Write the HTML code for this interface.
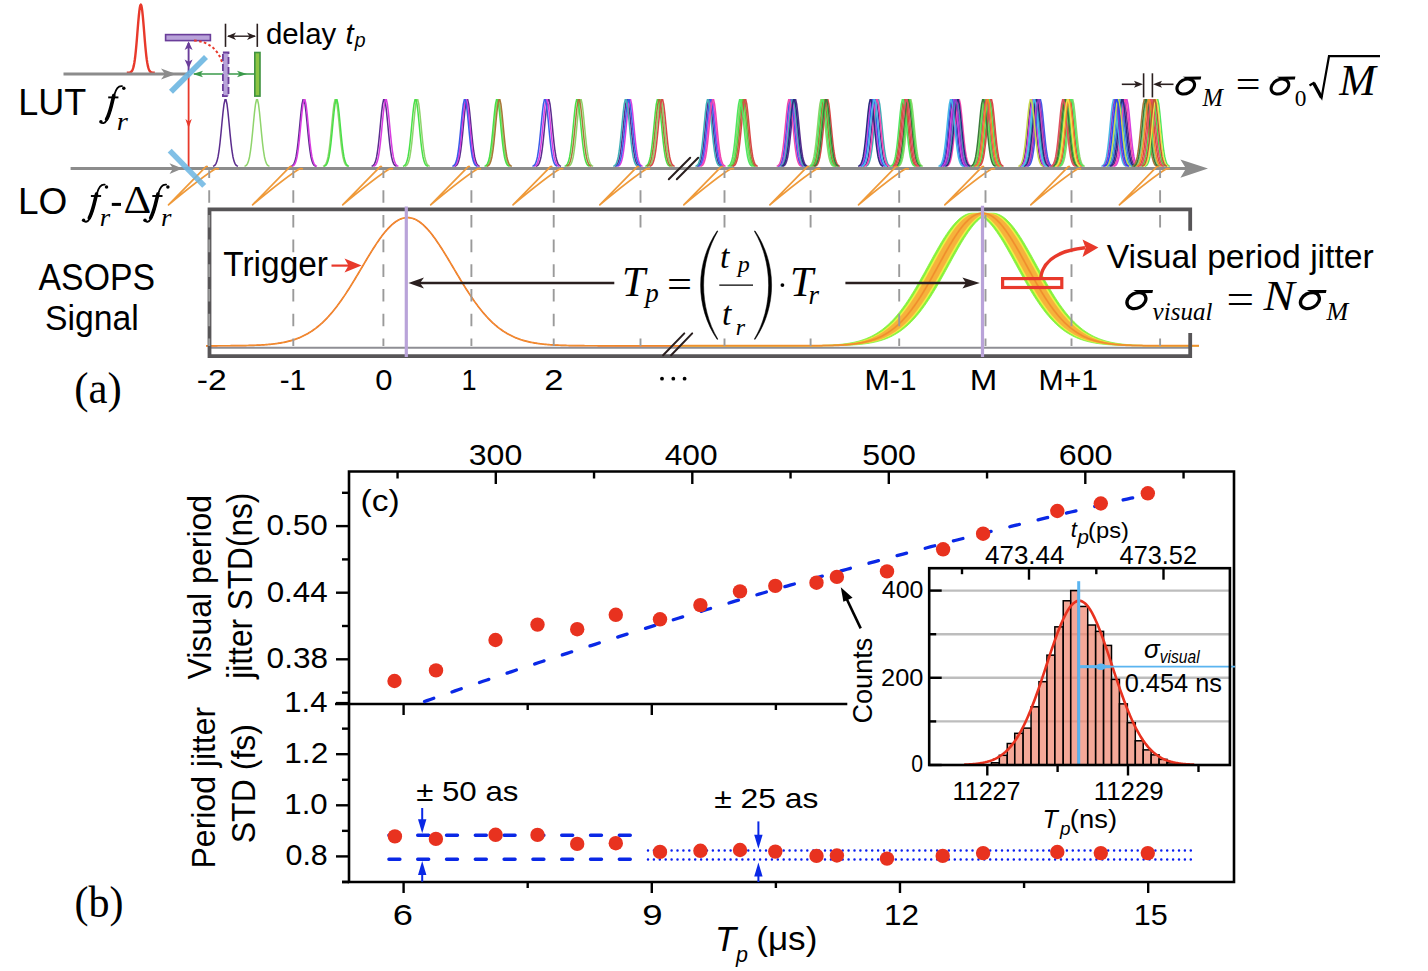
<!DOCTYPE html>
<html><head><meta charset="utf-8"><style>
html,body{margin:0;padding:0;background:#fff;width:1428px;height:971px;overflow:hidden;}
svg{display:block;}
</style></head><body>
<svg width="1428" height="971" viewBox="0 0 1428 971">
<rect width="1428" height="971" fill="#fff"/>
<path d="M126.8 72.79 127.3 72.78 127.8 72.77 128.3 72.75 128.8 72.71 129.3 72.64 129.8 72.54 130.3 72.37 130.8 72.11 131.3 71.72 131.8 71.15 132.3 70.33 132.8 69.19 133.3 67.65 133.8 65.61 134.3 63 134.8 59.74 135.3 55.79 135.8 51.16 136.3 45.88 136.8 40.09 137.3 33.94 137.8 27.68 138.3 21.61 138.8 16.04 139.3 11.29 139.8 7.66 140.3 5.38 140.8 4.6 141.3 5.38 141.8 7.66 142.3 11.29 142.8 16.04 143.3 21.61 143.8 27.68 144.3 33.94 144.8 40.09 145.3 45.88 145.8 51.16 146.3 55.79 146.8 59.74 147.3 63 147.8 65.61 148.3 67.65 148.8 69.19 149.3 70.33 149.8 71.15 150.3 71.72 150.8 72.11 151.3 72.37 151.8 72.54 152.3 72.64 152.8 72.71 153.3 72.75 153.8 72.77 154.3 72.78 154.8 72.79" fill="none" stroke="#e8392b" stroke-width="2.4" stroke-linejoin="round"/>
<line x1="63.5" y1="74" x2="189" y2="74" stroke="#8c8c8c" stroke-width="3"/>
<polygon points="176,74 161,68.6 165,74 161,79.4" fill="#8c8c8c"/>
<line x1="188.6" y1="74" x2="188.6" y2="168.5" stroke="#e8392b" stroke-width="1.8"/>
<polygon points="188.6,128 185.4,119 188.6,121.5 191.8,119" fill="#e8392b"/>
<line x1="188.6" y1="43" x2="188.6" y2="73" stroke="#6a3d9a" stroke-width="1.9"/>
<polygon points="188.6,41.3 184.6,50 188.6,47.8 192.6,50" fill="#6a3d9a"/>
<polygon points="188.6,68.2 184.6,59.5 188.6,61.7 192.6,59.5" fill="#6a3d9a"/>
<rect x="165.6" y="34.6" width="44.8" height="6" fill="#b8a2d9" stroke="#6a3d9a" stroke-width="1.6"/>
<path d="M194 40.5 Q216 42 222.5 63.5" fill="none" stroke="#e8392b" stroke-width="2" stroke-dasharray="2.6 2.4"/>
<line x1="171" y1="91.8" x2="206" y2="57" stroke="#6cb6e2" stroke-width="5.6" opacity="0.9"/>
<line x1="194" y1="74" x2="254.5" y2="74" stroke="#3a9a4a" stroke-width="1.5"/>
<polygon points="192.8,74 203,70.8 200.5,74 203,77.2" fill="#3a9a4a"/>
<polygon points="247,74 237,70.8 239.5,74 237,77.2" fill="#3a9a4a"/>
<rect x="222.9" y="52.5" width="5.6" height="43.6" fill="#b8a2d9" stroke="#6a3d9a" stroke-width="1.8" stroke-dasharray="7 3"/>
<rect x="254.8" y="52.5" width="5.2" height="43.6" fill="#8cc444" stroke="#3f9340" stroke-width="1.6"/>
<line x1="225.5" y1="23.7" x2="225.5" y2="46.9" stroke="#2a1f1f" stroke-width="1.6"/>
<line x1="257.3" y1="23.7" x2="257.3" y2="46.9" stroke="#2a1f1f" stroke-width="1.6"/>
<line x1="228" y1="36.2" x2="255" y2="36.2" stroke="#2a1f1f" stroke-width="1.4"/>
<polygon points="227,36.2 236,32.4 233.5,36.2 236,40" fill="#2a1f1f"/>
<polygon points="256,36.2 247,32.4 249.5,36.2 247,40" fill="#2a1f1f"/>
<text x="265.92" y="43.6" font-family="Liberation Sans" font-size="29.2" fill="#000" textLength="70.3" lengthAdjust="spacingAndGlyphs">delay</text>
<text x="345.59" y="43.6" font-family="Liberation Sans" font-size="29.2" font-style="italic" fill="#000">t</text>
<text x="354.79" y="47" font-family="Liberation Sans" font-size="19.5" font-style="italic" fill="#000">p</text>
<text x="18.22" y="115" font-family="Liberation Sans" font-size="37" fill="#000" textLength="68.08" lengthAdjust="spacingAndGlyphs">LUT</text>
<path d="M100.8 121.9 C102.2 123.9 104.6 123.6 106.4 120.8 C108.4 117.6 110 112 111.4 106.5 L114.4 94.5 C116.2 88 119.4 85.7 122 86.1" fill="none" stroke="#000" stroke-width="1.8" stroke-linecap="round"/>
<path d="M106.6 119.2 C108.6 115.8 109.8 111.5 111.2 106.2 L113.8 95.5" fill="none" stroke="#000" stroke-width="3.6" stroke-linecap="round"/>
<circle cx="100.9" cy="121.7" r="1.75"/>
<circle cx="123.8" cy="88.3" r="1.75"/>
<line x1="108.2" y1="97.4" x2="118.4" y2="97.4" stroke="#000" stroke-width="1.92"/>
<text x="116.76" y="129.6" font-family="Liberation Serif" font-size="25" font-style="italic" fill="#000" textLength="11.12" lengthAdjust="spacingAndGlyphs">r</text>
<text x="18.05" y="213.6" font-family="Liberation Sans" font-size="37" fill="#000">LO</text>
<path d="M83.5 220.5 C84.9 222.5 87.3 222.2 89.1 219.4 C91.1 216.2 92.7 210.6 94.1 205.1 L97.1 193.1 C98.9 186.6 102.1 184.3 104.7 184.7" fill="none" stroke="#000" stroke-width="1.8" stroke-linecap="round"/>
<path d="M89.3 217.8 C91.3 214.4 92.5 210.1 93.9 204.8 L96.5 194.1" fill="none" stroke="#000" stroke-width="3.6" stroke-linecap="round"/>
<circle cx="83.6" cy="220.3" r="1.75"/>
<circle cx="106.5" cy="186.9" r="1.75"/>
<line x1="90.9" y1="196" x2="101.1" y2="196" stroke="#000" stroke-width="1.92"/>
<text x="99.73" y="226.4" font-family="Liberation Serif" font-size="25" font-style="italic" fill="#000" textLength="10.45" lengthAdjust="spacingAndGlyphs">r</text>
<rect x="111.8" y="202.9" width="9.2" height="3" fill="#000"/>
<text x="123.47" y="212.8" font-family="Liberation Serif" font-size="41" fill="#000" textLength="27.77" lengthAdjust="spacingAndGlyphs">Δ</text>
<path d="M144.9 220.5 C146.3 222.5 148.7 222.2 150.5 219.4 C152.5 216.2 154.1 210.6 155.5 205.1 L158.5 193.1 C160.3 186.6 163.5 184.3 166.1 184.7" fill="none" stroke="#000" stroke-width="1.8" stroke-linecap="round"/>
<path d="M150.7 217.8 C152.7 214.4 153.9 210.1 155.3 204.8 L157.9 194.1" fill="none" stroke="#000" stroke-width="3.6" stroke-linecap="round"/>
<circle cx="145" cy="220.3" r="1.75"/>
<circle cx="167.9" cy="186.9" r="1.75"/>
<line x1="152.3" y1="196" x2="162.5" y2="196" stroke="#000" stroke-width="1.92"/>
<text x="161.13" y="226.4" font-family="Liberation Serif" font-size="25" font-style="italic" fill="#000" textLength="10.45" lengthAdjust="spacingAndGlyphs">r</text>
<line x1="70.6" y1="168.6" x2="1186" y2="168.6" stroke="#8c8c8c" stroke-width="3"/>
<polygon points="182.5,168.6 169.5,163.2 173,168.6 169.5,174" fill="#8c8c8c"/>
<polygon points="1208,168.6 1180.4,159.4 1186,168.6 1180.4,177.8" fill="#8c8c8c"/>
<path d="M213 166.3 214 165.91 215 165.12 216 163.64 217 161.08 218 156.99 219 150.99 220 142.95 221 133.17 222 122.5 223 112.32 224 104.25 225 99.78 226 99.78 227 104.25 228 112.32 229 122.5 230 133.17 231 142.95 232 150.99 233 156.99 234 161.08 235 163.64 236 165.12 237 165.91 238 166.3" fill="none" stroke="#5b2d8e" stroke-width="1.5"/>
<path d="M244.5 166.3 245.5 165.91 246.5 165.12 247.5 163.64 248.5 161.08 249.5 156.99 250.5 150.99 251.5 142.95 252.5 133.17 253.5 122.5 254.5 112.32 255.5 104.25 256.5 99.78 257.5 99.78 258.5 104.25 259.5 112.32 260.5 122.5 261.5 133.17 262.5 142.95 263.5 150.99 264.5 156.99 265.5 161.08 266.5 163.64 267.5 165.12 268.5 165.91 269.5 166.3" fill="none" stroke="#8fd46c" stroke-width="1.5"/>
<path d="M291 166.3 292 165.91 293 165.12 294 163.64 295 161.08 296 156.99 297 150.99 298 142.95 299 133.17 300 122.5 301 112.32 302 104.25 303 99.78 304 99.78 305 104.25 306 112.32 307 122.5 308 133.17 309 142.95 310 150.99 311 156.99 312 161.08 313 163.64 314 165.12 315 165.91 316 166.3" fill="none" stroke="#5b2d8e" stroke-width="1.5"/>
<path d="M292 166.3 293 165.91 294 165.12 295 163.64 296 161.08 297 156.99 298 150.99 299 142.95 300 133.17 301 122.5 302 112.32 303 104.25 304 99.78 305 99.78 306 104.25 307 112.32 308 122.5 309 133.17 310 142.95 311 150.99 312 156.99 313 161.08 314 163.64 315 165.12 316 165.91 317 166.3" fill="none" stroke="#d83ce0" stroke-width="1.5"/>
<path d="M323 166.3 324 165.91 325 165.12 326 163.64 327 161.08 328 156.99 329 150.99 330 142.95 331 133.17 332 122.5 333 112.32 334 104.25 335 99.78 336 99.78 337 104.25 338 112.32 339 122.5 340 133.17 341 142.95 342 150.99 343 156.99 344 161.08 345 163.64 346 165.12 347 165.91 348 166.3" fill="none" stroke="#8fd46c" stroke-width="1.5"/>
<path d="M324 166.3 325 165.91 326 165.12 327 163.64 328 161.08 329 156.99 330 150.99 331 142.95 332 133.17 333 122.5 334 112.32 335 104.25 336 99.78 337 99.78 338 104.25 339 112.32 340 122.5 341 133.17 342 142.95 343 150.99 344 156.99 345 161.08 346 163.64 347 165.12 348 165.91 349 166.3" fill="none" stroke="#48e048" stroke-width="1.5"/>
<path d="M371.6 166.3 372.6 165.91 373.6 165.12 374.6 163.64 375.6 161.08 376.6 156.99 377.6 150.99 378.6 142.95 379.6 133.17 380.6 122.5 381.6 112.32 382.6 104.25 383.6 99.78 384.6 99.78 385.6 104.25 386.6 112.32 387.6 122.5 388.6 133.17 389.6 142.95 390.6 150.99 391.6 156.99 392.6 161.08 393.6 163.64 394.6 165.12 395.6 165.91 396.6 166.3" fill="none" stroke="#5b2d8e" stroke-width="1.5"/>
<path d="M373.4 166.3 374.4 165.91 375.4 165.12 376.4 163.64 377.4 161.08 378.4 156.99 379.4 150.99 380.4 142.95 381.4 133.17 382.4 122.5 383.4 112.32 384.4 104.25 385.4 99.78 386.4 99.78 387.4 104.25 388.4 112.32 389.4 122.5 390.4 133.17 391.4 142.95 392.4 150.99 393.4 156.99 394.4 161.08 395.4 163.64 396.4 165.12 397.4 165.91 398.4 166.3" fill="none" stroke="#d83ce0" stroke-width="1.5"/>
<path d="M404.8 166.3 405.8 165.91 406.8 165.12 407.8 163.64 408.8 161.08 409.8 156.99 410.8 150.99 411.8 142.95 412.8 133.17 413.8 122.5 414.8 112.32 415.8 104.25 416.8 99.78 417.8 99.78 418.8 104.25 419.8 112.32 420.8 122.5 421.8 133.17 422.8 142.95 423.8 150.99 424.8 156.99 425.8 161.08 426.8 163.64 427.8 165.12 428.8 165.91 429.8 166.3" fill="none" stroke="#8fd46c" stroke-width="1.5"/>
<path d="M403 166.3 404 165.91 405 165.12 406 163.64 407 161.08 408 156.99 409 150.99 410 142.95 411 133.17 412 122.5 413 112.32 414 104.25 415 99.78 416 99.78 417 104.25 418 112.32 419 122.5 420 133.17 421 142.95 422 150.99 423 156.99 424 161.08 425 163.64 426 165.12 427 165.91 428 166.3" fill="none" stroke="#48e048" stroke-width="1.5"/>
<path d="M454.7 166.3 455.7 165.91 456.7 165.12 457.7 163.64 458.7 161.08 459.7 156.99 460.7 150.99 461.7 142.95 462.7 133.17 463.7 122.5 464.7 112.32 465.7 104.25 466.7 99.78 467.7 99.78 468.7 104.25 469.7 112.32 470.7 122.5 471.7 133.17 472.7 142.95 473.7 150.99 474.7 156.99 475.7 161.08 476.7 163.64 477.7 165.12 478.7 165.91 479.7 166.3" fill="none" stroke="#5b2d8e" stroke-width="1.5"/>
<path d="M453.5 166.3 454.5 165.91 455.5 165.12 456.5 163.64 457.5 161.08 458.5 156.99 459.5 150.99 460.5 142.95 461.5 133.17 462.5 122.5 463.5 112.32 464.5 104.25 465.5 99.78 466.5 99.78 467.5 104.25 468.5 112.32 469.5 122.5 470.5 133.17 471.5 142.95 472.5 150.99 473.5 156.99 474.5 161.08 475.5 163.64 476.5 165.12 477.5 165.91 478.5 166.3" fill="none" stroke="#d83ce0" stroke-width="1.5"/>
<path d="M452.3 166.3 453.3 165.91 454.3 165.12 455.3 163.64 456.3 161.08 457.3 156.99 458.3 150.99 459.3 142.95 460.3 133.17 461.3 122.5 462.3 112.32 463.3 104.25 464.3 99.78 465.3 99.78 466.3 104.25 467.3 112.32 468.3 122.5 469.3 133.17 470.3 142.95 471.3 150.99 472.3 156.99 473.3 161.08 474.3 163.64 475.3 165.12 476.3 165.91 477.3 166.3" fill="none" stroke="#3c5ce8" stroke-width="1.5"/>
<path d="M485.7 166.3 486.7 165.91 487.7 165.12 488.7 163.64 489.7 161.08 490.7 156.99 491.7 150.99 492.7 142.95 493.7 133.17 494.7 122.5 495.7 112.32 496.7 104.25 497.7 99.78 498.7 99.78 499.7 104.25 500.7 112.32 501.7 122.5 502.7 133.17 503.7 142.95 504.7 150.99 505.7 156.99 506.7 161.08 507.7 163.64 508.7 165.12 509.7 165.91 510.7 166.3" fill="none" stroke="#8fd46c" stroke-width="1.5"/>
<path d="M484.5 166.3 485.5 165.91 486.5 165.12 487.5 163.64 488.5 161.08 489.5 156.99 490.5 150.99 491.5 142.95 492.5 133.17 493.5 122.5 494.5 112.32 495.5 104.25 496.5 99.78 497.5 99.78 498.5 104.25 499.5 112.32 500.5 122.5 501.5 133.17 502.5 142.95 503.5 150.99 504.5 156.99 505.5 161.08 506.5 163.64 507.5 165.12 508.5 165.91 509.5 166.3" fill="none" stroke="#48e048" stroke-width="1.5"/>
<path d="M486.9 166.3 487.9 165.91 488.9 165.12 489.9 163.64 490.9 161.08 491.9 156.99 492.9 150.99 493.9 142.95 494.9 133.17 495.9 122.5 496.9 112.32 497.9 104.25 498.9 99.78 499.9 99.78 500.9 104.25 501.9 112.32 502.9 122.5 503.9 133.17 504.9 142.95 505.9 150.99 506.9 156.99 507.9 161.08 508.9 163.64 509.9 165.12 510.9 165.91 511.9 166.3" fill="none" stroke="#a87838" stroke-width="1.5"/>
<path d="M536 166.3 537 165.91 538 165.12 539 163.64 540 161.08 541 156.99 542 150.99 543 142.95 544 133.17 545 122.5 546 112.32 547 104.25 548 99.78 549 99.78 550 104.25 551 112.32 552 122.5 553 133.17 554 142.95 555 150.99 556 156.99 557 161.08 558 163.64 559 165.12 560 165.91 561 166.3" fill="none" stroke="#5b2d8e" stroke-width="1.5"/>
<path d="M534.2 166.3 535.2 165.91 536.2 165.12 537.2 163.64 538.2 161.08 539.2 156.99 540.2 150.99 541.2 142.95 542.2 133.17 543.2 122.5 544.2 112.32 545.2 104.25 546.2 99.78 547.2 99.78 548.2 104.25 549.2 112.32 550.2 122.5 551.2 133.17 552.2 142.95 553.2 150.99 554.2 156.99 555.2 161.08 556.2 163.64 557.2 165.12 558.2 165.91 559.2 166.3" fill="none" stroke="#d83ce0" stroke-width="1.5"/>
<path d="M532.4 166.3 533.4 165.91 534.4 165.12 535.4 163.64 536.4 161.08 537.4 156.99 538.4 150.99 539.4 142.95 540.4 133.17 541.4 122.5 542.4 112.32 543.4 104.25 544.4 99.78 545.4 99.78 546.4 104.25 547.4 112.32 548.4 122.5 549.4 133.17 550.4 142.95 551.4 150.99 552.4 156.99 553.4 161.08 554.4 163.64 555.4 165.12 556.4 165.91 557.4 166.3" fill="none" stroke="#3c5ce8" stroke-width="1.5"/>
<path d="M568.2 166.3 569.2 165.91 570.2 165.12 571.2 163.64 572.2 161.08 573.2 156.99 574.2 150.99 575.2 142.95 576.2 133.17 577.2 122.5 578.2 112.32 579.2 104.25 580.2 99.78 581.2 99.78 582.2 104.25 583.2 112.32 584.2 122.5 585.2 133.17 586.2 142.95 587.2 150.99 588.2 156.99 589.2 161.08 590.2 163.64 591.2 165.12 592.2 165.91 593.2 166.3" fill="none" stroke="#8fd46c" stroke-width="1.5"/>
<path d="M564.6 166.3 565.6 165.91 566.6 165.12 567.6 163.64 568.6 161.08 569.6 156.99 570.6 150.99 571.6 142.95 572.6 133.17 573.6 122.5 574.6 112.32 575.6 104.25 576.6 99.78 577.6 99.78 578.6 104.25 579.6 112.32 580.6 122.5 581.6 133.17 582.6 142.95 583.6 150.99 584.6 156.99 585.6 161.08 586.6 163.64 587.6 165.12 588.6 165.91 589.6 166.3" fill="none" stroke="#48e048" stroke-width="1.5"/>
<path d="M566.4 166.3 567.4 165.91 568.4 165.12 569.4 163.64 570.4 161.08 571.4 156.99 572.4 150.99 573.4 142.95 574.4 133.17 575.4 122.5 576.4 112.32 577.4 104.25 578.4 99.78 579.4 99.78 580.4 104.25 581.4 112.32 582.4 122.5 583.4 133.17 584.4 142.95 585.4 150.99 586.4 156.99 587.4 161.08 588.4 163.64 589.4 165.12 590.4 165.91 591.4 166.3" fill="none" stroke="#a87838" stroke-width="1.5"/>
<path d="M614.67 166.3 615.67 165.91 616.67 165.12 617.67 163.64 618.67 161.08 619.67 156.99 620.67 150.99 621.67 142.95 622.67 133.17 623.67 122.5 624.67 112.32 625.67 104.25 626.67 99.78 627.67 99.78 628.67 104.25 629.67 112.32 630.67 122.5 631.67 133.17 632.67 142.95 633.67 150.99 634.67 156.99 635.67 161.08 636.67 163.64 637.67 165.12 638.67 165.91 639.67 166.3" fill="none" stroke="#5b2d8e" stroke-width="1.5"/>
<path d="M617.6 166.3 618.6 165.91 619.6 165.12 620.6 163.64 621.6 161.08 622.6 156.99 623.6 150.99 624.6 142.95 625.6 133.17 626.6 122.5 627.6 112.32 628.6 104.25 629.6 99.78 630.6 99.78 631.6 104.25 632.6 112.32 633.6 122.5 634.6 133.17 635.6 142.95 636.6 150.99 637.6 156.99 638.6 161.08 639.6 163.64 640.6 165.12 641.6 165.91 642.6 166.3" fill="none" stroke="#d83ce0" stroke-width="1.5"/>
<path d="M616.13 166.3 617.13 165.91 618.13 165.12 619.13 163.64 620.13 161.08 621.13 156.99 622.13 150.99 623.13 142.95 624.13 133.17 625.13 122.5 626.13 112.32 627.13 104.25 628.13 99.78 629.13 99.78 630.13 104.25 631.13 112.32 632.13 122.5 633.13 133.17 634.13 142.95 635.13 150.99 636.13 156.99 637.13 161.08 638.13 163.64 639.13 165.12 640.13 165.91 641.13 166.3" fill="none" stroke="#3c5ce8" stroke-width="1.5"/>
<path d="M613.2 166.3 614.2 165.91 615.2 165.12 616.2 163.64 617.2 161.08 618.2 156.99 619.2 150.99 620.2 142.95 621.2 133.17 622.2 122.5 623.2 112.32 624.2 104.25 625.2 99.78 626.2 99.78 627.2 104.25 628.2 112.32 629.2 122.5 630.2 133.17 631.2 142.95 632.2 150.99 633.2 156.99 634.2 161.08 635.2 163.64 636.2 165.12 637.2 165.91 638.2 166.3" fill="none" stroke="#40b0b8" stroke-width="1.5"/>
<path d="M648.23 166.3 649.23 165.91 650.23 165.12 651.23 163.64 652.23 161.08 653.23 156.99 654.23 150.99 655.23 142.95 656.23 133.17 657.23 122.5 658.23 112.32 659.23 104.25 660.23 99.78 661.23 99.78 662.23 104.25 663.23 112.32 664.23 122.5 665.23 133.17 666.23 142.95 667.23 150.99 668.23 156.99 669.23 161.08 670.23 163.64 671.23 165.12 672.23 165.91 673.23 166.3" fill="none" stroke="#8fd46c" stroke-width="1.5"/>
<path d="M645.3 166.3 646.3 165.91 647.3 165.12 648.3 163.64 649.3 161.08 650.3 156.99 651.3 150.99 652.3 142.95 653.3 133.17 654.3 122.5 655.3 112.32 656.3 104.25 657.3 99.78 658.3 99.78 659.3 104.25 660.3 112.32 661.3 122.5 662.3 133.17 663.3 142.95 664.3 150.99 665.3 156.99 666.3 161.08 667.3 163.64 668.3 165.12 669.3 165.91 670.3 166.3" fill="none" stroke="#48e048" stroke-width="1.5"/>
<path d="M646.77 166.3 647.77 165.91 648.77 165.12 649.77 163.64 650.77 161.08 651.77 156.99 652.77 150.99 653.77 142.95 654.77 133.17 655.77 122.5 656.77 112.32 657.77 104.25 658.77 99.78 659.77 99.78 660.77 104.25 661.77 112.32 662.77 122.5 663.77 133.17 664.77 142.95 665.77 150.99 666.77 156.99 667.77 161.08 668.77 163.64 669.77 165.12 670.77 165.91 671.77 166.3" fill="none" stroke="#a87838" stroke-width="1.5"/>
<path d="M649.7 166.3 650.7 165.91 651.7 165.12 652.7 163.64 653.7 161.08 654.7 156.99 655.7 150.99 656.7 142.95 657.7 133.17 658.7 122.5 659.7 112.32 660.7 104.25 661.7 99.78 662.7 99.78 663.7 104.25 664.7 112.32 665.7 122.5 666.7 133.17 667.7 142.95 668.7 150.99 669.7 156.99 670.7 161.08 671.7 163.64 672.7 165.12 673.7 165.91 674.7 166.3" fill="none" stroke="#d84848" stroke-width="1.5"/>
<path d="M696.7 166.3 697.7 165.91 698.7 165.12 699.7 163.64 700.7 161.08 701.7 156.99 702.7 150.99 703.7 142.95 704.7 133.17 705.7 122.5 706.7 112.32 707.7 104.25 708.7 99.78 709.7 99.78 710.7 104.25 711.7 112.32 712.7 122.5 713.7 133.17 714.7 142.95 715.7 150.99 716.7 156.99 717.7 161.08 718.7 163.64 719.7 165.12 720.7 165.91 721.7 166.3" fill="none" stroke="#5b2d8e" stroke-width="1.5"/>
<path d="M699.3 166.3 700.3 165.91 701.3 165.12 702.3 163.64 703.3 161.08 704.3 156.99 705.3 150.99 706.3 142.95 707.3 133.17 708.3 122.5 709.3 112.32 710.3 104.25 711.3 99.78 712.3 99.78 713.3 104.25 714.3 112.32 715.3 122.5 716.3 133.17 717.3 142.95 718.3 150.99 719.3 156.99 720.3 161.08 721.3 163.64 722.3 165.12 723.3 165.91 724.3 166.3" fill="none" stroke="#d83ce0" stroke-width="1.5"/>
<path d="M698 166.3 699 165.91 700 165.12 701 163.64 702 161.08 703 156.99 704 150.99 705 142.95 706 133.17 707 122.5 708 112.32 709 104.25 710 99.78 711 99.78 712 104.25 713 112.32 714 122.5 715 133.17 716 142.95 717 150.99 718 156.99 719 161.08 720 163.64 721 165.12 722 165.91 723 166.3" fill="none" stroke="#3c5ce8" stroke-width="1.5"/>
<path d="M695.4 166.3 696.4 165.91 697.4 165.12 698.4 163.64 699.4 161.08 700.4 156.99 701.4 150.99 702.4 142.95 703.4 133.17 704.4 122.5 705.4 112.32 706.4 104.25 707.4 99.78 708.4 99.78 709.4 104.25 710.4 112.32 711.4 122.5 712.4 133.17 713.4 142.95 714.4 150.99 715.4 156.99 716.4 161.08 717.4 163.64 718.4 165.12 719.4 165.91 720.4 166.3" fill="none" stroke="#40b0b8" stroke-width="1.5"/>
<path d="M700.6 166.3 701.6 165.91 702.6 165.12 703.6 163.64 704.6 161.08 705.6 156.99 706.6 150.99 707.6 142.95 708.6 133.17 709.6 122.5 710.6 112.32 711.6 104.25 712.6 99.78 713.6 99.78 714.6 104.25 715.6 112.32 716.6 122.5 717.6 133.17 718.6 142.95 719.6 150.99 720.6 156.99 721.6 161.08 722.6 163.64 723.6 165.12 724.6 165.91 725.6 166.3" fill="none" stroke="#f048b0" stroke-width="1.5"/>
<path d="M728.9 166.3 729.9 165.91 730.9 165.12 731.9 163.64 732.9 161.08 733.9 156.99 734.9 150.99 735.9 142.95 736.9 133.17 737.9 122.5 738.9 112.32 739.9 104.25 740.9 99.78 741.9 99.78 742.9 104.25 743.9 112.32 744.9 122.5 745.9 133.17 746.9 142.95 747.9 150.99 748.9 156.99 749.9 161.08 750.9 163.64 751.9 165.12 752.9 165.91 753.9 166.3" fill="none" stroke="#8fd46c" stroke-width="1.5"/>
<path d="M730.2 166.3 731.2 165.91 732.2 165.12 733.2 163.64 734.2 161.08 735.2 156.99 736.2 150.99 737.2 142.95 738.2 133.17 739.2 122.5 740.2 112.32 741.2 104.25 742.2 99.78 743.2 99.78 744.2 104.25 745.2 112.32 746.2 122.5 747.2 133.17 748.2 142.95 749.2 150.99 750.2 156.99 751.2 161.08 752.2 163.64 753.2 165.12 754.2 165.91 755.2 166.3" fill="none" stroke="#48e048" stroke-width="1.5"/>
<path d="M731.5 166.3 732.5 165.91 733.5 165.12 734.5 163.64 735.5 161.08 736.5 156.99 737.5 150.99 738.5 142.95 739.5 133.17 740.5 122.5 741.5 112.32 742.5 104.25 743.5 99.78 744.5 99.78 745.5 104.25 746.5 112.32 747.5 122.5 748.5 133.17 749.5 142.95 750.5 150.99 751.5 156.99 752.5 161.08 753.5 163.64 754.5 165.12 755.5 165.91 756.5 166.3" fill="none" stroke="#a87838" stroke-width="1.5"/>
<path d="M732.8 166.3 733.8 165.91 734.8 165.12 735.8 163.64 736.8 161.08 737.8 156.99 738.8 150.99 739.8 142.95 740.8 133.17 741.8 122.5 742.8 112.32 743.8 104.25 744.8 99.78 745.8 99.78 746.8 104.25 747.8 112.32 748.8 122.5 749.8 133.17 750.8 142.95 751.8 150.99 752.8 156.99 753.8 161.08 754.8 163.64 755.8 165.12 756.8 165.91 757.8 166.3" fill="none" stroke="#d84848" stroke-width="1.5"/>
<path d="M727.6 166.3 728.6 165.91 729.6 165.12 730.6 163.64 731.6 161.08 732.6 156.99 733.6 150.99 734.6 142.95 735.6 133.17 736.6 122.5 737.6 112.32 738.6 104.25 739.6 99.78 740.6 99.78 741.6 104.25 742.6 112.32 743.6 122.5 744.6 133.17 745.6 142.95 746.6 150.99 747.6 156.99 748.6 161.08 749.6 163.64 750.6 165.12 751.6 165.91 752.6 166.3" fill="none" stroke="#50e860" stroke-width="1.5"/>
<path d="M782.7 166.3 783.7 165.91 784.7 165.12 785.7 163.64 786.7 161.08 787.7 156.99 788.7 150.99 789.7 142.95 790.7 133.17 791.7 122.5 792.7 112.32 793.7 104.25 794.7 99.78 795.7 99.78 796.7 104.25 797.7 112.32 798.7 122.5 799.7 133.17 800.7 142.95 801.7 150.99 802.7 156.99 803.7 161.08 804.7 163.64 805.7 165.12 806.7 165.91 807.7 166.3" fill="none" stroke="#5b2d8e" stroke-width="1.5"/>
<path d="M779.1 166.3 780.1 165.91 781.1 165.12 782.1 163.64 783.1 161.08 784.1 156.99 785.1 150.99 786.1 142.95 787.1 133.17 788.1 122.5 789.1 112.32 790.1 104.25 791.1 99.78 792.1 99.78 793.1 104.25 794.1 112.32 795.1 122.5 796.1 133.17 797.1 142.95 798.1 150.99 799.1 156.99 800.1 161.08 801.1 163.64 802.1 165.12 803.1 165.91 804.1 166.3" fill="none" stroke="#d83ce0" stroke-width="1.5"/>
<path d="M777.9 166.3 778.9 165.91 779.9 165.12 780.9 163.64 781.9 161.08 782.9 156.99 783.9 150.99 784.9 142.95 785.9 133.17 786.9 122.5 787.9 112.32 788.9 104.25 789.9 99.78 790.9 99.78 791.9 104.25 792.9 112.32 793.9 122.5 794.9 133.17 795.9 142.95 796.9 150.99 797.9 156.99 798.9 161.08 799.9 163.64 800.9 165.12 801.9 165.91 802.9 166.3" fill="none" stroke="#3c5ce8" stroke-width="1.5"/>
<path d="M780.3 166.3 781.3 165.91 782.3 165.12 783.3 163.64 784.3 161.08 785.3 156.99 786.3 150.99 787.3 142.95 788.3 133.17 789.3 122.5 790.3 112.32 791.3 104.25 792.3 99.78 793.3 99.78 794.3 104.25 795.3 112.32 796.3 122.5 797.3 133.17 798.3 142.95 799.3 150.99 800.3 156.99 801.3 161.08 802.3 163.64 803.3 165.12 804.3 165.91 805.3 166.3" fill="none" stroke="#40b0b8" stroke-width="1.5"/>
<path d="M776.7 166.3 777.7 165.91 778.7 165.12 779.7 163.64 780.7 161.08 781.7 156.99 782.7 150.99 783.7 142.95 784.7 133.17 785.7 122.5 786.7 112.32 787.7 104.25 788.7 99.78 789.7 99.78 790.7 104.25 791.7 112.32 792.7 122.5 793.7 133.17 794.7 142.95 795.7 150.99 796.7 156.99 797.7 161.08 798.7 163.64 799.7 165.12 800.7 165.91 801.7 166.3" fill="none" stroke="#f048b0" stroke-width="1.5"/>
<path d="M781.5 166.3 782.5 165.91 783.5 165.12 784.5 163.64 785.5 161.08 786.5 156.99 787.5 150.99 788.5 142.95 789.5 133.17 790.5 122.5 791.5 112.32 792.5 104.25 793.5 99.78 794.5 99.78 795.5 104.25 796.5 112.32 797.5 122.5 798.5 133.17 799.5 142.95 800.5 150.99 801.5 156.99 802.5 161.08 803.5 163.64 804.5 165.12 805.5 165.91 806.5 166.3" fill="none" stroke="#2a2a80" stroke-width="1.5"/>
<path d="M808.9 166.3 809.9 165.91 810.9 165.12 811.9 163.64 812.9 161.08 813.9 156.99 814.9 150.99 815.9 142.95 816.9 133.17 817.9 122.5 818.9 112.32 819.9 104.25 820.9 99.78 821.9 99.78 822.9 104.25 823.9 112.32 824.9 122.5 825.9 133.17 826.9 142.95 827.9 150.99 828.9 156.99 829.9 161.08 830.9 163.64 831.9 165.12 832.9 165.91 833.9 166.3" fill="none" stroke="#8fd46c" stroke-width="1.5"/>
<path d="M812.5 166.3 813.5 165.91 814.5 165.12 815.5 163.64 816.5 161.08 817.5 156.99 818.5 150.99 819.5 142.95 820.5 133.17 821.5 122.5 822.5 112.32 823.5 104.25 824.5 99.78 825.5 99.78 826.5 104.25 827.5 112.32 828.5 122.5 829.5 133.17 830.5 142.95 831.5 150.99 832.5 156.99 833.5 161.08 834.5 163.64 835.5 165.12 836.5 165.91 837.5 166.3" fill="none" stroke="#48e048" stroke-width="1.5"/>
<path d="M811.3 166.3 812.3 165.91 813.3 165.12 814.3 163.64 815.3 161.08 816.3 156.99 817.3 150.99 818.3 142.95 819.3 133.17 820.3 122.5 821.3 112.32 822.3 104.25 823.3 99.78 824.3 99.78 825.3 104.25 826.3 112.32 827.3 122.5 828.3 133.17 829.3 142.95 830.3 150.99 831.3 156.99 832.3 161.08 833.3 163.64 834.3 165.12 835.3 165.91 836.3 166.3" fill="none" stroke="#a87838" stroke-width="1.5"/>
<path d="M814.9 166.3 815.9 165.91 816.9 165.12 817.9 163.64 818.9 161.08 819.9 156.99 820.9 150.99 821.9 142.95 822.9 133.17 823.9 122.5 824.9 112.32 825.9 104.25 826.9 99.78 827.9 99.78 828.9 104.25 829.9 112.32 830.9 122.5 831.9 133.17 832.9 142.95 833.9 150.99 834.9 156.99 835.9 161.08 836.9 163.64 837.9 165.12 838.9 165.91 839.9 166.3" fill="none" stroke="#d84848" stroke-width="1.5"/>
<path d="M810.1 166.3 811.1 165.91 812.1 165.12 813.1 163.64 814.1 161.08 815.1 156.99 816.1 150.99 817.1 142.95 818.1 133.17 819.1 122.5 820.1 112.32 821.1 104.25 822.1 99.78 823.1 99.78 824.1 104.25 825.1 112.32 826.1 122.5 827.1 133.17 828.1 142.95 829.1 150.99 830.1 156.99 831.1 161.08 832.1 163.64 833.1 165.12 834.1 165.91 835.1 166.3" fill="none" stroke="#50e860" stroke-width="1.5"/>
<path d="M813.7 166.3 814.7 165.91 815.7 165.12 816.7 163.64 817.7 161.08 818.7 156.99 819.7 150.99 820.7 142.95 821.7 133.17 822.7 122.5 823.7 112.32 824.7 104.25 825.7 99.78 826.7 99.78 827.7 104.25 828.7 112.32 829.7 122.5 830.7 133.17 831.7 142.95 832.7 150.99 833.7 156.99 834.7 161.08 835.7 163.64 836.7 165.12 837.7 165.91 838.7 166.3" fill="none" stroke="#3a7a3a" stroke-width="1.5"/>
<path d="M863.17 166.3 864.17 165.91 865.17 165.12 866.17 163.64 867.17 161.08 868.17 156.99 869.17 150.99 870.17 142.95 871.17 133.17 872.17 122.5 873.17 112.32 874.17 104.25 875.17 99.78 876.17 99.78 877.17 104.25 878.17 112.32 879.17 122.5 880.17 133.17 881.17 142.95 882.17 150.99 883.17 156.99 884.17 161.08 885.17 163.64 886.17 165.12 887.17 165.91 888.17 166.3" fill="none" stroke="#5b2d8e" stroke-width="1.5"/>
<path d="M859.37 166.3 860.37 165.91 861.37 165.12 862.37 163.64 863.37 161.08 864.37 156.99 865.37 150.99 866.37 142.95 867.37 133.17 868.37 122.5 869.37 112.32 870.37 104.25 871.37 99.78 872.37 99.78 873.37 104.25 874.37 112.32 875.37 122.5 876.37 133.17 877.37 142.95 878.37 150.99 879.37 156.99 880.37 161.08 881.37 163.64 882.37 165.12 883.37 165.91 884.37 166.3" fill="none" stroke="#d83ce0" stroke-width="1.5"/>
<path d="M860.63 166.3 861.63 165.91 862.63 165.12 863.63 163.64 864.63 161.08 865.63 156.99 866.63 150.99 867.63 142.95 868.63 133.17 869.63 122.5 870.63 112.32 871.63 104.25 872.63 99.78 873.63 99.78 874.63 104.25 875.63 112.32 876.63 122.5 877.63 133.17 878.63 142.95 879.63 150.99 880.63 156.99 881.63 161.08 882.63 163.64 883.63 165.12 884.63 165.91 885.63 166.3" fill="none" stroke="#3c5ce8" stroke-width="1.5"/>
<path d="M865.7 166.3 866.7 165.91 867.7 165.12 868.7 163.64 869.7 161.08 870.7 156.99 871.7 150.99 872.7 142.95 873.7 133.17 874.7 122.5 875.7 112.32 876.7 104.25 877.7 99.78 878.7 99.78 879.7 104.25 880.7 112.32 881.7 122.5 882.7 133.17 883.7 142.95 884.7 150.99 885.7 156.99 886.7 161.08 887.7 163.64 888.7 165.12 889.7 165.91 890.7 166.3" fill="none" stroke="#40b0b8" stroke-width="1.5"/>
<path d="M864.43 166.3 865.43 165.91 866.43 165.12 867.43 163.64 868.43 161.08 869.43 156.99 870.43 150.99 871.43 142.95 872.43 133.17 873.43 122.5 874.43 112.32 875.43 104.25 876.43 99.78 877.43 99.78 878.43 104.25 879.43 112.32 880.43 122.5 881.43 133.17 882.43 142.95 883.43 150.99 884.43 156.99 885.43 161.08 886.43 163.64 887.43 165.12 888.43 165.91 889.43 166.3" fill="none" stroke="#f048b0" stroke-width="1.5"/>
<path d="M858.1 166.3 859.1 165.91 860.1 165.12 861.1 163.64 862.1 161.08 863.1 156.99 864.1 150.99 865.1 142.95 866.1 133.17 867.1 122.5 868.1 112.32 869.1 104.25 870.1 99.78 871.1 99.78 872.1 104.25 873.1 112.32 874.1 122.5 875.1 133.17 876.1 142.95 877.1 150.99 878.1 156.99 879.1 161.08 880.1 163.64 881.1 165.12 882.1 165.91 883.1 166.3" fill="none" stroke="#2a2a80" stroke-width="1.5"/>
<path d="M861.9 166.3 862.9 165.91 863.9 165.12 864.9 163.64 865.9 161.08 866.9 156.99 867.9 150.99 868.9 142.95 869.9 133.17 870.9 122.5 871.9 112.32 872.9 104.25 873.9 99.78 874.9 99.78 875.9 104.25 876.9 112.32 877.9 122.5 878.9 133.17 879.9 142.95 880.9 150.99 881.9 156.99 882.9 161.08 883.9 163.64 884.9 165.12 885.9 165.91 886.9 166.3" fill="none" stroke="#48b8e8" stroke-width="1.5"/>
<path d="M897.9 166.3 898.9 165.91 899.9 165.12 900.9 163.64 901.9 161.08 902.9 156.99 903.9 150.99 904.9 142.95 905.9 133.17 906.9 122.5 907.9 112.32 908.9 104.25 909.9 99.78 910.9 99.78 911.9 104.25 912.9 112.32 913.9 122.5 914.9 133.17 915.9 142.95 916.9 150.99 917.9 156.99 918.9 161.08 919.9 163.64 920.9 165.12 921.9 165.91 922.9 166.3" fill="none" stroke="#8fd46c" stroke-width="1.5"/>
<path d="M896.63 166.3 897.63 165.91 898.63 165.12 899.63 163.64 900.63 161.08 901.63 156.99 902.63 150.99 903.63 142.95 904.63 133.17 905.63 122.5 906.63 112.32 907.63 104.25 908.63 99.78 909.63 99.78 910.63 104.25 911.63 112.32 912.63 122.5 913.63 133.17 914.63 142.95 915.63 150.99 916.63 156.99 917.63 161.08 918.63 163.64 919.63 165.12 920.63 165.91 921.63 166.3" fill="none" stroke="#48e048" stroke-width="1.5"/>
<path d="M891.57 166.3 892.57 165.91 893.57 165.12 894.57 163.64 895.57 161.08 896.57 156.99 897.57 150.99 898.57 142.95 899.57 133.17 900.57 122.5 901.57 112.32 902.57 104.25 903.57 99.78 904.57 99.78 905.57 104.25 906.57 112.32 907.57 122.5 908.57 133.17 909.57 142.95 910.57 150.99 911.57 156.99 912.57 161.08 913.57 163.64 914.57 165.12 915.57 165.91 916.57 166.3" fill="none" stroke="#a87838" stroke-width="1.5"/>
<path d="M892.83 166.3 893.83 165.91 894.83 165.12 895.83 163.64 896.83 161.08 897.83 156.99 898.83 150.99 899.83 142.95 900.83 133.17 901.83 122.5 902.83 112.32 903.83 104.25 904.83 99.78 905.83 99.78 906.83 104.25 907.83 112.32 908.83 122.5 909.83 133.17 910.83 142.95 911.83 150.99 912.83 156.99 913.83 161.08 914.83 163.64 915.83 165.12 916.83 165.91 917.83 166.3" fill="none" stroke="#d84848" stroke-width="1.5"/>
<path d="M890.3 166.3 891.3 165.91 892.3 165.12 893.3 163.64 894.3 161.08 895.3 156.99 896.3 150.99 897.3 142.95 898.3 133.17 899.3 122.5 900.3 112.32 901.3 104.25 902.3 99.78 903.3 99.78 904.3 104.25 905.3 112.32 906.3 122.5 907.3 133.17 908.3 142.95 909.3 150.99 910.3 156.99 911.3 161.08 912.3 163.64 913.3 165.12 914.3 165.91 915.3 166.3" fill="none" stroke="#50e860" stroke-width="1.5"/>
<path d="M895.37 166.3 896.37 165.91 897.37 165.12 898.37 163.64 899.37 161.08 900.37 156.99 901.37 150.99 902.37 142.95 903.37 133.17 904.37 122.5 905.37 112.32 906.37 104.25 907.37 99.78 908.37 99.78 909.37 104.25 910.37 112.32 911.37 122.5 912.37 133.17 913.37 142.95 914.37 150.99 915.37 156.99 916.37 161.08 917.37 163.64 918.37 165.12 919.37 165.91 920.37 166.3" fill="none" stroke="#3a7a3a" stroke-width="1.5"/>
<path d="M894.1 166.3 895.1 165.91 896.1 165.12 897.1 163.64 898.1 161.08 899.1 156.99 900.1 150.99 901.1 142.95 902.1 133.17 903.1 122.5 904.1 112.32 905.1 104.25 906.1 99.78 907.1 99.78 908.1 104.25 909.1 112.32 910.1 122.5 911.1 133.17 912.1 142.95 913.1 150.99 914.1 156.99 915.1 161.08 916.1 163.64 917.1 165.12 918.1 165.91 919.1 166.3" fill="none" stroke="#e05060" stroke-width="1.5"/>
<path d="M940.69 166.3 941.69 165.91 942.69 165.12 943.69 163.64 944.69 161.08 945.69 156.99 946.69 150.99 947.69 142.95 948.69 133.17 949.69 122.5 950.69 112.32 951.69 104.25 952.69 99.78 953.69 99.78 954.69 104.25 955.69 112.32 956.69 122.5 957.69 133.17 958.69 142.95 959.69 150.99 960.69 156.99 961.69 161.08 962.69 163.64 963.69 165.12 964.69 165.91 965.69 166.3" fill="none" stroke="#5b2d8e" stroke-width="1.5"/>
<path d="M941.83 166.3 942.83 165.91 943.83 165.12 944.83 163.64 945.83 161.08 946.83 156.99 947.83 150.99 948.83 142.95 949.83 133.17 950.83 122.5 951.83 112.32 952.83 104.25 953.83 99.78 954.83 99.78 955.83 104.25 956.83 112.32 957.83 122.5 958.83 133.17 959.83 142.95 960.83 150.99 961.83 156.99 962.83 161.08 963.83 163.64 964.83 165.12 965.83 165.91 966.83 166.3" fill="none" stroke="#d83ce0" stroke-width="1.5"/>
<path d="M939.54 166.3 940.54 165.91 941.54 165.12 942.54 163.64 943.54 161.08 944.54 156.99 945.54 150.99 946.54 142.95 947.54 133.17 948.54 122.5 949.54 112.32 950.54 104.25 951.54 99.78 952.54 99.78 953.54 104.25 954.54 112.32 955.54 122.5 956.54 133.17 957.54 142.95 958.54 150.99 959.54 156.99 960.54 161.08 961.54 163.64 962.54 165.12 963.54 165.91 964.54 166.3" fill="none" stroke="#3c5ce8" stroke-width="1.5"/>
<path d="M944.11 166.3 945.11 165.91 946.11 165.12 947.11 163.64 948.11 161.08 949.11 156.99 950.11 150.99 951.11 142.95 952.11 133.17 953.11 122.5 954.11 112.32 955.11 104.25 956.11 99.78 957.11 99.78 958.11 104.25 959.11 112.32 960.11 122.5 961.11 133.17 962.11 142.95 963.11 150.99 964.11 156.99 965.11 161.08 966.11 163.64 967.11 165.12 968.11 165.91 969.11 166.3" fill="none" stroke="#40b0b8" stroke-width="1.5"/>
<path d="M946.4 166.3 947.4 165.91 948.4 165.12 949.4 163.64 950.4 161.08 951.4 156.99 952.4 150.99 953.4 142.95 954.4 133.17 955.4 122.5 956.4 112.32 957.4 104.25 958.4 99.78 959.4 99.78 960.4 104.25 961.4 112.32 962.4 122.5 963.4 133.17 964.4 142.95 965.4 150.99 966.4 156.99 967.4 161.08 968.4 163.64 969.4 165.12 970.4 165.91 971.4 166.3" fill="none" stroke="#f048b0" stroke-width="1.5"/>
<path d="M945.26 166.3 946.26 165.91 947.26 165.12 948.26 163.64 949.26 161.08 950.26 156.99 951.26 150.99 952.26 142.95 953.26 133.17 954.26 122.5 955.26 112.32 956.26 104.25 957.26 99.78 958.26 99.78 959.26 104.25 960.26 112.32 961.26 122.5 962.26 133.17 963.26 142.95 964.26 150.99 965.26 156.99 966.26 161.08 967.26 163.64 968.26 165.12 969.26 165.91 970.26 166.3" fill="none" stroke="#2a2a80" stroke-width="1.5"/>
<path d="M938.4 166.3 939.4 165.91 940.4 165.12 941.4 163.64 942.4 161.08 943.4 156.99 944.4 150.99 945.4 142.95 946.4 133.17 947.4 122.5 948.4 112.32 949.4 104.25 950.4 99.78 951.4 99.78 952.4 104.25 953.4 112.32 954.4 122.5 955.4 133.17 956.4 142.95 957.4 150.99 958.4 156.99 959.4 161.08 960.4 163.64 961.4 165.12 962.4 165.91 963.4 166.3" fill="none" stroke="#48b8e8" stroke-width="1.5"/>
<path d="M942.97 166.3 943.97 165.91 944.97 165.12 945.97 163.64 946.97 161.08 947.97 156.99 948.97 150.99 949.97 142.95 950.97 133.17 951.97 122.5 952.97 112.32 953.97 104.25 954.97 99.78 955.97 99.78 956.97 104.25 957.97 112.32 958.97 122.5 959.97 133.17 960.97 142.95 961.97 150.99 962.97 156.99 963.97 161.08 964.97 163.64 965.97 165.12 966.97 165.91 967.97 166.3" fill="none" stroke="#8a3cc8" stroke-width="1.5"/>
<path d="M971.74 166.3 972.74 165.91 973.74 165.12 974.74 163.64 975.74 161.08 976.74 156.99 977.74 150.99 978.74 142.95 979.74 133.17 980.74 122.5 981.74 112.32 982.74 104.25 983.74 99.78 984.74 99.78 985.74 104.25 986.74 112.32 987.74 122.5 988.74 133.17 989.74 142.95 990.74 150.99 991.74 156.99 992.74 161.08 993.74 163.64 994.74 165.12 995.74 165.91 996.74 166.3" fill="none" stroke="#8fd46c" stroke-width="1.5"/>
<path d="M972.89 166.3 973.89 165.91 974.89 165.12 975.89 163.64 976.89 161.08 977.89 156.99 978.89 150.99 979.89 142.95 980.89 133.17 981.89 122.5 982.89 112.32 983.89 104.25 984.89 99.78 985.89 99.78 986.89 104.25 987.89 112.32 988.89 122.5 989.89 133.17 990.89 142.95 991.89 150.99 992.89 156.99 993.89 161.08 994.89 163.64 995.89 165.12 996.89 165.91 997.89 166.3" fill="none" stroke="#48e048" stroke-width="1.5"/>
<path d="M977.46 166.3 978.46 165.91 979.46 165.12 980.46 163.64 981.46 161.08 982.46 156.99 983.46 150.99 984.46 142.95 985.46 133.17 986.46 122.5 987.46 112.32 988.46 104.25 989.46 99.78 990.46 99.78 991.46 104.25 992.46 112.32 993.46 122.5 994.46 133.17 995.46 142.95 996.46 150.99 997.46 156.99 998.46 161.08 999.46 163.64 1000.46 165.12 1001.46 165.91 1002.46 166.3" fill="none" stroke="#a87838" stroke-width="1.5"/>
<path d="M978.6 166.3 979.6 165.91 980.6 165.12 981.6 163.64 982.6 161.08 983.6 156.99 984.6 150.99 985.6 142.95 986.6 133.17 987.6 122.5 988.6 112.32 989.6 104.25 990.6 99.78 991.6 99.78 992.6 104.25 993.6 112.32 994.6 122.5 995.6 133.17 996.6 142.95 997.6 150.99 998.6 156.99 999.6 161.08 1000.6 163.64 1001.6 165.12 1002.6 165.91 1003.6 166.3" fill="none" stroke="#d84848" stroke-width="1.5"/>
<path d="M976.31 166.3 977.31 165.91 978.31 165.12 979.31 163.64 980.31 161.08 981.31 156.99 982.31 150.99 983.31 142.95 984.31 133.17 985.31 122.5 986.31 112.32 987.31 104.25 988.31 99.78 989.31 99.78 990.31 104.25 991.31 112.32 992.31 122.5 993.31 133.17 994.31 142.95 995.31 150.99 996.31 156.99 997.31 161.08 998.31 163.64 999.31 165.12 1000.31 165.91 1001.31 166.3" fill="none" stroke="#50e860" stroke-width="1.5"/>
<path d="M970.6 166.3 971.6 165.91 972.6 165.12 973.6 163.64 974.6 161.08 975.6 156.99 976.6 150.99 977.6 142.95 978.6 133.17 979.6 122.5 980.6 112.32 981.6 104.25 982.6 99.78 983.6 99.78 984.6 104.25 985.6 112.32 986.6 122.5 987.6 133.17 988.6 142.95 989.6 150.99 990.6 156.99 991.6 161.08 992.6 163.64 993.6 165.12 994.6 165.91 995.6 166.3" fill="none" stroke="#3a7a3a" stroke-width="1.5"/>
<path d="M974.03 166.3 975.03 165.91 976.03 165.12 977.03 163.64 978.03 161.08 979.03 156.99 980.03 150.99 981.03 142.95 982.03 133.17 983.03 122.5 984.03 112.32 985.03 104.25 986.03 99.78 987.03 99.78 988.03 104.25 989.03 112.32 990.03 122.5 991.03 133.17 992.03 142.95 993.03 150.99 994.03 156.99 995.03 161.08 996.03 163.64 997.03 165.12 998.03 165.91 999.03 166.3" fill="none" stroke="#e05060" stroke-width="1.5"/>
<path d="M975.17 166.3 976.17 165.91 977.17 165.12 978.17 163.64 979.17 161.08 980.17 156.99 981.17 150.99 982.17 142.95 983.17 133.17 984.17 122.5 985.17 112.32 986.17 104.25 987.17 99.78 988.17 99.78 989.17 104.25 990.17 112.32 991.17 122.5 992.17 133.17 993.17 142.95 994.17 150.99 995.17 156.99 996.17 161.08 997.17 163.64 998.17 165.12 999.17 165.91 1000.17 166.3" fill="none" stroke="#f08828" stroke-width="1.5"/>
<path d="M1019.45 166.3 1020.45 165.91 1021.45 165.12 1022.45 163.64 1023.45 161.08 1024.45 156.99 1025.45 150.99 1026.45 142.95 1027.45 133.17 1028.45 122.5 1029.45 112.32 1030.45 104.25 1031.45 99.78 1032.45 99.78 1033.45 104.25 1034.45 112.32 1035.45 122.5 1036.45 133.17 1037.45 142.95 1038.45 150.99 1039.45 156.99 1040.45 161.08 1041.45 163.64 1042.45 165.12 1043.45 165.91 1044.45 166.3" fill="none" stroke="#5b2d8e" stroke-width="1.5"/>
<path d="M1020.6 166.3 1021.6 165.91 1022.6 165.12 1023.6 163.64 1024.6 161.08 1025.6 156.99 1026.6 150.99 1027.6 142.95 1028.6 133.17 1029.6 122.5 1030.6 112.32 1031.6 104.25 1032.6 99.78 1033.6 99.78 1034.6 104.25 1035.6 112.32 1036.6 122.5 1037.6 133.17 1038.6 142.95 1039.6 150.99 1040.6 156.99 1041.6 161.08 1042.6 163.64 1043.6 165.12 1044.6 165.91 1045.6 166.3" fill="none" stroke="#d83ce0" stroke-width="1.5"/>
<path d="M1027.5 166.3 1028.5 165.91 1029.5 165.12 1030.5 163.64 1031.5 161.08 1032.5 156.99 1033.5 150.99 1034.5 142.95 1035.5 133.17 1036.5 122.5 1037.5 112.32 1038.5 104.25 1039.5 99.78 1040.5 99.78 1041.5 104.25 1042.5 112.32 1043.5 122.5 1044.5 133.17 1045.5 142.95 1046.5 150.99 1047.5 156.99 1048.5 161.08 1049.5 163.64 1050.5 165.12 1051.5 165.91 1052.5 166.3" fill="none" stroke="#3c5ce8" stroke-width="1.5"/>
<path d="M1022.9 166.3 1023.9 165.91 1024.9 165.12 1025.9 163.64 1026.9 161.08 1027.9 156.99 1028.9 150.99 1029.9 142.95 1030.9 133.17 1031.9 122.5 1032.9 112.32 1033.9 104.25 1034.9 99.78 1035.9 99.78 1036.9 104.25 1037.9 112.32 1038.9 122.5 1039.9 133.17 1040.9 142.95 1041.9 150.99 1042.9 156.99 1043.9 161.08 1044.9 163.64 1045.9 165.12 1046.9 165.91 1047.9 166.3" fill="none" stroke="#40b0b8" stroke-width="1.5"/>
<path d="M1025.2 166.3 1026.2 165.91 1027.2 165.12 1028.2 163.64 1029.2 161.08 1030.2 156.99 1031.2 150.99 1032.2 142.95 1033.2 133.17 1034.2 122.5 1035.2 112.32 1036.2 104.25 1037.2 99.78 1038.2 99.78 1039.2 104.25 1040.2 112.32 1041.2 122.5 1042.2 133.17 1043.2 142.95 1044.2 150.99 1045.2 156.99 1046.2 161.08 1047.2 163.64 1048.2 165.12 1049.2 165.91 1050.2 166.3" fill="none" stroke="#f048b0" stroke-width="1.5"/>
<path d="M1024.05 166.3 1025.05 165.91 1026.05 165.12 1027.05 163.64 1028.05 161.08 1029.05 156.99 1030.05 150.99 1031.05 142.95 1032.05 133.17 1033.05 122.5 1034.05 112.32 1035.05 104.25 1036.05 99.78 1037.05 99.78 1038.05 104.25 1039.05 112.32 1040.05 122.5 1041.05 133.17 1042.05 142.95 1043.05 150.99 1044.05 156.99 1045.05 161.08 1046.05 163.64 1047.05 165.12 1048.05 165.91 1049.05 166.3" fill="none" stroke="#2a2a80" stroke-width="1.5"/>
<path d="M1021.75 166.3 1022.75 165.91 1023.75 165.12 1024.75 163.64 1025.75 161.08 1026.75 156.99 1027.75 150.99 1028.75 142.95 1029.75 133.17 1030.75 122.5 1031.75 112.32 1032.75 104.25 1033.75 99.78 1034.75 99.78 1035.75 104.25 1036.75 112.32 1037.75 122.5 1038.75 133.17 1039.75 142.95 1040.75 150.99 1041.75 156.99 1042.75 161.08 1043.75 163.64 1044.75 165.12 1045.75 165.91 1046.75 166.3" fill="none" stroke="#48b8e8" stroke-width="1.5"/>
<path d="M1026.35 166.3 1027.35 165.91 1028.35 165.12 1029.35 163.64 1030.35 161.08 1031.35 156.99 1032.35 150.99 1033.35 142.95 1034.35 133.17 1035.35 122.5 1036.35 112.32 1037.35 104.25 1038.35 99.78 1039.35 99.78 1040.35 104.25 1041.35 112.32 1042.35 122.5 1043.35 133.17 1044.35 142.95 1045.35 150.99 1046.35 156.99 1047.35 161.08 1048.35 163.64 1049.35 165.12 1050.35 165.91 1051.35 166.3" fill="none" stroke="#8a3cc8" stroke-width="1.5"/>
<path d="M1018.3 166.3 1019.3 165.91 1020.3 165.12 1021.3 163.64 1022.3 161.08 1023.3 156.99 1024.3 150.99 1025.3 142.95 1026.3 133.17 1027.3 122.5 1028.3 112.32 1029.3 104.25 1030.3 99.78 1031.3 99.78 1032.3 104.25 1033.3 112.32 1034.3 122.5 1035.3 133.17 1036.3 142.95 1037.3 150.99 1038.3 156.99 1039.3 161.08 1040.3 163.64 1041.3 165.12 1042.3 165.91 1043.3 166.3" fill="none" stroke="#c8d84c" stroke-width="1.5"/>
<path d="M1059.8 166.3 1060.8 165.91 1061.8 165.12 1062.8 163.64 1063.8 161.08 1064.8 156.99 1065.8 150.99 1066.8 142.95 1067.8 133.17 1068.8 122.5 1069.8 112.32 1070.8 104.25 1071.8 99.78 1072.8 99.78 1073.8 104.25 1074.8 112.32 1075.8 122.5 1076.8 133.17 1077.8 142.95 1078.8 150.99 1079.8 156.99 1080.8 161.08 1081.8 163.64 1082.8 165.12 1083.8 165.91 1084.8 166.3" fill="none" stroke="#8fd46c" stroke-width="1.5"/>
<path d="M1054.05 166.3 1055.05 165.91 1056.05 165.12 1057.05 163.64 1058.05 161.08 1059.05 156.99 1060.05 150.99 1061.05 142.95 1062.05 133.17 1063.05 122.5 1064.05 112.32 1065.05 104.25 1066.05 99.78 1067.05 99.78 1068.05 104.25 1069.05 112.32 1070.05 122.5 1071.05 133.17 1072.05 142.95 1073.05 150.99 1074.05 156.99 1075.05 161.08 1076.05 163.64 1077.05 165.12 1078.05 165.91 1079.05 166.3" fill="none" stroke="#48e048" stroke-width="1.5"/>
<path d="M1051.75 166.3 1052.75 165.91 1053.75 165.12 1054.75 163.64 1055.75 161.08 1056.75 156.99 1057.75 150.99 1058.75 142.95 1059.75 133.17 1060.75 122.5 1061.75 112.32 1062.75 104.25 1063.75 99.78 1064.75 99.78 1065.75 104.25 1066.75 112.32 1067.75 122.5 1068.75 133.17 1069.75 142.95 1070.75 150.99 1071.75 156.99 1072.75 161.08 1073.75 163.64 1074.75 165.12 1075.75 165.91 1076.75 166.3" fill="none" stroke="#a87838" stroke-width="1.5"/>
<path d="M1057.5 166.3 1058.5 165.91 1059.5 165.12 1060.5 163.64 1061.5 161.08 1062.5 156.99 1063.5 150.99 1064.5 142.95 1065.5 133.17 1066.5 122.5 1067.5 112.32 1068.5 104.25 1069.5 99.78 1070.5 99.78 1071.5 104.25 1072.5 112.32 1073.5 122.5 1074.5 133.17 1075.5 142.95 1076.5 150.99 1077.5 156.99 1078.5 161.08 1079.5 163.64 1080.5 165.12 1081.5 165.91 1082.5 166.3" fill="none" stroke="#d84848" stroke-width="1.5"/>
<path d="M1058.65 166.3 1059.65 165.91 1060.65 165.12 1061.65 163.64 1062.65 161.08 1063.65 156.99 1064.65 150.99 1065.65 142.95 1066.65 133.17 1067.65 122.5 1068.65 112.32 1069.65 104.25 1070.65 99.78 1071.65 99.78 1072.65 104.25 1073.65 112.32 1074.65 122.5 1075.65 133.17 1076.65 142.95 1077.65 150.99 1078.65 156.99 1079.65 161.08 1080.65 163.64 1081.65 165.12 1082.65 165.91 1083.65 166.3" fill="none" stroke="#50e860" stroke-width="1.5"/>
<path d="M1052.9 166.3 1053.9 165.91 1054.9 165.12 1055.9 163.64 1056.9 161.08 1057.9 156.99 1058.9 150.99 1059.9 142.95 1060.9 133.17 1061.9 122.5 1062.9 112.32 1063.9 104.25 1064.9 99.78 1065.9 99.78 1066.9 104.25 1067.9 112.32 1068.9 122.5 1069.9 133.17 1070.9 142.95 1071.9 150.99 1072.9 156.99 1073.9 161.08 1074.9 163.64 1075.9 165.12 1076.9 165.91 1077.9 166.3" fill="none" stroke="#3a7a3a" stroke-width="1.5"/>
<path d="M1050.6 166.3 1051.6 165.91 1052.6 165.12 1053.6 163.64 1054.6 161.08 1055.6 156.99 1056.6 150.99 1057.6 142.95 1058.6 133.17 1059.6 122.5 1060.6 112.32 1061.6 104.25 1062.6 99.78 1063.6 99.78 1064.6 104.25 1065.6 112.32 1066.6 122.5 1067.6 133.17 1068.6 142.95 1069.6 150.99 1070.6 156.99 1071.6 161.08 1072.6 163.64 1073.6 165.12 1074.6 165.91 1075.6 166.3" fill="none" stroke="#e05060" stroke-width="1.5"/>
<path d="M1056.35 166.3 1057.35 165.91 1058.35 165.12 1059.35 163.64 1060.35 161.08 1061.35 156.99 1062.35 150.99 1063.35 142.95 1064.35 133.17 1065.35 122.5 1066.35 112.32 1067.35 104.25 1068.35 99.78 1069.35 99.78 1070.35 104.25 1071.35 112.32 1072.35 122.5 1073.35 133.17 1074.35 142.95 1075.35 150.99 1076.35 156.99 1077.35 161.08 1078.35 163.64 1079.35 165.12 1080.35 165.91 1081.35 166.3" fill="none" stroke="#f08828" stroke-width="1.5"/>
<path d="M1055.2 166.3 1056.2 165.91 1057.2 165.12 1058.2 163.64 1059.2 161.08 1060.2 156.99 1061.2 150.99 1062.2 142.95 1063.2 133.17 1064.2 122.5 1065.2 112.32 1066.2 104.25 1067.2 99.78 1068.2 99.78 1069.2 104.25 1070.2 112.32 1071.2 122.5 1072.2 133.17 1073.2 142.95 1074.2 150.99 1075.2 156.99 1076.2 161.08 1077.2 163.64 1078.2 165.12 1079.2 165.91 1080.2 166.3" fill="none" stroke="#f0e048" stroke-width="1.5"/>
<path d="M1111.2 166.3 1112.2 165.91 1113.2 165.12 1114.2 163.64 1115.2 161.08 1116.2 156.99 1117.2 150.99 1118.2 142.95 1119.2 133.17 1120.2 122.5 1121.2 112.32 1122.2 104.25 1123.2 99.78 1124.2 99.78 1125.2 104.25 1126.2 112.32 1127.2 122.5 1128.2 133.17 1129.2 142.95 1130.2 150.99 1131.2 156.99 1132.2 161.08 1133.2 163.64 1134.2 165.12 1135.2 165.91 1136.2 166.3" fill="none" stroke="#5b2d8e" stroke-width="1.5"/>
<path d="M1114 166.3 1115 165.91 1116 165.12 1117 163.64 1118 161.08 1119 156.99 1120 150.99 1121 142.95 1122 133.17 1123 122.5 1124 112.32 1125 104.25 1126 99.78 1127 99.78 1128 104.25 1129 112.32 1130 122.5 1131 133.17 1132 142.95 1133 150.99 1134 156.99 1135 161.08 1136 163.64 1137 165.12 1138 165.91 1139 166.3" fill="none" stroke="#d83ce0" stroke-width="1.5"/>
<path d="M1108.4 166.3 1109.4 165.91 1110.4 165.12 1111.4 163.64 1112.4 161.08 1113.4 156.99 1114.4 150.99 1115.4 142.95 1116.4 133.17 1117.4 122.5 1118.4 112.32 1119.4 104.25 1120.4 99.78 1121.4 99.78 1122.4 104.25 1123.4 112.32 1124.4 122.5 1125.4 133.17 1126.4 142.95 1127.4 150.99 1128.4 156.99 1129.4 161.08 1130.4 163.64 1131.4 165.12 1132.4 165.91 1133.4 166.3" fill="none" stroke="#3c5ce8" stroke-width="1.5"/>
<path d="M1107 166.3 1108 165.91 1109 165.12 1110 163.64 1111 161.08 1112 156.99 1113 150.99 1114 142.95 1115 133.17 1116 122.5 1117 112.32 1118 104.25 1119 99.78 1120 99.78 1121 104.25 1122 112.32 1123 122.5 1124 133.17 1125 142.95 1126 150.99 1127 156.99 1128 161.08 1129 163.64 1130 165.12 1131 165.91 1132 166.3" fill="none" stroke="#40b0b8" stroke-width="1.5"/>
<path d="M1112.6 166.3 1113.6 165.91 1114.6 165.12 1115.6 163.64 1116.6 161.08 1117.6 156.99 1118.6 150.99 1119.6 142.95 1120.6 133.17 1121.6 122.5 1122.6 112.32 1123.6 104.25 1124.6 99.78 1125.6 99.78 1126.6 104.25 1127.6 112.32 1128.6 122.5 1129.6 133.17 1130.6 142.95 1131.6 150.99 1132.6 156.99 1133.6 161.08 1134.6 163.64 1135.6 165.12 1136.6 165.91 1137.6 166.3" fill="none" stroke="#f048b0" stroke-width="1.5"/>
<path d="M1109.8 166.3 1110.8 165.91 1111.8 165.12 1112.8 163.64 1113.8 161.08 1114.8 156.99 1115.8 150.99 1116.8 142.95 1117.8 133.17 1118.8 122.5 1119.8 112.32 1120.8 104.25 1121.8 99.78 1122.8 99.78 1123.8 104.25 1124.8 112.32 1125.8 122.5 1126.8 133.17 1127.8 142.95 1128.8 150.99 1129.8 156.99 1130.8 161.08 1131.8 163.64 1132.8 165.12 1133.8 165.91 1134.8 166.3" fill="none" stroke="#2a2a80" stroke-width="1.5"/>
<path d="M1101.4 166.3 1102.4 165.91 1103.4 165.12 1104.4 163.64 1105.4 161.08 1106.4 156.99 1107.4 150.99 1108.4 142.95 1109.4 133.17 1110.4 122.5 1111.4 112.32 1112.4 104.25 1113.4 99.78 1114.4 99.78 1115.4 104.25 1116.4 112.32 1117.4 122.5 1118.4 133.17 1119.4 142.95 1120.4 150.99 1121.4 156.99 1122.4 161.08 1123.4 163.64 1124.4 165.12 1125.4 165.91 1126.4 166.3" fill="none" stroke="#48b8e8" stroke-width="1.5"/>
<path d="M1102.8 166.3 1103.8 165.91 1104.8 165.12 1105.8 163.64 1106.8 161.08 1107.8 156.99 1108.8 150.99 1109.8 142.95 1110.8 133.17 1111.8 122.5 1112.8 112.32 1113.8 104.25 1114.8 99.78 1115.8 99.78 1116.8 104.25 1117.8 112.32 1118.8 122.5 1119.8 133.17 1120.8 142.95 1121.8 150.99 1122.8 156.99 1123.8 161.08 1124.8 163.64 1125.8 165.12 1126.8 165.91 1127.8 166.3" fill="none" stroke="#8a3cc8" stroke-width="1.5"/>
<path d="M1105.6 166.3 1106.6 165.91 1107.6 165.12 1108.6 163.64 1109.6 161.08 1110.6 156.99 1111.6 150.99 1112.6 142.95 1113.6 133.17 1114.6 122.5 1115.6 112.32 1116.6 104.25 1117.6 99.78 1118.6 99.78 1119.6 104.25 1120.6 112.32 1121.6 122.5 1122.6 133.17 1123.6 142.95 1124.6 150.99 1125.6 156.99 1126.6 161.08 1127.6 163.64 1128.6 165.12 1129.6 165.91 1130.6 166.3" fill="none" stroke="#c8d84c" stroke-width="1.5"/>
<path d="M1104.2 166.3 1105.2 165.91 1106.2 165.12 1107.2 163.64 1108.2 161.08 1109.2 156.99 1110.2 150.99 1111.2 142.95 1112.2 133.17 1113.2 122.5 1114.2 112.32 1115.2 104.25 1116.2 99.78 1117.2 99.78 1118.2 104.25 1119.2 112.32 1120.2 122.5 1121.2 133.17 1122.2 142.95 1123.2 150.99 1124.2 156.99 1125.2 161.08 1126.2 163.64 1127.2 165.12 1128.2 165.91 1129.2 166.3" fill="none" stroke="#2848f0" stroke-width="1.5"/>
<path d="M1135 166.3 1136 165.91 1137 165.12 1138 163.64 1139 161.08 1140 156.99 1141 150.99 1142 142.95 1143 133.17 1144 122.5 1145 112.32 1146 104.25 1147 99.78 1148 99.78 1149 104.25 1150 112.32 1151 122.5 1152 133.17 1153 142.95 1154 150.99 1155 156.99 1156 161.08 1157 163.64 1158 165.12 1159 165.91 1160 166.3" fill="none" stroke="#8fd46c" stroke-width="1.5"/>
<path d="M1140.6 166.3 1141.6 165.91 1142.6 165.12 1143.6 163.64 1144.6 161.08 1145.6 156.99 1146.6 150.99 1147.6 142.95 1148.6 133.17 1149.6 122.5 1150.6 112.32 1151.6 104.25 1152.6 99.78 1153.6 99.78 1154.6 104.25 1155.6 112.32 1156.6 122.5 1157.6 133.17 1158.6 142.95 1159.6 150.99 1160.6 156.99 1161.6 161.08 1162.6 163.64 1163.6 165.12 1164.6 165.91 1165.6 166.3" fill="none" stroke="#48e048" stroke-width="1.5"/>
<path d="M1132.2 166.3 1133.2 165.91 1134.2 165.12 1135.2 163.64 1136.2 161.08 1137.2 156.99 1138.2 150.99 1139.2 142.95 1140.2 133.17 1141.2 122.5 1142.2 112.32 1143.2 104.25 1144.2 99.78 1145.2 99.78 1146.2 104.25 1147.2 112.32 1148.2 122.5 1149.2 133.17 1150.2 142.95 1151.2 150.99 1152.2 156.99 1153.2 161.08 1154.2 163.64 1155.2 165.12 1156.2 165.91 1157.2 166.3" fill="none" stroke="#a87838" stroke-width="1.5"/>
<path d="M1137.8 166.3 1138.8 165.91 1139.8 165.12 1140.8 163.64 1141.8 161.08 1142.8 156.99 1143.8 150.99 1144.8 142.95 1145.8 133.17 1146.8 122.5 1147.8 112.32 1148.8 104.25 1149.8 99.78 1150.8 99.78 1151.8 104.25 1152.8 112.32 1153.8 122.5 1154.8 133.17 1155.8 142.95 1156.8 150.99 1157.8 156.99 1158.8 161.08 1159.8 163.64 1160.8 165.12 1161.8 165.91 1162.8 166.3" fill="none" stroke="#d84848" stroke-width="1.5"/>
<path d="M1144.8 166.3 1145.8 165.91 1146.8 165.12 1147.8 163.64 1148.8 161.08 1149.8 156.99 1150.8 150.99 1151.8 142.95 1152.8 133.17 1153.8 122.5 1154.8 112.32 1155.8 104.25 1156.8 99.78 1157.8 99.78 1158.8 104.25 1159.8 112.32 1160.8 122.5 1161.8 133.17 1162.8 142.95 1163.8 150.99 1164.8 156.99 1165.8 161.08 1166.8 163.64 1167.8 165.12 1168.8 165.91 1169.8 166.3" fill="none" stroke="#50e860" stroke-width="1.5"/>
<path d="M1133.6 166.3 1134.6 165.91 1135.6 165.12 1136.6 163.64 1137.6 161.08 1138.6 156.99 1139.6 150.99 1140.6 142.95 1141.6 133.17 1142.6 122.5 1143.6 112.32 1144.6 104.25 1145.6 99.78 1146.6 99.78 1147.6 104.25 1148.6 112.32 1149.6 122.5 1150.6 133.17 1151.6 142.95 1152.6 150.99 1153.6 156.99 1154.6 161.08 1155.6 163.64 1156.6 165.12 1157.6 165.91 1158.6 166.3" fill="none" stroke="#3a7a3a" stroke-width="1.5"/>
<path d="M1139.2 166.3 1140.2 165.91 1141.2 165.12 1142.2 163.64 1143.2 161.08 1144.2 156.99 1145.2 150.99 1146.2 142.95 1147.2 133.17 1148.2 122.5 1149.2 112.32 1150.2 104.25 1151.2 99.78 1152.2 99.78 1153.2 104.25 1154.2 112.32 1155.2 122.5 1156.2 133.17 1157.2 142.95 1158.2 150.99 1159.2 156.99 1160.2 161.08 1161.2 163.64 1162.2 165.12 1163.2 165.91 1164.2 166.3" fill="none" stroke="#e05060" stroke-width="1.5"/>
<path d="M1136.4 166.3 1137.4 165.91 1138.4 165.12 1139.4 163.64 1140.4 161.08 1141.4 156.99 1142.4 150.99 1143.4 142.95 1144.4 133.17 1145.4 122.5 1146.4 112.32 1147.4 104.25 1148.4 99.78 1149.4 99.78 1150.4 104.25 1151.4 112.32 1152.4 122.5 1153.4 133.17 1154.4 142.95 1155.4 150.99 1156.4 156.99 1157.4 161.08 1158.4 163.64 1159.4 165.12 1160.4 165.91 1161.4 166.3" fill="none" stroke="#f08828" stroke-width="1.5"/>
<path d="M1143.4 166.3 1144.4 165.91 1145.4 165.12 1146.4 163.64 1147.4 161.08 1148.4 156.99 1149.4 150.99 1150.4 142.95 1151.4 133.17 1152.4 122.5 1153.4 112.32 1154.4 104.25 1155.4 99.78 1156.4 99.78 1157.4 104.25 1158.4 112.32 1159.4 122.5 1160.4 133.17 1161.4 142.95 1162.4 150.99 1163.4 156.99 1164.4 161.08 1165.4 163.64 1166.4 165.12 1167.4 165.91 1168.4 166.3" fill="none" stroke="#f0e048" stroke-width="1.5"/>
<path d="M1142 166.3 1143 165.91 1144 165.12 1145 163.64 1146 161.08 1147 156.99 1148 150.99 1149 142.95 1150 133.17 1151 122.5 1152 112.32 1153 104.25 1154 99.78 1155 99.78 1156 104.25 1157 112.32 1158 122.5 1159 133.17 1160 142.95 1161 150.99 1162 156.99 1163 161.08 1164 163.64 1165 165.12 1166 165.91 1167 166.3" fill="none" stroke="#c05830" stroke-width="1.5"/>
<path d="M168.5 204.8 L205 167.6 Q206 166.2 207.2 166.5 M168.5 204.8 Q203.2 176 215.2 169 Q216.7 168.4 218.2 168.8" fill="none" stroke="#ef9a3a" stroke-width="1.7" stroke-linecap="round" stroke-linejoin="round"/>
<path d="M252.6 204.8 L289.1 167.6 Q290.1 166.2 291.3 166.5 M252.6 204.8 Q287.3 176 299.3 169 Q300.8 168.4 302.3 168.8" fill="none" stroke="#ef9a3a" stroke-width="1.7" stroke-linecap="round" stroke-linejoin="round"/>
<path d="M342.7 204.8 L379.2 167.6 Q380.2 166.2 381.4 166.5 M342.7 204.8 Q377.4 176 389.4 169 Q390.9 168.4 392.4 168.8" fill="none" stroke="#ef9a3a" stroke-width="1.7" stroke-linecap="round" stroke-linejoin="round"/>
<path d="M430.7 204.8 L467.2 167.6 Q468.2 166.2 469.4 166.5 M430.7 204.8 Q465.4 176 477.4 169 Q478.9 168.4 480.4 168.8" fill="none" stroke="#ef9a3a" stroke-width="1.7" stroke-linecap="round" stroke-linejoin="round"/>
<path d="M513 204.8 L549.5 167.6 Q550.5 166.2 551.7 166.5 M513 204.8 Q547.7 176 559.7 169 Q561.2 168.4 562.7 168.8" fill="none" stroke="#ef9a3a" stroke-width="1.7" stroke-linecap="round" stroke-linejoin="round"/>
<path d="M599.8 204.8 L636.3 167.6 Q637.3 166.2 638.5 166.5 M599.8 204.8 Q634.5 176 646.5 169 Q648 168.4 649.5 168.8" fill="none" stroke="#ef9a3a" stroke-width="1.7" stroke-linecap="round" stroke-linejoin="round"/>
<path d="M683.8 204.8 L720.3 167.6 Q721.3 166.2 722.5 166.5 M683.8 204.8 Q718.5 176 730.5 169 Q732 168.4 733.5 168.8" fill="none" stroke="#ef9a3a" stroke-width="1.7" stroke-linecap="round" stroke-linejoin="round"/>
<path d="M769.9 204.8 L806.4 167.6 Q807.4 166.2 808.6 166.5 M769.9 204.8 Q804.6 176 816.6 169 Q818.1 168.4 819.6 168.8" fill="none" stroke="#ef9a3a" stroke-width="1.7" stroke-linecap="round" stroke-linejoin="round"/>
<path d="M858.5 204.8 L895 167.6 Q896 166.2 897.2 166.5 M858.5 204.8 Q893.2 176 905.2 169 Q906.7 168.4 908.2 168.8" fill="none" stroke="#ef9a3a" stroke-width="1.7" stroke-linecap="round" stroke-linejoin="round"/>
<path d="M944.8 204.8 L981.3 167.6 Q982.3 166.2 983.5 166.5 M944.8 204.8 Q979.5 176 991.5 169 Q993 168.4 994.5 168.8" fill="none" stroke="#ef9a3a" stroke-width="1.7" stroke-linecap="round" stroke-linejoin="round"/>
<path d="M1030.8 204.8 L1067.3 167.6 Q1068.3 166.2 1069.5 166.5 M1030.8 204.8 Q1065.5 176 1077.5 169 Q1079 168.4 1080.5 168.8" fill="none" stroke="#ef9a3a" stroke-width="1.7" stroke-linecap="round" stroke-linejoin="round"/>
<path d="M1119.4 204.8 L1155.9 167.6 Q1156.9 166.2 1158.1 166.5 M1119.4 204.8 Q1154.1 176 1166.1 169 Q1167.6 168.4 1169.1 168.8" fill="none" stroke="#ef9a3a" stroke-width="1.7" stroke-linecap="round" stroke-linejoin="round"/>
<line x1="169.7" y1="150.6" x2="204.2" y2="185.9" stroke="#6cb6e2" stroke-width="5.6" opacity="0.85"/>
<line x1="209.5" y1="347.7" x2="1190" y2="347.7" stroke="#8e8e94" stroke-width="2"/>
<path d="M681 345.8 682 345.8 683 345.8 684 345.8 685 345.8 686 345.8 687 345.8 688 345.8 689 345.8 690 345.8 691 345.8 692 345.8 693 345.8 694 345.8 695 345.8 696 345.8 697 345.8 698 345.8 699 345.8 700 345.8 701 345.8 702 345.8 703 345.8 704 345.8 705 345.8 706 345.8 707 345.8 708 345.8 709 345.8 710 345.8 711 345.8 712 345.8 713 345.8 714 345.8 715 345.8 716 345.8 717 345.8 718 345.8 719 345.8 720 345.8 721 345.8 722 345.8 723 345.8 724 345.8 725 345.8 726 345.8 727 345.8 728 345.8 729 345.8 730 345.8 731 345.8 732 345.8 733 345.8 734 345.8 735 345.8 736 345.8 737 345.8 738 345.8 739 345.8 740 345.8 741 345.8 742 345.8 743 345.8 744 345.8 745 345.8 746 345.8 747 345.8 748 345.8 749 345.8 750 345.8 751 345.8 752 345.8 753 345.8 754 345.8 755 345.8 756 345.8 757 345.8 758 345.8 759 345.8 760 345.8 761 345.8 762 345.8 763 345.8 764 345.8 765 345.8 766 345.8 767 345.8 768 345.8 769 345.8 770 345.8 771 345.8 772 345.8 773 345.8 774 345.79 775 345.79 776 345.79 777 345.79 778 345.79 779 345.79 780 345.79 781 345.79 782 345.79 783 345.79 784 345.79 785 345.78 786 345.78 787 345.78 788 345.78 789 345.78 790 345.78 791 345.77 792 345.77 793 345.77 794 345.76 795 345.76 796 345.76 797 345.75 798 345.75 799 345.74 800 345.74 801 345.73 802 345.73 803 345.72 804 345.71 805 345.7 806 345.7 807 345.69 808 345.68 809 345.66 810 345.65 811 345.64 812 345.63 813 345.61 814 345.59 815 345.58 816 345.56 817 345.54 818 345.52 819 345.49 820 345.47 821 345.44 822 345.41 823 345.38 824 345.35 825 345.31 826 345.27 827 345.23 828 345.19 829 345.14 830 345.09 831 345.04 832 344.98 833 344.92 834 344.85 835 344.78 836 344.71 837 344.63 838 344.54 839 344.45 840 344.36 841 344.26 842 344.15 843 344.03 844 343.91 845 343.78 846 343.65 847 343.5 848 343.35 849 343.19 850 343.01 851 342.83 852 342.64 853 342.44 854 342.23 855 342 856 341.77 857 341.52 858 341.26 859 340.98 860 340.69 861 340.39 862 340.07 863 339.74 864 339.39 865 339.02 866 338.64 867 338.23 868 337.81 869 337.37 870 336.91 871 336.43 872 335.93 873 335.41 874 334.87 875 334.3 876 333.71 877 333.1 878 332.46 879 331.8 880 331.11 881 330.4 882 329.66 883 328.89 884 328.1 885 327.28 886 326.43 887 325.55 888 324.64 889 323.71 890 322.74 891 321.75 892 320.72 893 319.67 894 318.58 895 317.46 896 316.32 897 315.14 898 313.93 899 312.69 900 311.43 901 310.13 902 308.8 903 307.44 904 306.05 905 304.64 906 303.19 907 301.72 908 300.22 909 298.69 910 297.14 911 295.56 912 293.95 913 292.33 914 290.68 915 289.01 916 287.32 917 285.61 918 283.88 919 282.13 920 280.37 921 278.6 922 276.81 923 275.02 924 273.21 925 271.39 926 269.57 927 267.75 928 265.92 929 264.09 930 262.27 931 260.45 932 258.63 933 256.82 934 255.02 935 253.23 936 251.45 937 249.69 938 247.94 939 246.22 940 244.52 941 242.84 942 241.19 943 239.57 944 237.98 945 236.42 946 234.89 947 233.4 948 231.96 949 230.55 950 229.18 951 227.86 952 226.59 953 225.36 954 224.19 955 223.06 956 221.99 957 220.98 958 220.02 959 219.12 960 218.28 961 217.5 962 216.78 963 216.13 964 215.54 965 215.01 966 214.55 967 214.16 968 213.83 969 213.57 970 213.38 971 213.26 972 213.2 973 213.2 974 213.2 975 213.2 976 213.2 977 213.2 978 213.2 979 213.2 980 213.2 981 213.2 982 213.2 983 213.2 984 213.2 985 213.2 986 213.2 987 213.2 988 213.2 989 213.2 990 213.2 991 213.2 992 213.2 993 213.2 994 213.26 995 213.38 996 213.57 997 213.83 998 214.16 999 214.55 1000 215.01 1001 215.54 1002 216.13 1003 216.78 1004 217.5 1005 218.28 1006 219.12 1007 220.02 1008 220.98 1009 221.99 1010 223.06 1011 224.19 1012 225.36 1013 226.59 1014 227.86 1015 229.18 1016 230.55 1017 231.96 1018 233.4 1019 234.89 1020 236.42 1021 237.98 1022 239.57 1023 241.19 1024 242.84 1025 244.52 1026 246.22 1027 247.94 1028 249.69 1029 251.45 1030 253.23 1031 255.02 1032 256.82 1033 258.63 1034 260.45 1035 262.27 1036 264.09 1037 265.92 1038 267.75 1039 269.57 1040 271.39 1041 273.21 1042 275.02 1043 276.81 1044 278.6 1045 280.37 1046 282.13 1047 283.88 1048 285.61 1049 287.32 1050 289.01 1051 290.68 1052 292.33 1053 293.95 1054 295.56 1055 297.14 1056 298.69 1057 300.22 1058 301.72 1059 303.19 1060 304.64 1061 306.05 1062 307.44 1063 308.8 1064 310.13 1065 311.43 1066 312.69 1067 313.93 1068 315.14 1069 316.32 1070 317.46 1071 318.58 1072 319.67 1073 320.72 1074 321.75 1075 322.74 1076 323.71 1077 324.64 1078 325.55 1079 326.43 1080 327.28 1081 328.1 1082 328.89 1083 329.66 1084 330.4 1085 331.11 1086 331.8 1087 332.46 1088 333.1 1089 333.71 1090 334.3 1091 334.87 1092 335.41 1093 335.93 1094 336.43 1095 336.91 1096 337.37 1097 337.81 1098 338.23 1099 338.64 1100 339.02 1101 339.39 1102 339.74 1103 340.07 1104 340.39 1105 340.69 1106 340.98 1107 341.26 1108 341.52 1109 341.77 1110 342 1111 342.23 1112 342.44 1113 342.64 1114 342.83 1115 343.01 1116 343.19 1117 343.35 1118 343.5 1119 343.65 1120 343.78 1121 343.91 1122 344.03 1123 344.15 1124 344.26 1125 344.36 1126 344.45 1127 344.54 1128 344.63 1129 344.71 1130 344.78 1131 344.85 1132 344.92 1133 344.98 1134 345.04 1135 345.09 1136 345.14 1137 345.19 1138 345.23 1139 345.27 1140 345.31 1141 345.35 1142 345.38 1143 345.41 1144 345.44 1145 345.47 1146 345.49 1147 345.52 1148 345.54 1149 345.56 1150 345.58 1151 345.59 1152 345.61 1153 345.63 1154 345.64 1155 345.65 1156 345.66 1157 345.68 1158 345.69 1159 345.7 1160 345.7 1161 345.71 1162 345.72 1163 345.73 1164 345.73 1165 345.74 1166 345.74 1167 345.75 1168 345.75 1169 345.76 1170 345.76 1171 345.76 1172 345.77 1173 345.77 1174 345.77 1175 345.78 1176 345.78 1177 345.78 1178 345.78 1179 345.78 1180 345.78 1181 345.79 1182 345.79 1183 345.79 1184 345.79 1185 345.79 1186 345.79 1187 345.79 1188 345.79 1189 345.79 1190 345.79 1191 345.79 1192 345.8 1193 345.8 1194 345.8 1195 345.8 1196 345.8 1197 345.8 1198 345.8 1199 345.8 1199 345.8 1198 345.8 1197 345.8 1196 345.8 1195 345.8 1194 345.8 1193 345.8 1192 345.8 1191 345.8 1190 345.8 1189 345.8 1188 345.8 1187 345.8 1186 345.8 1185 345.8 1184 345.8 1183 345.8 1182 345.8 1181 345.8 1180 345.8 1179 345.8 1178 345.8 1177 345.8 1176 345.8 1175 345.8 1174 345.8 1173 345.8 1172 345.8 1171 345.8 1170 345.79 1169 345.79 1168 345.79 1167 345.79 1166 345.79 1165 345.79 1164 345.79 1163 345.79 1162 345.79 1161 345.79 1160 345.79 1159 345.78 1158 345.78 1157 345.78 1156 345.78 1155 345.78 1154 345.77 1153 345.77 1152 345.77 1151 345.77 1150 345.76 1149 345.76 1148 345.75 1147 345.75 1146 345.75 1145 345.74 1144 345.73 1143 345.73 1142 345.72 1141 345.71 1140 345.71 1139 345.7 1138 345.69 1137 345.68 1136 345.67 1135 345.66 1134 345.65 1133 345.63 1132 345.62 1131 345.6 1130 345.58 1129 345.57 1128 345.55 1127 345.53 1126 345.5 1125 345.48 1124 345.45 1123 345.42 1122 345.39 1121 345.36 1120 345.33 1119 345.29 1118 345.25 1117 345.21 1116 345.16 1115 345.11 1114 345.06 1113 345 1112 344.94 1111 344.88 1110 344.81 1109 344.74 1108 344.66 1107 344.58 1106 344.49 1105 344.4 1104 344.3 1103 344.19 1102 344.08 1101 343.96 1100 343.83 1099 343.7 1098 343.56 1097 343.41 1096 343.25 1095 343.08 1094 342.91 1093 342.72 1092 342.52 1091 342.31 1090 342.1 1089 341.86 1088 341.62 1087 341.36 1086 341.1 1085 340.81 1084 340.51 1083 340.2 1082 339.87 1081 339.53 1080 339.17 1079 338.79 1078 338.4 1077 337.98 1076 337.55 1075 337.1 1074 336.63 1073 336.14 1072 335.62 1071 335.09 1070 334.53 1069 333.95 1068 333.35 1067 332.72 1066 332.07 1065 331.39 1064 330.69 1063 329.96 1062 329.2 1061 328.42 1060 327.61 1059 326.77 1058 325.9 1057 325.01 1056 324.08 1055 323.13 1054 322.15 1053 321.13 1052 320.09 1051 319.02 1050 317.91 1049 316.78 1048 315.61 1047 314.42 1046 313.19 1045 311.94 1044 310.65 1043 309.33 1042 307.99 1041 306.61 1040 305.21 1039 303.77 1038 302.31 1037 300.82 1036 299.3 1035 297.76 1034 296.19 1033 294.6 1032 292.98 1031 291.34 1030 289.68 1029 288 1028 286.29 1027 284.57 1026 282.83 1025 281.08 1024 279.31 1023 277.53 1022 275.74 1021 273.93 1020 272.12 1019 270.3 1018 268.48 1017 266.65 1016 264.83 1015 263 1014 261.17 1013 259.35 1012 257.54 1011 255.73 1010 253.94 1009 252.16 1008 250.39 1007 248.64 1006 246.91 1005 245.2 1004 243.51 1003 241.85 1002 240.21 1001 238.61 1000 237.04 999 235.5 998 234 997 232.53 996 231.11 995 229.72 994 228.38 993 227.09 992 225.85 991 224.65 990 223.51 989 222.41 988 221.38 987 220.4 986 219.47 985 218.61 984 217.81 983 217.06 982 217.06 981 217.81 980 218.61 979 219.47 978 220.4 977 221.38 976 222.41 975 223.51 974 224.65 973 225.85 972 227.09 971 228.38 970 229.72 969 231.11 968 232.53 967 234 966 235.5 965 237.04 964 238.61 963 240.21 962 241.85 961 243.51 960 245.2 959 246.91 958 248.64 957 250.39 956 252.16 955 253.94 954 255.73 953 257.54 952 259.35 951 261.17 950 263 949 264.83 948 266.65 947 268.48 946 270.3 945 272.12 944 273.93 943 275.74 942 277.53 941 279.31 940 281.08 939 282.83 938 284.57 937 286.29 936 288 935 289.68 934 291.34 933 292.98 932 294.6 931 296.19 930 297.76 929 299.3 928 300.82 927 302.31 926 303.77 925 305.21 924 306.61 923 307.99 922 309.33 921 310.65 920 311.94 919 313.19 918 314.42 917 315.61 916 316.78 915 317.91 914 319.02 913 320.09 912 321.13 911 322.15 910 323.13 909 324.08 908 325.01 907 325.9 906 326.77 905 327.61 904 328.42 903 329.2 902 329.96 901 330.69 900 331.39 899 332.07 898 332.72 897 333.35 896 333.95 895 334.53 894 335.09 893 335.62 892 336.14 891 336.63 890 337.1 889 337.55 888 337.98 887 338.4 886 338.79 885 339.17 884 339.53 883 339.87 882 340.2 881 340.51 880 340.81 879 341.1 878 341.36 877 341.62 876 341.86 875 342.1 874 342.31 873 342.52 872 342.72 871 342.91 870 343.08 869 343.25 868 343.41 867 343.56 866 343.7 865 343.83 864 343.96 863 344.08 862 344.19 861 344.3 860 344.4 859 344.49 858 344.58 857 344.66 856 344.74 855 344.81 854 344.88 853 344.94 852 345 851 345.06 850 345.11 849 345.16 848 345.21 847 345.25 846 345.29 845 345.33 844 345.36 843 345.39 842 345.42 841 345.45 840 345.48 839 345.5 838 345.53 837 345.55 836 345.57 835 345.58 834 345.6 833 345.62 832 345.63 831 345.65 830 345.66 829 345.67 828 345.68 827 345.69 826 345.7 825 345.71 824 345.71 823 345.72 822 345.73 821 345.73 820 345.74 819 345.75 818 345.75 817 345.75 816 345.76 815 345.76 814 345.77 813 345.77 812 345.77 811 345.77 810 345.78 809 345.78 808 345.78 807 345.78 806 345.78 805 345.79 804 345.79 803 345.79 802 345.79 801 345.79 800 345.79 799 345.79 798 345.79 797 345.79 796 345.79 795 345.79 794 345.8 793 345.8 792 345.8 791 345.8 790 345.8 789 345.8 788 345.8 787 345.8 786 345.8 785 345.8 784 345.8 783 345.8 782 345.8 781 345.8 780 345.8 779 345.8 778 345.8 777 345.8 776 345.8 775 345.8 774 345.8 773 345.8 772 345.8 771 345.8 770 345.8 769 345.8 768 345.8 767 345.8 766 345.8 765 345.8 764 345.8 763 345.8 762 345.8 761 345.8 760 345.8 759 345.8 758 345.8 757 345.8 756 345.8 755 345.8 754 345.8 753 345.8 752 345.8 751 345.8 750 345.8 749 345.8 748 345.8 747 345.8 746 345.8 745 345.8 744 345.8 743 345.8 742 345.8 741 345.8 740 345.8 739 345.8 738 345.8 737 345.8 736 345.8 735 345.8 734 345.8 733 345.8 732 345.8 731 345.8 730 345.8 729 345.8 728 345.8 727 345.8 726 345.8 725 345.8 724 345.8 723 345.8 722 345.8 721 345.8 720 345.8 719 345.8 718 345.8 717 345.8 716 345.8 715 345.8 714 345.8 713 345.8 712 345.8 711 345.8 710 345.8 709 345.8 708 345.8 707 345.8 706 345.8 705 345.8 704 345.8 703 345.8 702 345.8 701 345.8 700 345.8 699 345.8 698 345.8 697 345.8 696 345.8 695 345.8 694 345.8 693 345.8 692 345.8 691 345.8 690 345.8 689 345.8 688 345.8 687 345.8 686 345.8 685 345.8 684 345.8 683 345.8 682 345.8 681 345.8Z" fill="#86f23e" stroke="#86f23e" stroke-width="0.8"/>
<path d="M681 345.8 682 345.8 683 345.8 684 345.8 685 345.8 686 345.8 687 345.8 688 345.8 689 345.8 690 345.8 691 345.8 692 345.8 693 345.8 694 345.8 695 345.8 696 345.8 697 345.8 698 345.8 699 345.8 700 345.8 701 345.8 702 345.8 703 345.8 704 345.8 705 345.8 706 345.8 707 345.8 708 345.8 709 345.8 710 345.8 711 345.8 712 345.8 713 345.8 714 345.8 715 345.8 716 345.8 717 345.8 718 345.8 719 345.8 720 345.8 721 345.8 722 345.8 723 345.8 724 345.8 725 345.8 726 345.8 727 345.8 728 345.8 729 345.8 730 345.8 731 345.8 732 345.8 733 345.8 734 345.8 735 345.8 736 345.8 737 345.8 738 345.8 739 345.8 740 345.8 741 345.8 742 345.8 743 345.8 744 345.8 745 345.8 746 345.8 747 345.8 748 345.8 749 345.8 750 345.8 751 345.8 752 345.8 753 345.8 754 345.8 755 345.8 756 345.8 757 345.8 758 345.8 759 345.8 760 345.8 761 345.8 762 345.8 763 345.8 764 345.8 765 345.8 766 345.8 767 345.8 768 345.8 769 345.8 770 345.8 771 345.8 772 345.8 773 345.8 774 345.8 775 345.8 776 345.8 777 345.79 778 345.79 779 345.79 780 345.79 781 345.79 782 345.79 783 345.79 784 345.79 785 345.79 786 345.79 787 345.79 788 345.78 789 345.78 790 345.78 791 345.78 792 345.78 793 345.77 794 345.77 795 345.77 796 345.77 797 345.76 798 345.76 799 345.75 800 345.75 801 345.75 802 345.74 803 345.73 804 345.73 805 345.72 806 345.71 807 345.71 808 345.7 809 345.69 810 345.68 811 345.67 812 345.66 813 345.65 814 345.63 815 345.62 816 345.6 817 345.58 818 345.57 819 345.55 820 345.53 821 345.5 822 345.48 823 345.45 824 345.42 825 345.39 826 345.36 827 345.33 828 345.29 829 345.25 830 345.21 831 345.16 832 345.11 833 345.06 834 345 835 344.94 836 344.88 837 344.81 838 344.74 839 344.66 840 344.58 841 344.49 842 344.4 843 344.3 844 344.19 845 344.08 846 343.96 847 343.83 848 343.7 849 343.56 850 343.41 851 343.25 852 343.08 853 342.91 854 342.72 855 342.52 856 342.31 857 342.1 858 341.86 859 341.62 860 341.36 861 341.1 862 340.81 863 340.51 864 340.2 865 339.87 866 339.53 867 339.17 868 338.79 869 338.4 870 337.98 871 337.55 872 337.1 873 336.63 874 336.14 875 335.62 876 335.09 877 334.53 878 333.95 879 333.35 880 332.72 881 332.07 882 331.39 883 330.69 884 329.96 885 329.2 886 328.42 887 327.61 888 326.77 889 325.9 890 325.01 891 324.08 892 323.13 893 322.15 894 321.13 895 320.09 896 319.02 897 317.91 898 316.78 899 315.61 900 314.42 901 313.19 902 311.94 903 310.65 904 309.33 905 307.99 906 306.61 907 305.21 908 303.77 909 302.31 910 300.82 911 299.3 912 297.76 913 296.19 914 294.6 915 292.98 916 291.34 917 289.68 918 288 919 286.29 920 284.57 921 282.83 922 281.08 923 279.31 924 277.53 925 275.74 926 273.93 927 272.12 928 270.3 929 268.48 930 266.65 931 264.83 932 263 933 261.17 934 259.35 935 257.54 936 255.73 937 253.94 938 252.16 939 250.39 940 248.64 941 246.91 942 245.2 943 243.51 944 241.85 945 240.21 946 238.61 947 237.04 948 235.5 949 234 950 232.53 951 231.11 952 229.72 953 228.38 954 227.09 955 225.85 956 224.65 957 223.51 958 222.41 959 221.38 960 220.4 961 219.47 962 218.61 963 217.81 964 217.06 965 216.38 966 215.77 967 215.21 968 214.73 969 214.31 970 213.95 971 213.67 972 213.45 973 213.3 974 213.22 975 213.2 976 213.2 977 213.2 978 213.2 979 213.2 980 213.2 981 213.2 982 213.2 983 213.2 984 213.2 985 213.2 986 213.2 987 213.2 988 213.2 989 213.2 990 213.2 991 213.22 992 213.3 993 213.45 994 213.67 995 213.95 996 214.31 997 214.73 998 215.21 999 215.77 1000 216.38 1001 217.06 1002 217.81 1003 218.61 1004 219.47 1005 220.4 1006 221.38 1007 222.41 1008 223.51 1009 224.65 1010 225.85 1011 227.09 1012 228.38 1013 229.72 1014 231.11 1015 232.53 1016 234 1017 235.5 1018 237.04 1019 238.61 1020 240.21 1021 241.85 1022 243.51 1023 245.2 1024 246.91 1025 248.64 1026 250.39 1027 252.16 1028 253.94 1029 255.73 1030 257.54 1031 259.35 1032 261.17 1033 263 1034 264.83 1035 266.65 1036 268.48 1037 270.3 1038 272.12 1039 273.93 1040 275.74 1041 277.53 1042 279.31 1043 281.08 1044 282.83 1045 284.57 1046 286.29 1047 288 1048 289.68 1049 291.34 1050 292.98 1051 294.6 1052 296.19 1053 297.76 1054 299.3 1055 300.82 1056 302.31 1057 303.77 1058 305.21 1059 306.61 1060 307.99 1061 309.33 1062 310.65 1063 311.94 1064 313.19 1065 314.42 1066 315.61 1067 316.78 1068 317.91 1069 319.02 1070 320.09 1071 321.13 1072 322.15 1073 323.13 1074 324.08 1075 325.01 1076 325.9 1077 326.77 1078 327.61 1079 328.42 1080 329.2 1081 329.96 1082 330.69 1083 331.39 1084 332.07 1085 332.72 1086 333.35 1087 333.95 1088 334.53 1089 335.09 1090 335.62 1091 336.14 1092 336.63 1093 337.1 1094 337.55 1095 337.98 1096 338.4 1097 338.79 1098 339.17 1099 339.53 1100 339.87 1101 340.2 1102 340.51 1103 340.81 1104 341.1 1105 341.36 1106 341.62 1107 341.86 1108 342.1 1109 342.31 1110 342.52 1111 342.72 1112 342.91 1113 343.08 1114 343.25 1115 343.41 1116 343.56 1117 343.7 1118 343.83 1119 343.96 1120 344.08 1121 344.19 1122 344.3 1123 344.4 1124 344.49 1125 344.58 1126 344.66 1127 344.74 1128 344.81 1129 344.88 1130 344.94 1131 345 1132 345.06 1133 345.11 1134 345.16 1135 345.21 1136 345.25 1137 345.29 1138 345.33 1139 345.36 1140 345.39 1141 345.42 1142 345.45 1143 345.48 1144 345.5 1145 345.53 1146 345.55 1147 345.57 1148 345.58 1149 345.6 1150 345.62 1151 345.63 1152 345.65 1153 345.66 1154 345.67 1155 345.68 1156 345.69 1157 345.7 1158 345.71 1159 345.71 1160 345.72 1161 345.73 1162 345.73 1163 345.74 1164 345.75 1165 345.75 1166 345.75 1167 345.76 1168 345.76 1169 345.77 1170 345.77 1171 345.77 1172 345.77 1173 345.78 1174 345.78 1175 345.78 1176 345.78 1177 345.78 1178 345.79 1179 345.79 1180 345.79 1181 345.79 1182 345.79 1183 345.79 1184 345.79 1185 345.79 1186 345.79 1187 345.79 1188 345.79 1189 345.8 1190 345.8 1191 345.8 1192 345.8 1193 345.8 1194 345.8 1195 345.8 1196 345.8 1197 345.8 1198 345.8 1199 345.8 1199 345.8 1198 345.8 1197 345.8 1196 345.8 1195 345.8 1194 345.8 1193 345.8 1192 345.8 1191 345.8 1190 345.8 1189 345.8 1188 345.8 1187 345.8 1186 345.8 1185 345.8 1184 345.8 1183 345.8 1182 345.8 1181 345.8 1180 345.8 1179 345.8 1178 345.8 1177 345.8 1176 345.8 1175 345.8 1174 345.8 1173 345.79 1172 345.79 1171 345.79 1170 345.79 1169 345.79 1168 345.79 1167 345.79 1166 345.79 1165 345.79 1164 345.79 1163 345.79 1162 345.78 1161 345.78 1160 345.78 1159 345.78 1158 345.78 1157 345.78 1156 345.77 1155 345.77 1154 345.77 1153 345.76 1152 345.76 1151 345.76 1150 345.75 1149 345.75 1148 345.74 1147 345.74 1146 345.73 1145 345.73 1144 345.72 1143 345.71 1142 345.7 1141 345.7 1140 345.69 1139 345.68 1138 345.66 1137 345.65 1136 345.64 1135 345.63 1134 345.61 1133 345.59 1132 345.58 1131 345.56 1130 345.54 1129 345.52 1128 345.49 1127 345.47 1126 345.44 1125 345.41 1124 345.38 1123 345.35 1122 345.31 1121 345.27 1120 345.23 1119 345.19 1118 345.14 1117 345.09 1116 345.04 1115 344.98 1114 344.92 1113 344.85 1112 344.78 1111 344.71 1110 344.63 1109 344.54 1108 344.45 1107 344.36 1106 344.26 1105 344.15 1104 344.03 1103 343.91 1102 343.78 1101 343.65 1100 343.5 1099 343.35 1098 343.19 1097 343.01 1096 342.83 1095 342.64 1094 342.44 1093 342.23 1092 342 1091 341.77 1090 341.52 1089 341.26 1088 340.98 1087 340.69 1086 340.39 1085 340.07 1084 339.74 1083 339.39 1082 339.02 1081 338.64 1080 338.23 1079 337.81 1078 337.37 1077 336.91 1076 336.43 1075 335.93 1074 335.41 1073 334.87 1072 334.3 1071 333.71 1070 333.1 1069 332.46 1068 331.8 1067 331.11 1066 330.4 1065 329.66 1064 328.89 1063 328.1 1062 327.28 1061 326.43 1060 325.55 1059 324.64 1058 323.71 1057 322.74 1056 321.75 1055 320.72 1054 319.67 1053 318.58 1052 317.46 1051 316.32 1050 315.14 1049 313.93 1048 312.69 1047 311.43 1046 310.13 1045 308.8 1044 307.44 1043 306.05 1042 304.64 1041 303.19 1040 301.72 1039 300.22 1038 298.69 1037 297.14 1036 295.56 1035 293.95 1034 292.33 1033 290.68 1032 289.01 1031 287.32 1030 285.61 1029 283.88 1028 282.13 1027 280.37 1026 278.6 1025 276.81 1024 275.02 1023 273.21 1022 271.39 1021 269.57 1020 267.75 1019 265.92 1018 264.09 1017 262.27 1016 260.45 1015 258.63 1014 256.82 1013 255.02 1012 253.23 1011 251.45 1010 249.69 1009 247.94 1008 246.22 1007 244.52 1006 242.84 1005 241.19 1004 239.57 1003 237.98 1002 236.42 1001 234.89 1000 233.4 999 231.96 998 230.55 997 229.18 996 227.86 995 226.59 994 225.36 993 224.19 992 223.06 991 221.99 990 220.98 989 220.02 988 219.12 987 218.28 986 217.5 985 216.78 984 216.13 983 215.54 982 215.54 981 216.13 980 216.78 979 217.5 978 218.28 977 219.12 976 220.02 975 220.98 974 221.99 973 223.06 972 224.19 971 225.36 970 226.59 969 227.86 968 229.18 967 230.55 966 231.96 965 233.4 964 234.89 963 236.42 962 237.98 961 239.57 960 241.19 959 242.84 958 244.52 957 246.22 956 247.94 955 249.69 954 251.45 953 253.23 952 255.02 951 256.82 950 258.63 949 260.45 948 262.27 947 264.09 946 265.92 945 267.75 944 269.57 943 271.39 942 273.21 941 275.02 940 276.81 939 278.6 938 280.37 937 282.13 936 283.88 935 285.61 934 287.32 933 289.01 932 290.68 931 292.33 930 293.95 929 295.56 928 297.14 927 298.69 926 300.22 925 301.72 924 303.19 923 304.64 922 306.05 921 307.44 920 308.8 919 310.13 918 311.43 917 312.69 916 313.93 915 315.14 914 316.32 913 317.46 912 318.58 911 319.67 910 320.72 909 321.75 908 322.74 907 323.71 906 324.64 905 325.55 904 326.43 903 327.28 902 328.1 901 328.89 900 329.66 899 330.4 898 331.11 897 331.8 896 332.46 895 333.1 894 333.71 893 334.3 892 334.87 891 335.41 890 335.93 889 336.43 888 336.91 887 337.37 886 337.81 885 338.23 884 338.64 883 339.02 882 339.39 881 339.74 880 340.07 879 340.39 878 340.69 877 340.98 876 341.26 875 341.52 874 341.77 873 342 872 342.23 871 342.44 870 342.64 869 342.83 868 343.01 867 343.19 866 343.35 865 343.5 864 343.65 863 343.78 862 343.91 861 344.03 860 344.15 859 344.26 858 344.36 857 344.45 856 344.54 855 344.63 854 344.71 853 344.78 852 344.85 851 344.92 850 344.98 849 345.04 848 345.09 847 345.14 846 345.19 845 345.23 844 345.27 843 345.31 842 345.35 841 345.38 840 345.41 839 345.44 838 345.47 837 345.49 836 345.52 835 345.54 834 345.56 833 345.58 832 345.59 831 345.61 830 345.63 829 345.64 828 345.65 827 345.66 826 345.68 825 345.69 824 345.7 823 345.7 822 345.71 821 345.72 820 345.73 819 345.73 818 345.74 817 345.74 816 345.75 815 345.75 814 345.76 813 345.76 812 345.76 811 345.77 810 345.77 809 345.77 808 345.78 807 345.78 806 345.78 805 345.78 804 345.78 803 345.78 802 345.79 801 345.79 800 345.79 799 345.79 798 345.79 797 345.79 796 345.79 795 345.79 794 345.79 793 345.79 792 345.79 791 345.8 790 345.8 789 345.8 788 345.8 787 345.8 786 345.8 785 345.8 784 345.8 783 345.8 782 345.8 781 345.8 780 345.8 779 345.8 778 345.8 777 345.8 776 345.8 775 345.8 774 345.8 773 345.8 772 345.8 771 345.8 770 345.8 769 345.8 768 345.8 767 345.8 766 345.8 765 345.8 764 345.8 763 345.8 762 345.8 761 345.8 760 345.8 759 345.8 758 345.8 757 345.8 756 345.8 755 345.8 754 345.8 753 345.8 752 345.8 751 345.8 750 345.8 749 345.8 748 345.8 747 345.8 746 345.8 745 345.8 744 345.8 743 345.8 742 345.8 741 345.8 740 345.8 739 345.8 738 345.8 737 345.8 736 345.8 735 345.8 734 345.8 733 345.8 732 345.8 731 345.8 730 345.8 729 345.8 728 345.8 727 345.8 726 345.8 725 345.8 724 345.8 723 345.8 722 345.8 721 345.8 720 345.8 719 345.8 718 345.8 717 345.8 716 345.8 715 345.8 714 345.8 713 345.8 712 345.8 711 345.8 710 345.8 709 345.8 708 345.8 707 345.8 706 345.8 705 345.8 704 345.8 703 345.8 702 345.8 701 345.8 700 345.8 699 345.8 698 345.8 697 345.8 696 345.8 695 345.8 694 345.8 693 345.8 692 345.8 691 345.8 690 345.8 689 345.8 688 345.8 687 345.8 686 345.8 685 345.8 684 345.8 683 345.8 682 345.8 681 345.8Z" fill="#eef046"/>
<path d="M681 345.8 682 345.8 683 345.8 684 345.8 685 345.8 686 345.8 687 345.8 688 345.8 689 345.8 690 345.8 691 345.8 692 345.8 693 345.8 694 345.8 695 345.8 696 345.8 697 345.8 698 345.8 699 345.8 700 345.8 701 345.8 702 345.8 703 345.8 704 345.8 705 345.8 706 345.8 707 345.8 708 345.8 709 345.8 710 345.8 711 345.8 712 345.8 713 345.8 714 345.8 715 345.8 716 345.8 717 345.8 718 345.8 719 345.8 720 345.8 721 345.8 722 345.8 723 345.8 724 345.8 725 345.8 726 345.8 727 345.8 728 345.8 729 345.8 730 345.8 731 345.8 732 345.8 733 345.8 734 345.8 735 345.8 736 345.8 737 345.8 738 345.8 739 345.8 740 345.8 741 345.8 742 345.8 743 345.8 744 345.8 745 345.8 746 345.8 747 345.8 748 345.8 749 345.8 750 345.8 751 345.8 752 345.8 753 345.8 754 345.8 755 345.8 756 345.8 757 345.8 758 345.8 759 345.8 760 345.8 761 345.8 762 345.8 763 345.8 764 345.8 765 345.8 766 345.8 767 345.8 768 345.8 769 345.8 770 345.8 771 345.8 772 345.8 773 345.8 774 345.8 775 345.8 776 345.8 777 345.8 778 345.79 779 345.79 780 345.79 781 345.79 782 345.79 783 345.79 784 345.79 785 345.79 786 345.79 787 345.79 788 345.79 789 345.78 790 345.78 791 345.78 792 345.78 793 345.78 794 345.78 795 345.77 796 345.77 797 345.77 798 345.76 799 345.76 800 345.76 801 345.75 802 345.75 803 345.74 804 345.74 805 345.73 806 345.73 807 345.72 808 345.71 809 345.71 810 345.7 811 345.69 812 345.68 813 345.67 814 345.66 815 345.64 816 345.63 817 345.61 818 345.6 819 345.58 820 345.56 821 345.54 822 345.52 823 345.5 824 345.47 825 345.45 826 345.42 827 345.39 828 345.35 829 345.32 830 345.28 831 345.24 832 345.2 833 345.15 834 345.1 835 345.05 836 344.99 837 344.93 838 344.86 839 344.8 840 344.72 841 344.64 842 344.56 843 344.47 844 344.38 845 344.28 846 344.17 847 344.06 848 343.94 849 343.81 850 343.67 851 343.53 852 343.38 853 343.22 854 343.05 855 342.87 856 342.68 857 342.48 858 342.27 859 342.05 860 341.82 861 341.57 862 341.31 863 341.04 864 340.75 865 340.45 866 340.14 867 339.81 868 339.46 869 339.1 870 338.71 871 338.32 872 337.9 873 337.46 874 337.01 875 336.53 876 336.04 877 335.52 878 334.98 879 334.42 880 333.83 881 333.22 882 332.59 883 331.93 884 331.25 885 330.54 886 329.81 887 329.05 888 328.26 889 327.44 890 326.6 891 325.73 892 324.83 893 323.9 894 322.94 895 321.95 896 320.93 897 319.88 898 318.8 899 317.69 900 316.55 901 315.38 902 314.18 903 312.94 904 311.68 905 310.39 906 309.07 907 307.71 908 306.33 909 304.92 910 303.48 911 302.01 912 300.52 913 299 914 297.45 915 295.88 916 294.28 917 292.66 918 291.01 919 289.34 920 287.66 921 285.95 922 284.23 923 282.49 924 280.73 925 278.96 926 277.17 927 275.38 928 273.57 929 271.76 930 269.94 931 268.11 932 266.29 933 264.46 934 262.63 935 260.81 936 258.99 937 257.18 938 255.37 939 253.58 940 251.8 941 250.04 942 248.29 943 246.56 944 244.86 945 243.18 946 241.52 947 239.89 948 238.29 949 236.73 950 235.19 951 233.7 952 232.24 953 230.83 954 229.45 955 228.12 956 226.84 957 225.6 958 224.42 959 223.28 960 222.2 961 221.18 962 220.21 963 219.3 964 218.44 965 217.65 966 216.92 967 216.25 968 215.65 969 215.11 970 214.64 971 214.23 972 213.89 973 213.62 974 213.41 975 213.28 976 213.21 977 213.2 978 213.2 979 213.2 980 213.2 981 213.2 982 213.2 983 213.2 984 213.2 985 213.2 986 213.2 987 213.2 988 213.2 989 213.21 990 213.28 991 213.41 992 213.62 993 213.89 994 214.23 995 214.64 996 215.11 997 215.65 998 216.25 999 216.92 1000 217.65 1001 218.44 1002 219.3 1003 220.21 1004 221.18 1005 222.2 1006 223.28 1007 224.42 1008 225.6 1009 226.84 1010 228.12 1011 229.45 1012 230.83 1013 232.24 1014 233.7 1015 235.19 1016 236.73 1017 238.29 1018 239.89 1019 241.52 1020 243.18 1021 244.86 1022 246.56 1023 248.29 1024 250.04 1025 251.8 1026 253.58 1027 255.37 1028 257.18 1029 258.99 1030 260.81 1031 262.63 1032 264.46 1033 266.29 1034 268.11 1035 269.94 1036 271.76 1037 273.57 1038 275.38 1039 277.17 1040 278.96 1041 280.73 1042 282.49 1043 284.23 1044 285.95 1045 287.66 1046 289.34 1047 291.01 1048 292.66 1049 294.28 1050 295.88 1051 297.45 1052 299 1053 300.52 1054 302.01 1055 303.48 1056 304.92 1057 306.33 1058 307.71 1059 309.07 1060 310.39 1061 311.68 1062 312.94 1063 314.18 1064 315.38 1065 316.55 1066 317.69 1067 318.8 1068 319.88 1069 320.93 1070 321.95 1071 322.94 1072 323.9 1073 324.83 1074 325.73 1075 326.6 1076 327.44 1077 328.26 1078 329.05 1079 329.81 1080 330.54 1081 331.25 1082 331.93 1083 332.59 1084 333.22 1085 333.83 1086 334.42 1087 334.98 1088 335.52 1089 336.04 1090 336.53 1091 337.01 1092 337.46 1093 337.9 1094 338.32 1095 338.71 1096 339.1 1097 339.46 1098 339.81 1099 340.14 1100 340.45 1101 340.75 1102 341.04 1103 341.31 1104 341.57 1105 341.82 1106 342.05 1107 342.27 1108 342.48 1109 342.68 1110 342.87 1111 343.05 1112 343.22 1113 343.38 1114 343.53 1115 343.67 1116 343.81 1117 343.94 1118 344.06 1119 344.17 1120 344.28 1121 344.38 1122 344.47 1123 344.56 1124 344.64 1125 344.72 1126 344.8 1127 344.86 1128 344.93 1129 344.99 1130 345.05 1131 345.1 1132 345.15 1133 345.2 1134 345.24 1135 345.28 1136 345.32 1137 345.35 1138 345.39 1139 345.42 1140 345.45 1141 345.47 1142 345.5 1143 345.52 1144 345.54 1145 345.56 1146 345.58 1147 345.6 1148 345.61 1149 345.63 1150 345.64 1151 345.66 1152 345.67 1153 345.68 1154 345.69 1155 345.7 1156 345.71 1157 345.71 1158 345.72 1159 345.73 1160 345.73 1161 345.74 1162 345.74 1163 345.75 1164 345.75 1165 345.76 1166 345.76 1167 345.76 1168 345.77 1169 345.77 1170 345.77 1171 345.78 1172 345.78 1173 345.78 1174 345.78 1175 345.78 1176 345.78 1177 345.79 1178 345.79 1179 345.79 1180 345.79 1181 345.79 1182 345.79 1183 345.79 1184 345.79 1185 345.79 1186 345.79 1187 345.79 1188 345.8 1189 345.8 1190 345.8 1191 345.8 1192 345.8 1193 345.8 1194 345.8 1195 345.8 1196 345.8 1197 345.8 1198 345.8 1199 345.8 1199 345.8 1198 345.8 1197 345.8 1196 345.8 1195 345.8 1194 345.8 1193 345.8 1192 345.8 1191 345.8 1190 345.8 1189 345.8 1188 345.8 1187 345.8 1186 345.8 1185 345.8 1184 345.8 1183 345.8 1182 345.8 1181 345.8 1180 345.8 1179 345.8 1178 345.8 1177 345.8 1176 345.8 1175 345.79 1174 345.79 1173 345.79 1172 345.79 1171 345.79 1170 345.79 1169 345.79 1168 345.79 1167 345.79 1166 345.79 1165 345.79 1164 345.78 1163 345.78 1162 345.78 1161 345.78 1160 345.78 1159 345.78 1158 345.77 1157 345.77 1156 345.77 1155 345.76 1154 345.76 1153 345.76 1152 345.75 1151 345.75 1150 345.74 1149 345.74 1148 345.73 1147 345.73 1146 345.72 1145 345.71 1144 345.71 1143 345.7 1142 345.69 1141 345.68 1140 345.67 1139 345.66 1138 345.64 1137 345.63 1136 345.61 1135 345.6 1134 345.58 1133 345.56 1132 345.54 1131 345.52 1130 345.5 1129 345.47 1128 345.45 1127 345.42 1126 345.39 1125 345.35 1124 345.32 1123 345.28 1122 345.24 1121 345.2 1120 345.15 1119 345.1 1118 345.05 1117 344.99 1116 344.93 1115 344.86 1114 344.8 1113 344.72 1112 344.64 1111 344.56 1110 344.47 1109 344.38 1108 344.28 1107 344.17 1106 344.06 1105 343.94 1104 343.81 1103 343.67 1102 343.53 1101 343.38 1100 343.22 1099 343.05 1098 342.87 1097 342.68 1096 342.48 1095 342.27 1094 342.05 1093 341.82 1092 341.57 1091 341.31 1090 341.04 1089 340.75 1088 340.45 1087 340.14 1086 339.81 1085 339.46 1084 339.1 1083 338.71 1082 338.32 1081 337.9 1080 337.46 1079 337.01 1078 336.53 1077 336.04 1076 335.52 1075 334.98 1074 334.42 1073 333.83 1072 333.22 1071 332.59 1070 331.93 1069 331.25 1068 330.54 1067 329.81 1066 329.05 1065 328.26 1064 327.44 1063 326.6 1062 325.73 1061 324.83 1060 323.9 1059 322.94 1058 321.95 1057 320.93 1056 319.88 1055 318.8 1054 317.69 1053 316.55 1052 315.38 1051 314.18 1050 312.94 1049 311.68 1048 310.39 1047 309.07 1046 307.71 1045 306.33 1044 304.92 1043 303.48 1042 302.01 1041 300.52 1040 299 1039 297.45 1038 295.88 1037 294.28 1036 292.66 1035 291.01 1034 289.34 1033 287.66 1032 285.95 1031 284.23 1030 282.49 1029 280.73 1028 278.96 1027 277.17 1026 275.38 1025 273.57 1024 271.76 1023 269.94 1022 268.11 1021 266.29 1020 264.46 1019 262.63 1018 260.81 1017 258.99 1016 257.18 1015 255.37 1014 253.58 1013 251.8 1012 250.04 1011 248.29 1010 246.56 1009 244.86 1008 243.18 1007 241.52 1006 239.89 1005 238.29 1004 236.73 1003 235.19 1002 233.7 1001 232.24 1000 230.83 999 229.45 998 228.12 997 226.84 996 225.6 995 224.42 994 223.28 993 222.2 992 221.18 991 220.21 990 219.3 989 218.44 988 217.65 987 216.92 986 216.25 985 215.65 984 215.11 983 214.64 982 214.64 981 215.11 980 215.65 979 216.25 978 216.92 977 217.65 976 218.44 975 219.3 974 220.21 973 221.18 972 222.2 971 223.28 970 224.42 969 225.6 968 226.84 967 228.12 966 229.45 965 230.83 964 232.24 963 233.7 962 235.19 961 236.73 960 238.29 959 239.89 958 241.52 957 243.18 956 244.86 955 246.56 954 248.29 953 250.04 952 251.8 951 253.58 950 255.37 949 257.18 948 258.99 947 260.81 946 262.63 945 264.46 944 266.29 943 268.11 942 269.94 941 271.76 940 273.57 939 275.38 938 277.17 937 278.96 936 280.73 935 282.49 934 284.23 933 285.95 932 287.66 931 289.34 930 291.01 929 292.66 928 294.28 927 295.88 926 297.45 925 299 924 300.52 923 302.01 922 303.48 921 304.92 920 306.33 919 307.71 918 309.07 917 310.39 916 311.68 915 312.94 914 314.18 913 315.38 912 316.55 911 317.69 910 318.8 909 319.88 908 320.93 907 321.95 906 322.94 905 323.9 904 324.83 903 325.73 902 326.6 901 327.44 900 328.26 899 329.05 898 329.81 897 330.54 896 331.25 895 331.93 894 332.59 893 333.22 892 333.83 891 334.42 890 334.98 889 335.52 888 336.04 887 336.53 886 337.01 885 337.46 884 337.9 883 338.32 882 338.71 881 339.1 880 339.46 879 339.81 878 340.14 877 340.45 876 340.75 875 341.04 874 341.31 873 341.57 872 341.82 871 342.05 870 342.27 869 342.48 868 342.68 867 342.87 866 343.05 865 343.22 864 343.38 863 343.53 862 343.67 861 343.81 860 343.94 859 344.06 858 344.17 857 344.28 856 344.38 855 344.47 854 344.56 853 344.64 852 344.72 851 344.8 850 344.86 849 344.93 848 344.99 847 345.05 846 345.1 845 345.15 844 345.2 843 345.24 842 345.28 841 345.32 840 345.35 839 345.39 838 345.42 837 345.45 836 345.47 835 345.5 834 345.52 833 345.54 832 345.56 831 345.58 830 345.6 829 345.61 828 345.63 827 345.64 826 345.66 825 345.67 824 345.68 823 345.69 822 345.7 821 345.71 820 345.71 819 345.72 818 345.73 817 345.73 816 345.74 815 345.74 814 345.75 813 345.75 812 345.76 811 345.76 810 345.76 809 345.77 808 345.77 807 345.77 806 345.78 805 345.78 804 345.78 803 345.78 802 345.78 801 345.78 800 345.79 799 345.79 798 345.79 797 345.79 796 345.79 795 345.79 794 345.79 793 345.79 792 345.79 791 345.79 790 345.79 789 345.8 788 345.8 787 345.8 786 345.8 785 345.8 784 345.8 783 345.8 782 345.8 781 345.8 780 345.8 779 345.8 778 345.8 777 345.8 776 345.8 775 345.8 774 345.8 773 345.8 772 345.8 771 345.8 770 345.8 769 345.8 768 345.8 767 345.8 766 345.8 765 345.8 764 345.8 763 345.8 762 345.8 761 345.8 760 345.8 759 345.8 758 345.8 757 345.8 756 345.8 755 345.8 754 345.8 753 345.8 752 345.8 751 345.8 750 345.8 749 345.8 748 345.8 747 345.8 746 345.8 745 345.8 744 345.8 743 345.8 742 345.8 741 345.8 740 345.8 739 345.8 738 345.8 737 345.8 736 345.8 735 345.8 734 345.8 733 345.8 732 345.8 731 345.8 730 345.8 729 345.8 728 345.8 727 345.8 726 345.8 725 345.8 724 345.8 723 345.8 722 345.8 721 345.8 720 345.8 719 345.8 718 345.8 717 345.8 716 345.8 715 345.8 714 345.8 713 345.8 712 345.8 711 345.8 710 345.8 709 345.8 708 345.8 707 345.8 706 345.8 705 345.8 704 345.8 703 345.8 702 345.8 701 345.8 700 345.8 699 345.8 698 345.8 697 345.8 696 345.8 695 345.8 694 345.8 693 345.8 692 345.8 691 345.8 690 345.8 689 345.8 688 345.8 687 345.8 686 345.8 685 345.8 684 345.8 683 345.8 682 345.8 681 345.8Z" fill="#f6b23c"/>
<path d="M681 345.8 682 345.8 683 345.8 684 345.8 685 345.8 686 345.8 687 345.8 688 345.8 689 345.8 690 345.8 691 345.8 692 345.8 693 345.8 694 345.8 695 345.8 696 345.8 697 345.8 698 345.8 699 345.8 700 345.8 701 345.8 702 345.8 703 345.8 704 345.8 705 345.8 706 345.8 707 345.8 708 345.8 709 345.8 710 345.8 711 345.8 712 345.8 713 345.8 714 345.8 715 345.8 716 345.8 717 345.8 718 345.8 719 345.8 720 345.8 721 345.8 722 345.8 723 345.8 724 345.8 725 345.8 726 345.8 727 345.8 728 345.8 729 345.8 730 345.8 731 345.8 732 345.8 733 345.8 734 345.8 735 345.8 736 345.8 737 345.8 738 345.8 739 345.8 740 345.8 741 345.8 742 345.8 743 345.8 744 345.8 745 345.8 746 345.8 747 345.8 748 345.8 749 345.8 750 345.8 751 345.8 752 345.8 753 345.8 754 345.8 755 345.8 756 345.8 757 345.8 758 345.8 759 345.8 760 345.8 761 345.8 762 345.8 763 345.8 764 345.8 765 345.8 766 345.8 767 345.8 768 345.8 769 345.8 770 345.8 771 345.8 772 345.8 773 345.8 774 345.8 775 345.8 776 345.8 777 345.8 778 345.8 779 345.8 780 345.8 781 345.8 782 345.8 783 345.8 784 345.79 785 345.79 786 345.79 787 345.79 788 345.79 789 345.79 790 345.79 791 345.79 792 345.79 793 345.79 794 345.79 795 345.78 796 345.78 797 345.78 798 345.78 799 345.78 800 345.78 801 345.77 802 345.77 803 345.77 804 345.76 805 345.76 806 345.76 807 345.75 808 345.75 809 345.74 810 345.74 811 345.73 812 345.73 813 345.72 814 345.71 815 345.71 816 345.7 817 345.69 818 345.68 819 345.67 820 345.66 821 345.64 822 345.63 823 345.61 824 345.6 825 345.58 826 345.56 827 345.54 828 345.52 829 345.5 830 345.47 831 345.45 832 345.42 833 345.39 834 345.35 835 345.32 836 345.28 837 345.24 838 345.2 839 345.15 840 345.1 841 345.05 842 344.99 843 344.93 844 344.86 845 344.8 846 344.72 847 344.64 848 344.56 849 344.47 850 344.38 851 344.28 852 344.17 853 344.06 854 343.94 855 343.81 856 343.67 857 343.53 858 343.38 859 343.22 860 343.05 861 342.87 862 342.68 863 342.48 864 342.27 865 342.05 866 341.82 867 341.57 868 341.31 869 341.04 870 340.75 871 340.45 872 340.14 873 339.81 874 339.46 875 339.1 876 338.71 877 338.32 878 337.9 879 337.46 880 337.01 881 336.53 882 336.04 883 335.52 884 334.98 885 334.42 886 333.83 887 333.22 888 332.59 889 331.93 890 331.25 891 330.54 892 329.81 893 329.05 894 328.26 895 327.44 896 326.6 897 325.73 898 324.83 899 323.9 900 322.94 901 321.95 902 320.93 903 319.88 904 318.8 905 317.69 906 316.55 907 315.38 908 314.18 909 312.94 910 311.68 911 310.39 912 309.07 913 307.71 914 306.33 915 304.92 916 303.48 917 302.01 918 300.52 919 299 920 297.45 921 295.88 922 294.28 923 292.66 924 291.01 925 289.34 926 287.66 927 285.95 928 284.23 929 282.49 930 280.73 931 278.96 932 277.17 933 275.38 934 273.57 935 271.76 936 269.94 937 268.11 938 266.29 939 264.46 940 262.63 941 260.81 942 258.99 943 257.18 944 255.37 945 253.58 946 251.8 947 250.04 948 248.29 949 246.56 950 244.86 951 243.18 952 241.52 953 239.89 954 238.29 955 236.73 956 235.19 957 233.7 958 232.24 959 230.83 960 229.45 961 228.12 962 226.84 963 225.6 964 224.42 965 223.28 966 222.2 967 221.18 968 220.21 969 219.3 970 218.44 971 217.65 972 216.92 973 216.25 974 215.65 975 215.11 976 214.64 977 214.23 978 213.89 979 213.62 980 213.41 981 213.28 982 213.21 983 213.21 984 213.28 985 213.41 986 213.62 987 213.89 988 214.23 989 214.64 990 215.11 991 215.65 992 216.25 993 216.92 994 217.65 995 218.44 996 219.3 997 220.21 998 221.18 999 222.2 1000 223.28 1001 224.42 1002 225.6 1003 226.84 1004 228.12 1005 229.45 1006 230.83 1007 232.24 1008 233.7 1009 235.19 1010 236.73 1011 238.29 1012 239.89 1013 241.52 1014 243.18 1015 244.86 1016 246.56 1017 248.29 1018 250.04 1019 251.8 1020 253.58 1021 255.37 1022 257.18 1023 258.99 1024 260.81 1025 262.63 1026 264.46 1027 266.29 1028 268.11 1029 269.94 1030 271.76 1031 273.57 1032 275.38 1033 277.17 1034 278.96 1035 280.73 1036 282.49 1037 284.23 1038 285.95 1039 287.66 1040 289.34 1041 291.01 1042 292.66 1043 294.28 1044 295.88 1045 297.45 1046 299 1047 300.52 1048 302.01 1049 303.48 1050 304.92 1051 306.33 1052 307.71 1053 309.07 1054 310.39 1055 311.68 1056 312.94 1057 314.18 1058 315.38 1059 316.55 1060 317.69 1061 318.8 1062 319.88 1063 320.93 1064 321.95 1065 322.94 1066 323.9 1067 324.83 1068 325.73 1069 326.6 1070 327.44 1071 328.26 1072 329.05 1073 329.81 1074 330.54 1075 331.25 1076 331.93 1077 332.59 1078 333.22 1079 333.83 1080 334.42 1081 334.98 1082 335.52 1083 336.04 1084 336.53 1085 337.01 1086 337.46 1087 337.9 1088 338.32 1089 338.71 1090 339.1 1091 339.46 1092 339.81 1093 340.14 1094 340.45 1095 340.75 1096 341.04 1097 341.31 1098 341.57 1099 341.82 1100 342.05 1101 342.27 1102 342.48 1103 342.68 1104 342.87 1105 343.05 1106 343.22 1107 343.38 1108 343.53 1109 343.67 1110 343.81 1111 343.94 1112 344.06 1113 344.17 1114 344.28 1115 344.38 1116 344.47 1117 344.56 1118 344.64 1119 344.72 1120 344.8 1121 344.86 1122 344.93 1123 344.99 1124 345.05 1125 345.1 1126 345.15 1127 345.2 1128 345.24 1129 345.28 1130 345.32 1131 345.35 1132 345.39 1133 345.42 1134 345.45 1135 345.47 1136 345.5 1137 345.52 1138 345.54 1139 345.56 1140 345.58 1141 345.6 1142 345.61 1143 345.63 1144 345.64 1145 345.66 1146 345.67 1147 345.68 1148 345.69 1149 345.7 1150 345.71 1151 345.71 1152 345.72 1153 345.73 1154 345.73 1155 345.74 1156 345.74 1157 345.75 1158 345.75 1159 345.76 1160 345.76 1161 345.76 1162 345.77 1163 345.77 1164 345.77 1165 345.78 1166 345.78 1167 345.78 1168 345.78 1169 345.78 1170 345.78 1171 345.79 1172 345.79 1173 345.79 1174 345.79 1175 345.79 1176 345.79 1177 345.79 1178 345.79 1179 345.79 1180 345.79 1181 345.79 1182 345.8 1183 345.8 1184 345.8 1185 345.8 1186 345.8 1187 345.8 1188 345.8 1189 345.8 1190 345.8 1191 345.8 1192 345.8 1193 345.8 1194 345.8 1195 345.8 1196 345.8 1197 345.8 1198 345.8 1199 345.8" fill="none" stroke="#f29a30" stroke-width="2.0"/>
<path d="M681 345.8 682 345.8 683 345.8 684 345.8 685 345.8 686 345.8 687 345.8 688 345.8 689 345.8 690 345.8 691 345.8 692 345.8 693 345.8 694 345.8 695 345.8 696 345.8 697 345.8 698 345.8 699 345.8 700 345.8 701 345.8 702 345.8 703 345.8 704 345.8 705 345.8 706 345.8 707 345.8 708 345.8 709 345.8 710 345.8 711 345.8 712 345.8 713 345.8 714 345.8 715 345.8 716 345.8 717 345.8 718 345.8 719 345.8 720 345.8 721 345.8 722 345.8 723 345.8 724 345.8 725 345.8 726 345.8 727 345.8 728 345.8 729 345.8 730 345.8 731 345.8 732 345.8 733 345.8 734 345.8 735 345.8 736 345.8 737 345.8 738 345.8 739 345.8 740 345.8 741 345.8 742 345.8 743 345.8 744 345.8 745 345.8 746 345.8 747 345.8 748 345.8 749 345.8 750 345.8 751 345.8 752 345.8 753 345.8 754 345.8 755 345.8 756 345.8 757 345.8 758 345.8 759 345.8 760 345.8 761 345.8 762 345.8 763 345.8 764 345.8 765 345.8 766 345.8 767 345.8 768 345.8 769 345.8 770 345.8 771 345.8 772 345.8 773 345.8 774 345.8 775 345.8 776 345.8 777 345.8 778 345.8 779 345.8 780 345.8 781 345.8 782 345.8 783 345.8 784 345.79 785 345.79 786 345.79 787 345.79 788 345.79 789 345.79 790 345.79 791 345.79 792 345.79 793 345.79 794 345.79 795 345.78 796 345.78 797 345.78 798 345.78 799 345.78 800 345.78 801 345.77 802 345.77 803 345.77 804 345.76 805 345.76 806 345.76 807 345.75 808 345.75 809 345.74 810 345.74 811 345.73 812 345.73 813 345.72 814 345.71 815 345.71 816 345.7 817 345.69 818 345.68 819 345.67 820 345.66 821 345.64 822 345.63 823 345.61 824 345.6 825 345.58 826 345.56 827 345.54 828 345.52 829 345.5 830 345.47 831 345.45 832 345.42 833 345.39 834 345.35 835 345.32 836 345.28 837 345.24 838 345.2 839 345.15 840 345.1 841 345.05 842 344.99 843 344.93 844 344.86 845 344.8 846 344.72 847 344.64 848 344.56 849 344.47 850 344.38 851 344.28 852 344.17 853 344.06 854 343.94 855 343.81 856 343.67 857 343.53 858 343.38 859 343.22 860 343.05 861 342.87 862 342.68 863 342.48 864 342.27 865 342.05 866 341.82 867 341.57 868 341.31 869 341.04 870 340.75 871 340.45 872 340.14 873 339.81 874 339.46 875 339.1 876 338.71 877 338.32 878 337.9 879 337.46 880 337.01 881 336.53 882 336.04 883 335.52 884 334.98 885 334.42 886 333.83 887 333.22 888 332.59 889 331.93 890 331.25 891 330.54 892 329.81 893 329.05 894 328.26 895 327.44 896 326.6 897 325.73 898 324.83 899 323.9 900 322.94 901 321.95 902 320.93 903 319.88 904 318.8 905 317.69 906 316.55 907 315.38 908 314.18 909 312.94 910 311.68 911 310.39 912 309.07 913 307.71 914 306.33 915 304.92 916 303.48 917 302.01 918 300.52 919 299 920 297.45 921 295.88 922 294.28 923 292.66 924 291.01 925 289.34 926 287.66 927 285.95 928 284.23 929 282.49 930 280.73 931 278.96 932 277.17 933 275.38 934 273.57 935 271.76 936 269.94 937 268.11 938 266.29 939 264.46 940 262.63 941 260.81 942 258.99 943 257.18 944 255.37 945 253.58 946 251.8 947 250.04 948 248.29 949 246.56 950 244.86 951 243.18 952 241.52 953 239.89 954 238.29 955 236.73 956 235.19 957 233.7 958 232.24 959 230.83 960 229.45 961 228.12 962 226.84 963 225.6 964 224.42 965 223.28 966 222.2 967 221.18 968 220.21 969 219.3 970 218.44 971 217.65 972 216.92 973 216.25 974 215.65 975 215.11 976 214.64 977 214.23 978 213.89 979 213.62 980 213.41 981 213.28 982 213.21 983 213.21 984 213.28 985 213.41 986 213.62 987 213.89 988 214.23 989 214.64 990 215.11 991 215.65 992 216.25 993 216.92 994 217.65 995 218.44 996 219.3 997 220.21 998 221.18 999 222.2 1000 223.28 1001 224.42 1002 225.6 1003 226.84 1004 228.12 1005 229.45 1006 230.83 1007 232.24 1008 233.7 1009 235.19 1010 236.73 1011 238.29 1012 239.89 1013 241.52 1014 243.18 1015 244.86 1016 246.56 1017 248.29 1018 250.04 1019 251.8 1020 253.58 1021 255.37 1022 257.18 1023 258.99 1024 260.81 1025 262.63 1026 264.46 1027 266.29 1028 268.11 1029 269.94 1030 271.76 1031 273.57 1032 275.38 1033 277.17 1034 278.96 1035 280.73 1036 282.49 1037 284.23 1038 285.95 1039 287.66 1040 289.34 1041 291.01 1042 292.66 1043 294.28 1044 295.88 1045 297.45 1046 299 1047 300.52 1048 302.01 1049 303.48 1050 304.92 1051 306.33 1052 307.71 1053 309.07 1054 310.39 1055 311.68 1056 312.94 1057 314.18 1058 315.38 1059 316.55 1060 317.69 1061 318.8 1062 319.88 1063 320.93 1064 321.95 1065 322.94 1066 323.9 1067 324.83 1068 325.73 1069 326.6 1070 327.44 1071 328.26 1072 329.05 1073 329.81 1074 330.54 1075 331.25 1076 331.93 1077 332.59 1078 333.22 1079 333.83 1080 334.42 1081 334.98 1082 335.52 1083 336.04 1084 336.53 1085 337.01 1086 337.46 1087 337.9 1088 338.32 1089 338.71 1090 339.1 1091 339.46 1092 339.81 1093 340.14 1094 340.45 1095 340.75 1096 341.04 1097 341.31 1098 341.57 1099 341.82 1100 342.05 1101 342.27 1102 342.48 1103 342.68 1104 342.87 1105 343.05 1106 343.22 1107 343.38 1108 343.53 1109 343.67 1110 343.81 1111 343.94 1112 344.06 1113 344.17 1114 344.28 1115 344.38 1116 344.47 1117 344.56 1118 344.64 1119 344.72 1120 344.8 1121 344.86 1122 344.93 1123 344.99 1124 345.05 1125 345.1 1126 345.15 1127 345.2 1128 345.24 1129 345.28 1130 345.32 1131 345.35 1132 345.39 1133 345.42 1134 345.45 1135 345.47 1136 345.5 1137 345.52 1138 345.54 1139 345.56 1140 345.58 1141 345.6 1142 345.61 1143 345.63 1144 345.64 1145 345.66 1146 345.67 1147 345.68 1148 345.69 1149 345.7 1150 345.71 1151 345.71 1152 345.72 1153 345.73 1154 345.73 1155 345.74 1156 345.74 1157 345.75 1158 345.75 1159 345.76 1160 345.76 1161 345.76 1162 345.77 1163 345.77 1164 345.77 1165 345.78 1166 345.78 1167 345.78 1168 345.78 1169 345.78 1170 345.78 1171 345.79 1172 345.79 1173 345.79 1174 345.79 1175 345.79 1176 345.79 1177 345.79 1178 345.79 1179 345.79 1180 345.79 1181 345.79 1182 345.8 1183 345.8 1184 345.8 1185 345.8 1186 345.8 1187 345.8 1188 345.8 1189 345.8 1190 345.8 1191 345.8 1192 345.8 1193 345.8 1194 345.8 1195 345.8 1196 345.8 1197 345.8 1198 345.8 1199 345.8" fill="none" stroke="#ee8a2e" stroke-width="0.9"/>
<path d="M206 345.79 207 345.79 208 345.79 209 345.79 210 345.79 211 345.79 212 345.78 213 345.78 214 345.78 215 345.78 216 345.78 217 345.78 218 345.77 219 345.77 220 345.77 221 345.77 222 345.76 223 345.76 224 345.76 225 345.75 226 345.75 227 345.74 228 345.74 229 345.73 230 345.73 231 345.72 232 345.71 233 345.7 234 345.7 235 345.69 236 345.68 237 345.67 238 345.66 239 345.64 240 345.63 241 345.62 242 345.6 243 345.59 244 345.57 245 345.55 246 345.53 247 345.51 248 345.49 249 345.46 250 345.44 251 345.41 252 345.38 253 345.34 254 345.31 255 345.27 256 345.23 257 345.19 258 345.15 259 345.1 260 345.05 261 345 262 344.94 263 344.88 264 344.81 265 344.74 266 344.67 267 344.59 268 344.51 269 344.42 270 344.33 271 344.23 272 344.13 273 344.02 274 343.9 275 343.78 276 343.65 277 343.51 278 343.36 279 343.21 280 343.05 281 342.88 282 342.7 283 342.51 284 342.31 285 342.1 286 341.88 287 341.65 288 341.41 289 341.16 290 340.89 291 340.61 292 340.32 293 340.01 294 339.69 295 339.36 296 339.01 297 338.64 298 338.26 299 337.86 300 337.44 301 337.01 302 336.56 303 336.09 304 335.6 305 335.09 306 334.56 307 334.01 308 333.44 309 332.85 310 332.24 311 331.6 312 330.94 313 330.26 314 329.55 315 328.82 316 328.07 317 327.29 318 326.49 319 325.66 320 324.8 321 323.92 322 323.01 323 322.08 324 321.12 325 320.13 326 319.12 327 318.07 328 317.01 329 315.91 330 314.79 331 313.64 332 312.46 333 311.26 334 310.03 335 308.78 336 307.49 337 306.19 338 304.86 339 303.5 340 302.12 341 300.71 342 299.28 343 297.83 344 296.36 345 294.86 346 293.35 347 291.82 348 290.26 349 288.69 350 287.11 351 285.5 352 283.89 353 282.26 354 280.61 355 278.96 356 277.3 357 275.63 358 273.95 359 272.26 360 270.58 361 268.89 362 267.2 363 265.51 364 263.82 365 262.14 366 260.46 367 258.79 368 257.13 369 255.48 370 253.84 371 252.22 372 250.62 373 249.03 374 247.46 375 245.92 376 244.39 377 242.9 378 241.43 379 239.99 380 238.58 381 237.2 382 235.86 383 234.55 384 233.28 385 232.05 386 230.87 387 229.72 388 228.62 389 227.56 390 226.55 391 225.59 392 224.68 393 223.81 394 223 395 222.25 396 221.54 397 220.9 398 220.3 399 219.77 400 219.29 401 218.87 402 218.51 403 218.21 404 217.97 405 217.79 406 217.67 407 217.61 408 217.61 409 217.67 410 217.79 411 217.97 412 218.21 413 218.51 414 218.87 415 219.29 416 219.77 417 220.3 418 220.9 419 221.54 420 222.25 421 223 422 223.81 423 224.68 424 225.59 425 226.55 426 227.56 427 228.62 428 229.72 429 230.87 430 232.05 431 233.28 432 234.55 433 235.86 434 237.2 435 238.58 436 239.99 437 241.43 438 242.9 439 244.39 440 245.92 441 247.46 442 249.03 443 250.62 444 252.22 445 253.84 446 255.48 447 257.13 448 258.79 449 260.46 450 262.14 451 263.82 452 265.51 453 267.2 454 268.89 455 270.58 456 272.26 457 273.95 458 275.63 459 277.3 460 278.96 461 280.61 462 282.26 463 283.89 464 285.5 465 287.11 466 288.69 467 290.26 468 291.82 469 293.35 470 294.86 471 296.36 472 297.83 473 299.28 474 300.71 475 302.12 476 303.5 477 304.86 478 306.19 479 307.49 480 308.78 481 310.03 482 311.26 483 312.46 484 313.64 485 314.79 486 315.91 487 317.01 488 318.07 489 319.12 490 320.13 491 321.12 492 322.08 493 323.01 494 323.92 495 324.8 496 325.66 497 326.49 498 327.29 499 328.07 500 328.82 501 329.55 502 330.26 503 330.94 504 331.6 505 332.24 506 332.85 507 333.44 508 334.01 509 334.56 510 335.09 511 335.6 512 336.09 513 336.56 514 337.01 515 337.44 516 337.86 517 338.26 518 338.64 519 339.01 520 339.36 521 339.69 522 340.01 523 340.32 524 340.61 525 340.89 526 341.16 527 341.41 528 341.65 529 341.88 530 342.1 531 342.31 532 342.51 533 342.7 534 342.88 535 343.05 536 343.21 537 343.36 538 343.51 539 343.65 540 343.78 541 343.9 542 344.02 543 344.13 544 344.23 545 344.33 546 344.42 547 344.51 548 344.59 549 344.67 550 344.74 551 344.81 552 344.88 553 344.94 554 345 555 345.05 556 345.1 557 345.15 558 345.19 559 345.23 560 345.27 561 345.31 562 345.34 563 345.38 564 345.41 565 345.44 566 345.46 567 345.49 568 345.51 569 345.53 570 345.55 571 345.57 572 345.59 573 345.6 574 345.62 575 345.63 576 345.64 577 345.66 578 345.67 579 345.68 580 345.69 581 345.7 582 345.7 583 345.71 584 345.72 585 345.73 586 345.73 587 345.74 588 345.74 589 345.75 590 345.75 591 345.76 592 345.76 593 345.76 594 345.77 595 345.77 596 345.77 597 345.77 598 345.78 599 345.78 600 345.78 601 345.78 602 345.78 603 345.78 604 345.79 605 345.79 606 345.79 607 345.79 608 345.79 609 345.79 610 345.79 611 345.79 612 345.79 613 345.79 614 345.79 615 345.8 616 345.8 617 345.8 618 345.8 619 345.8 620 345.8 621 345.8 622 345.8 623 345.8 624 345.8 625 345.8 626 345.8 627 345.8 628 345.8 629 345.8 630 345.8 631 345.8 632 345.8 633 345.8 634 345.8 635 345.8 636 345.8 637 345.8 638 345.8 639 345.8 640 345.8 641 345.8 642 345.8 643 345.8 644 345.8 645 345.8 646 345.8 647 345.8 648 345.8 649 345.8 650 345.8 651 345.8 652 345.8 653 345.8 654 345.8 655 345.8 656 345.8 657 345.8 658 345.8 659 345.8 660 345.8 661 345.8 662 345.8 663 345.8 664 345.8 665 345.8 666 345.8 667 345.8 668 345.8 669 345.8 670 345.8 671 345.8 672 345.8 673 345.8 674 345.8 675 345.8 676 345.8 677 345.8 678 345.8 679 345.8 680 345.8 681 345.8" fill="none" stroke="#ec6a20" stroke-width="1.7"/>
<path d="M206 345.79 207 345.79 208 345.79 209 345.79 210 345.79 211 345.79 212 345.78 213 345.78 214 345.78 215 345.78 216 345.78 217 345.78 218 345.77 219 345.77 220 345.77 221 345.77 222 345.76 223 345.76 224 345.76 225 345.75 226 345.75 227 345.74 228 345.74 229 345.73 230 345.73 231 345.72 232 345.71 233 345.7 234 345.7 235 345.69 236 345.68 237 345.67 238 345.66 239 345.64 240 345.63 241 345.62 242 345.6 243 345.59 244 345.57 245 345.55 246 345.53 247 345.51 248 345.49 249 345.46 250 345.44 251 345.41 252 345.38 253 345.34 254 345.31 255 345.27 256 345.23 257 345.19 258 345.15 259 345.1 260 345.05 261 345 262 344.94 263 344.88 264 344.81 265 344.74 266 344.67 267 344.59 268 344.51 269 344.42 270 344.33 271 344.23 272 344.13 273 344.02 274 343.9 275 343.78 276 343.65 277 343.51 278 343.36 279 343.21 280 343.05 281 342.88 282 342.7 283 342.51 284 342.31 285 342.1 286 341.88 287 341.65 288 341.41 289 341.16 290 340.89 291 340.61 292 340.32 293 340.01 294 339.69 295 339.36 296 339.01 297 338.64 298 338.26 299 337.86 300 337.44 301 337.01 302 336.56 303 336.09 304 335.6 305 335.09 306 334.56 307 334.01 308 333.44 309 332.85 310 332.24 311 331.6 312 330.94 313 330.26 314 329.55 315 328.82 316 328.07 317 327.29 318 326.49 319 325.66 320 324.8 321 323.92 322 323.01 323 322.08 324 321.12 325 320.13 326 319.12 327 318.07 328 317.01 329 315.91 330 314.79 331 313.64 332 312.46 333 311.26 334 310.03 335 308.78 336 307.49 337 306.19 338 304.86 339 303.5 340 302.12 341 300.71 342 299.28 343 297.83 344 296.36 345 294.86 346 293.35 347 291.82 348 290.26 349 288.69 350 287.11 351 285.5 352 283.89 353 282.26 354 280.61 355 278.96 356 277.3 357 275.63 358 273.95 359 272.26 360 270.58 361 268.89 362 267.2 363 265.51 364 263.82 365 262.14 366 260.46 367 258.79 368 257.13 369 255.48 370 253.84 371 252.22 372 250.62 373 249.03 374 247.46 375 245.92 376 244.39 377 242.9 378 241.43 379 239.99 380 238.58 381 237.2 382 235.86 383 234.55 384 233.28 385 232.05 386 230.87 387 229.72 388 228.62 389 227.56 390 226.55 391 225.59 392 224.68 393 223.81 394 223 395 222.25 396 221.54 397 220.9 398 220.3 399 219.77 400 219.29 401 218.87 402 218.51 403 218.21 404 217.97 405 217.79 406 217.67 407 217.61 408 217.61 409 217.67 410 217.79 411 217.97 412 218.21 413 218.51 414 218.87 415 219.29 416 219.77 417 220.3 418 220.9 419 221.54 420 222.25 421 223 422 223.81 423 224.68 424 225.59 425 226.55 426 227.56 427 228.62 428 229.72 429 230.87 430 232.05 431 233.28 432 234.55 433 235.86 434 237.2 435 238.58 436 239.99 437 241.43 438 242.9 439 244.39 440 245.92 441 247.46 442 249.03 443 250.62 444 252.22 445 253.84 446 255.48 447 257.13 448 258.79 449 260.46 450 262.14 451 263.82 452 265.51 453 267.2 454 268.89 455 270.58 456 272.26 457 273.95 458 275.63 459 277.3 460 278.96 461 280.61 462 282.26 463 283.89 464 285.5 465 287.11 466 288.69 467 290.26 468 291.82 469 293.35 470 294.86 471 296.36 472 297.83 473 299.28 474 300.71 475 302.12 476 303.5 477 304.86 478 306.19 479 307.49 480 308.78 481 310.03 482 311.26 483 312.46 484 313.64 485 314.79 486 315.91 487 317.01 488 318.07 489 319.12 490 320.13 491 321.12 492 322.08 493 323.01 494 323.92 495 324.8 496 325.66 497 326.49 498 327.29 499 328.07 500 328.82 501 329.55 502 330.26 503 330.94 504 331.6 505 332.24 506 332.85 507 333.44 508 334.01 509 334.56 510 335.09 511 335.6 512 336.09 513 336.56 514 337.01 515 337.44 516 337.86 517 338.26 518 338.64 519 339.01 520 339.36 521 339.69 522 340.01 523 340.32 524 340.61 525 340.89 526 341.16 527 341.41 528 341.65 529 341.88 530 342.1 531 342.31 532 342.51 533 342.7 534 342.88 535 343.05 536 343.21 537 343.36 538 343.51 539 343.65 540 343.78 541 343.9 542 344.02 543 344.13 544 344.23 545 344.33 546 344.42 547 344.51 548 344.59 549 344.67 550 344.74 551 344.81 552 344.88 553 344.94 554 345 555 345.05 556 345.1 557 345.15 558 345.19 559 345.23 560 345.27 561 345.31 562 345.34 563 345.38 564 345.41 565 345.44 566 345.46 567 345.49 568 345.51 569 345.53 570 345.55 571 345.57 572 345.59 573 345.6 574 345.62 575 345.63 576 345.64 577 345.66 578 345.67 579 345.68 580 345.69 581 345.7 582 345.7 583 345.71 584 345.72 585 345.73 586 345.73 587 345.74 588 345.74 589 345.75 590 345.75 591 345.76 592 345.76 593 345.76 594 345.77 595 345.77 596 345.77 597 345.77 598 345.78 599 345.78 600 345.78 601 345.78 602 345.78 603 345.78 604 345.79 605 345.79 606 345.79 607 345.79 608 345.79 609 345.79 610 345.79 611 345.79 612 345.79 613 345.79 614 345.79 615 345.8 616 345.8 617 345.8 618 345.8 619 345.8 620 345.8 621 345.8 622 345.8 623 345.8 624 345.8 625 345.8 626 345.8 627 345.8 628 345.8 629 345.8 630 345.8 631 345.8 632 345.8 633 345.8 634 345.8 635 345.8 636 345.8 637 345.8 638 345.8 639 345.8 640 345.8 641 345.8 642 345.8 643 345.8 644 345.8 645 345.8 646 345.8 647 345.8 648 345.8 649 345.8 650 345.8 651 345.8 652 345.8 653 345.8 654 345.8 655 345.8 656 345.8 657 345.8 658 345.8 659 345.8 660 345.8 661 345.8 662 345.8 663 345.8 664 345.8 665 345.8 666 345.8 667 345.8 668 345.8 669 345.8 670 345.8 671 345.8 672 345.8 673 345.8 674 345.8 675 345.8 676 345.8 677 345.8 678 345.8 679 345.8 680 345.8 681 345.8" fill="none" stroke="#f6c040" stroke-width="0.5"/>
<path d="M1190.2 230.8 L1190.2 209.4 L209.5 209.4 L209.5 356.2 L1190.2 356.2 L1190.2 333" fill="none" stroke="#575557" stroke-width="3.8"/>
<line x1="209.2" y1="170.2" x2="209.2" y2="346" stroke="#9a9a9a" stroke-width="1.9" stroke-dasharray="12.6 12.1" stroke-dashoffset="4.7"/>
<line x1="293.3" y1="170.2" x2="293.3" y2="346" stroke="#9a9a9a" stroke-width="1.9" stroke-dasharray="12.6 12.1" stroke-dashoffset="4.7"/>
<line x1="383.4" y1="170.2" x2="383.4" y2="346" stroke="#9a9a9a" stroke-width="1.9" stroke-dasharray="12.6 12.1" stroke-dashoffset="4.7"/>
<line x1="471.4" y1="170.2" x2="471.4" y2="346" stroke="#9a9a9a" stroke-width="1.9" stroke-dasharray="12.6 12.1" stroke-dashoffset="4.7"/>
<line x1="553.7" y1="170.2" x2="553.7" y2="346" stroke="#9a9a9a" stroke-width="1.9" stroke-dasharray="12.6 12.1" stroke-dashoffset="4.7"/>
<line x1="640.5" y1="170.2" x2="640.5" y2="346" stroke="#9a9a9a" stroke-width="1.9" stroke-dasharray="12.6 12.1" stroke-dashoffset="4.7"/>
<line x1="724.5" y1="170.2" x2="724.5" y2="346" stroke="#9a9a9a" stroke-width="1.9" stroke-dasharray="12.6 12.1" stroke-dashoffset="4.7"/>
<line x1="810.6" y1="170.2" x2="810.6" y2="346" stroke="#9a9a9a" stroke-width="1.9" stroke-dasharray="12.6 12.1" stroke-dashoffset="4.7"/>
<line x1="899.2" y1="170.2" x2="899.2" y2="346" stroke="#9a9a9a" stroke-width="1.9" stroke-dasharray="12.6 12.1" stroke-dashoffset="4.7"/>
<line x1="985.5" y1="170.2" x2="985.5" y2="346" stroke="#9a9a9a" stroke-width="1.9" stroke-dasharray="12.6 12.1" stroke-dashoffset="4.7"/>
<line x1="1071.5" y1="170.2" x2="1071.5" y2="346" stroke="#9a9a9a" stroke-width="1.9" stroke-dasharray="12.6 12.1" stroke-dashoffset="4.7"/>
<line x1="1160.1" y1="170.2" x2="1160.1" y2="346" stroke="#9a9a9a" stroke-width="1.9" stroke-dasharray="12.6 12.1" stroke-dashoffset="4.7"/>
<line x1="406.3" y1="206.5" x2="406.3" y2="357" stroke="#b9a3d9" stroke-width="3.2"/>
<line x1="982.5" y1="205.8" x2="982.5" y2="357" stroke="#b9a3d9" stroke-width="3.2"/>
<rect x="1102" y="232.5" width="290" height="99" fill="#fff"/>
<path d="M668.8 179.2 L690.2 157.8 M676.8 179.2 L698.2 157.8" stroke="#2a1f1f" stroke-width="2" stroke-linecap="round"/>
<text x="223.33" y="276.3" font-family="Liberation Sans" font-size="34.5" fill="#000" textLength="104.59" lengthAdjust="spacingAndGlyphs">Trigger</text>
<line x1="331.5" y1="265.6" x2="349" y2="265.6" stroke="#e8392b" stroke-width="2.2"/>
<polygon points="361.6,265.6 344.5,258.6 348.5,265.6 344.5,272.6" fill="#e8392b"/>
<text x="38.6" y="289.7" font-family="Liberation Sans" font-size="36" fill="#000" textLength="116.35" lengthAdjust="spacingAndGlyphs">ASOPS</text>
<text x="44.88" y="330" font-family="Liberation Sans" font-size="35.5" fill="#000" textLength="93.81" lengthAdjust="spacingAndGlyphs">Signal</text>
<text x="74.17" y="403.3" font-family="Liberation Serif" font-size="44.3" fill="#000" textLength="47.55" lengthAdjust="spacingAndGlyphs">(a)</text>
<line x1="614.3" y1="283" x2="420" y2="283" stroke="#2a1f1f" stroke-width="2.6"/>
<polygon points="408.4,283 424,277.5 420,283 424,288.5" fill="#2a1f1f"/>
<line x1="845.4" y1="283" x2="968" y2="283" stroke="#2a1f1f" stroke-width="2.6"/>
<polygon points="979.8,283 962.4,277.5 966,283 962.4,288.5" fill="#2a1f1f"/>
<rect x="616" y="229" width="228" height="109" fill="#fff"/>
<path d="M663.1 355.3 L684.3 333.4 M671.1 355.3 L692.2 333.4" stroke="#2a1f1f" stroke-width="2" stroke-linecap="round"/>
<text x="622.09" y="295.6" font-family="Liberation Serif" font-size="41.7" font-style="italic" fill="#000">T</text>
<text x="645.32" y="302.4" font-family="Liberation Serif" font-size="27" font-style="italic" fill="#000">p</text>
<text x="667.08" y="297.6" font-family="Liberation Serif" font-size="41" fill="#000" textLength="24.99" lengthAdjust="spacingAndGlyphs">=</text>
<path d="M717.2 230.8 C695.07 263.41 695.07 306.89 717.2 339.5 L717.8 339.1 C698.87 306.89 698.87 263.41 717.8 231.2 Z" fill="#000" stroke="#000" stroke-width="0.5"/>
<path d="M755 230.8 C777.13 263.41 777.13 306.89 755 339.5 L754.4 339.1 C773.33 306.89 773.33 263.41 754.4 231.2 Z" fill="#000" stroke="#000" stroke-width="0.5"/>
<text x="719.89" y="268.3" font-family="Liberation Serif" font-size="33.5" font-style="italic" fill="#000">t</text>
<text x="737.74" y="272.2" font-family="Liberation Serif" font-size="24" font-style="italic" fill="#000">p</text>
<line x1="719.3" y1="285.1" x2="753" y2="285.1" stroke="#000" stroke-width="1.3"/>
<text x="721.99" y="325" font-family="Liberation Serif" font-size="33.5" font-style="italic" fill="#000">t</text>
<text x="735.84" y="334.8" font-family="Liberation Serif" font-size="24" font-style="italic" fill="#000">r</text>
<circle cx="782.4" cy="285.1" r="1.9" fill="#000"/>
<text x="790.09" y="295.6" font-family="Liberation Serif" font-size="41.7" font-style="italic" fill="#000">T</text>
<text x="808.62" y="304" font-family="Liberation Serif" font-size="27" font-style="italic" fill="#000">r</text>
<rect x="1002.6" y="278.6" width="59.2" height="8.9" fill="none" stroke="#e8392b" stroke-width="3.2"/>
<path d="M1040.7 277 Q1045 252 1085 247.8" fill="none" stroke="#e8392b" stroke-width="3.4"/>
<polygon points="1098.4,247.6 1082.5,239.5 1085.5,247.8 1082.5,256.9" fill="#e8392b"/>
<text x="1106.63" y="267.8" font-family="Liberation Sans" font-size="33.7" fill="#000">Visual period jitter</text>
<ellipse cx="1136.4" cy="300.6" rx="10" ry="7.4" transform="rotate(-28 1136.4 300.6)" fill="none" stroke="#000" stroke-width="3.3"/>
<polygon points="1133.2,290 1153,289.9 1152.4,293 1139.2,293.3" fill="#000"/>
<text x="1152.62" y="320.3" font-family="Liberation Serif" font-size="24.6" font-style="italic" fill="#000" textLength="59.77" lengthAdjust="spacingAndGlyphs">visual</text>
<text x="1226.45" y="312.9" font-family="Liberation Serif" font-size="43" fill="#000" textLength="27.65" lengthAdjust="spacingAndGlyphs">=</text>
<text x="1263.53" y="309.8" font-family="Liberation Serif" font-size="43" font-style="italic" fill="#000" textLength="31.22" lengthAdjust="spacingAndGlyphs">N</text>
<ellipse cx="1309.9" cy="300.6" rx="10" ry="7.4" transform="rotate(-28 1309.9 300.6)" fill="none" stroke="#000" stroke-width="3.3"/>
<polygon points="1306.7,290 1326.5,289.9 1325.9,293 1312.7,293.3" fill="#000"/>
<text x="1326.56" y="320.3" font-family="Liberation Serif" font-size="24.5" font-style="italic" fill="#000" textLength="21.72" lengthAdjust="spacingAndGlyphs">M</text>
<line x1="1121.8" y1="84.3" x2="1138" y2="84.3" stroke="#2a1f1f" stroke-width="1.6"/>
<polygon points="1143,84.3 1134,80.8 1136,84.3 1134,87.8" fill="#2a1f1f"/>
<line x1="1143.6" y1="73.3" x2="1143.6" y2="97.4" stroke="#2a1f1f" stroke-width="1.6"/>
<line x1="1152.4" y1="73.3" x2="1152.4" y2="97.4" stroke="#2a1f1f" stroke-width="1.6"/>
<line x1="1158" y1="84.3" x2="1173.5" y2="84.3" stroke="#2a1f1f" stroke-width="1.6"/>
<polygon points="1153,84.3 1162,80.8 1160,84.3 1162,87.8" fill="#2a1f1f"/>
<ellipse cx="1185.75" cy="86.55" rx="9.3" ry="6.88" transform="rotate(-28 1185.75 86.55)" fill="none" stroke="#000" stroke-width="3.07"/>
<polygon points="1182.77,76.69 1201.19,76.6 1200.63,79.48 1188.36,79.76" fill="#000"/>
<text x="1202.44" y="105.5" font-family="Liberation Serif" font-size="24.6" font-style="italic" fill="#000" textLength="20.4" lengthAdjust="spacingAndGlyphs">M</text>
<text x="1235.81" y="97.6" font-family="Liberation Serif" font-size="41" fill="#000" textLength="24.74" lengthAdjust="spacingAndGlyphs">=</text>
<ellipse cx="1279.95" cy="86.55" rx="9.3" ry="6.88" transform="rotate(-28 1279.95 86.55)" fill="none" stroke="#000" stroke-width="3.07"/>
<polygon points="1276.97,76.69 1295.39,76.6 1294.83,79.48 1282.56,79.76" fill="#000"/>
<text x="1294.87" y="105.5" font-family="Liberation Serif" font-size="24" fill="#000" textLength="11.67" lengthAdjust="spacingAndGlyphs">0</text>
<path d="M1309.5 85.5 L1313.6 83 L1321.6 97.6 L1329 56.2 L1380 56.2" fill="none" stroke="#000" stroke-width="2.2" stroke-linejoin="miter"/>
<path d="M1313.6 83 L1321.6 97.6" stroke="#000" stroke-width="3.4"/>
<text x="1339.34" y="95.1" font-family="Liberation Serif" font-size="43.8" font-style="italic" fill="#000">M</text>
<text x="196.68" y="389.6" font-family="Liberation Sans" font-size="30" fill="#000" textLength="29.98" lengthAdjust="spacingAndGlyphs">-2</text>
<text x="279.67" y="389.6" font-family="Liberation Sans" font-size="30" fill="#000" textLength="26.34" lengthAdjust="spacingAndGlyphs">-1</text>
<text x="375.16" y="389.6" font-family="Liberation Sans" font-size="30" fill="#000" textLength="17.26" lengthAdjust="spacingAndGlyphs">0</text>
<text x="461.47" y="389.6" font-family="Liberation Sans" font-size="30" fill="#000" textLength="15.09" lengthAdjust="spacingAndGlyphs">1</text>
<text x="544.17" y="389.6" font-family="Liberation Sans" font-size="30" fill="#000" textLength="19.19" lengthAdjust="spacingAndGlyphs">2</text>
<text x="864.58" y="389.6" font-family="Liberation Sans" font-size="30" fill="#000" textLength="52.05" lengthAdjust="spacingAndGlyphs">M-1</text>
<text x="969.86" y="389.6" font-family="Liberation Sans" font-size="30" fill="#000" textLength="27.48" lengthAdjust="spacingAndGlyphs">M</text>
<text x="1038.58" y="389.6" font-family="Liberation Sans" font-size="30" fill="#000" textLength="59.57" lengthAdjust="spacingAndGlyphs">M+1</text>
<circle cx="662" cy="378.7" r="1.9" fill="#000"/>
<circle cx="673.3" cy="378.7" r="1.9" fill="#000"/>
<circle cx="684.6" cy="378.7" r="1.9" fill="#000"/>
<line x1="342" y1="692.6" x2="349" y2="692.6" stroke="#000" stroke-width="2.4"/>
<line x1="336" y1="659.3" x2="349" y2="659.3" stroke="#000" stroke-width="2.4"/>
<line x1="342" y1="626" x2="349" y2="626" stroke="#000" stroke-width="2.4"/>
<line x1="336" y1="592.7" x2="349" y2="592.7" stroke="#000" stroke-width="2.4"/>
<line x1="342" y1="559.4" x2="349" y2="559.4" stroke="#000" stroke-width="2.4"/>
<line x1="336" y1="526.1" x2="349" y2="526.1" stroke="#000" stroke-width="2.4"/>
<line x1="342" y1="492.8" x2="349" y2="492.8" stroke="#000" stroke-width="2.4"/>
<text x="266.64" y="534.9" font-family="Liberation Sans" font-size="30" fill="#000" textLength="61.2" lengthAdjust="spacingAndGlyphs">0.50</text>
<text x="266.65" y="601.5" font-family="Liberation Sans" font-size="30" fill="#000" textLength="61.04" lengthAdjust="spacingAndGlyphs">0.44</text>
<text x="266.64" y="668.1" font-family="Liberation Sans" font-size="30" fill="#000" textLength="61.36" lengthAdjust="spacingAndGlyphs">0.38</text>
<line x1="397.55" y1="471.5" x2="397.55" y2="478.5" stroke="#000" stroke-width="2.4"/>
<line x1="495.8" y1="471.5" x2="495.8" y2="484" stroke="#000" stroke-width="2.4"/>
<text x="468.72" y="465.2" font-family="Liberation Sans" font-size="30" fill="#000" textLength="53.52" lengthAdjust="spacingAndGlyphs">300</text>
<line x1="594.05" y1="471.5" x2="594.05" y2="478.5" stroke="#000" stroke-width="2.4"/>
<line x1="692.3" y1="471.5" x2="692.3" y2="484" stroke="#000" stroke-width="2.4"/>
<text x="664.67" y="465.2" font-family="Liberation Sans" font-size="30" fill="#000" textLength="52.85" lengthAdjust="spacingAndGlyphs">400</text>
<line x1="790.55" y1="471.5" x2="790.55" y2="478.5" stroke="#000" stroke-width="2.4"/>
<line x1="888.8" y1="471.5" x2="888.8" y2="484" stroke="#000" stroke-width="2.4"/>
<text x="862.32" y="465.2" font-family="Liberation Sans" font-size="30" fill="#000" textLength="53.52" lengthAdjust="spacingAndGlyphs">500</text>
<line x1="987.05" y1="471.5" x2="987.05" y2="478.5" stroke="#000" stroke-width="2.4"/>
<line x1="1085.3" y1="471.5" x2="1085.3" y2="484" stroke="#000" stroke-width="2.4"/>
<text x="1058.69" y="465.2" font-family="Liberation Sans" font-size="30" fill="#000" textLength="53.86" lengthAdjust="spacingAndGlyphs">600</text>
<line x1="1183.55" y1="471.5" x2="1183.55" y2="478.5" stroke="#000" stroke-width="2.4"/>
<line x1="342" y1="881.95" x2="349" y2="881.95" stroke="#000" stroke-width="2.4"/>
<line x1="336" y1="856.4" x2="349" y2="856.4" stroke="#000" stroke-width="2.4"/>
<line x1="342" y1="830.85" x2="349" y2="830.85" stroke="#000" stroke-width="2.4"/>
<line x1="336" y1="805.3" x2="349" y2="805.3" stroke="#000" stroke-width="2.4"/>
<line x1="342" y1="779.75" x2="349" y2="779.75" stroke="#000" stroke-width="2.4"/>
<line x1="336" y1="754.2" x2="349" y2="754.2" stroke="#000" stroke-width="2.4"/>
<line x1="342" y1="728.65" x2="349" y2="728.65" stroke="#000" stroke-width="2.4"/>
<line x1="336" y1="703.1" x2="349" y2="703.1" stroke="#000" stroke-width="2.4"/>
<text x="284.37" y="711.9" font-family="Liberation Sans" font-size="30" fill="#000" textLength="43.17" lengthAdjust="spacingAndGlyphs">1.4</text>
<text x="284.33" y="763" font-family="Liberation Sans" font-size="30" fill="#000" textLength="43.85" lengthAdjust="spacingAndGlyphs">1.2</text>
<text x="284.36" y="814.1" font-family="Liberation Sans" font-size="30" fill="#000" textLength="43.33" lengthAdjust="spacingAndGlyphs">1.0</text>
<text x="285.48" y="865.2" font-family="Liberation Sans" font-size="30" fill="#000" textLength="42.34" lengthAdjust="spacingAndGlyphs">0.8</text>
<line x1="403.6" y1="882" x2="403.6" y2="893" stroke="#000" stroke-width="2.4"/>
<line x1="403.6" y1="704" x2="403.6" y2="715" stroke="#000" stroke-width="2.4"/>
<text x="392.73" y="925.4" font-family="Liberation Sans" font-size="30" fill="#000" textLength="20.21" lengthAdjust="spacingAndGlyphs">6</text>
<line x1="527.7" y1="882" x2="527.7" y2="888" stroke="#000" stroke-width="2.4"/>
<line x1="527.7" y1="704" x2="527.7" y2="710" stroke="#000" stroke-width="2.4"/>
<line x1="651.79" y1="882" x2="651.79" y2="893" stroke="#000" stroke-width="2.4"/>
<line x1="651.79" y1="704" x2="651.79" y2="715" stroke="#000" stroke-width="2.4"/>
<text x="642.35" y="925.4" font-family="Liberation Sans" font-size="30" fill="#000" textLength="20.33" lengthAdjust="spacingAndGlyphs">9</text>
<line x1="775.88" y1="882" x2="775.88" y2="888" stroke="#000" stroke-width="2.4"/>
<line x1="775.88" y1="704" x2="775.88" y2="710" stroke="#000" stroke-width="2.4"/>
<line x1="899.98" y1="882" x2="899.98" y2="893" stroke="#000" stroke-width="2.4"/>
<text x="883.94" y="925.4" font-family="Liberation Sans" font-size="30" fill="#000" textLength="35.01" lengthAdjust="spacingAndGlyphs">12</text>
<line x1="1024.08" y1="882" x2="1024.08" y2="888" stroke="#000" stroke-width="2.4"/>
<line x1="1148.17" y1="882" x2="1148.17" y2="893" stroke="#000" stroke-width="2.4"/>
<text x="1133.71" y="925.4" font-family="Liberation Sans" font-size="30" fill="#000" textLength="33.99" lengthAdjust="spacingAndGlyphs">15</text>
<path d="M349 471.5 L1234 471.5 L1234 882 L349 882 Z" fill="none" stroke="#000" stroke-width="2.6"/>
<line x1="335" y1="704" x2="847.3" y2="704" stroke="#000" stroke-width="2.6"/>
<line x1="342" y1="882" x2="349" y2="882" stroke="#000" stroke-width="2.6"/>
<text x="0" y="0" font-family="Liberation Sans" font-size="34" fill="#000" textLength="184.75" lengthAdjust="spacingAndGlyphs" transform="translate(210.6 679.56) rotate(-90)">Visual period</text>
<text x="0" y="0" font-family="Liberation Sans" font-size="34.5" fill="#000" textLength="186.04" lengthAdjust="spacingAndGlyphs" transform="translate(252.1 678.71) rotate(-90)">jitter STD(ns)</text>
<text x="0" y="0" font-family="Liberation Sans" font-size="32.5" fill="#000" textLength="161.63" lengthAdjust="spacingAndGlyphs" transform="translate(215.2 868.46) rotate(-90)">Period jitter</text>
<text x="0" y="0" font-family="Liberation Sans" font-size="33.5" fill="#000" textLength="119.22" lengthAdjust="spacingAndGlyphs" transform="translate(255 843.24) rotate(-90)">STD (fs)</text>
<text x="360.59" y="511.2" font-family="Liberation Sans" font-size="29" fill="#000" textLength="39.06" lengthAdjust="spacingAndGlyphs">(c)</text>
<text x="715.1" y="950.5" font-family="Liberation Sans" font-size="35.6" font-style="italic" fill="#000" textLength="21.06" lengthAdjust="spacingAndGlyphs">T</text>
<text x="736.04" y="962.4" font-family="Liberation Sans" font-size="21.5" font-style="italic" fill="#000">p</text>
<text x="756.19" y="950.4" font-family="Liberation Sans" font-size="33.5" fill="#000" textLength="61.19" lengthAdjust="spacingAndGlyphs">(μs)</text>
<text x="74.51" y="917" font-family="Liberation Serif" font-size="44.8" fill="#000" textLength="49.02" lengthAdjust="spacingAndGlyphs">(b)</text>
<path d="M423 702.05 427 700.65 431 699.25 435 697.85 439 696.46 443 695.07 447 693.68 451 692.29 455 690.91 459 689.53 463 688.15 467 686.78 471 685.41 475 684.04 479 682.67 483 681.31 487 679.95 491 678.59 495 677.24 499 675.89 503 674.54 507 673.19 511 671.85 515 670.51 519 669.17 523 667.84 527 666.51 531 665.18 535 663.85 539 662.53 543 661.21 547 659.89 551 658.58 555 657.27 559 655.96 563 654.65 567 653.35 571 652.05 575 650.75 579 649.46 583 648.17 587 646.88 591 645.59 595 644.31 599 643.03 603 641.75 607 640.48 611 639.2 615 637.93 619 636.67 623 635.41 627 634.15 631 632.89 635 631.63 639 630.38 643 629.13 647 627.89 651 626.64 655 625.4 659 624.17 663 622.93 667 621.7 671 620.47 675 619.25 679 618.02 683 616.8 687 615.58 691 614.37 695 613.16 699 611.95 703 610.74 707 609.54 711 608.34 715 607.14 719 605.95 723 604.76 727 603.57 731 602.38 735 601.2 739 600.02 743 598.84 747 597.66 751 596.49 755 595.32 759 594.16 763 592.99 767 591.83 771 590.68 775 589.52 779 588.37 783 587.22 787 586.08 791 584.93 795 583.79 799 582.65 803 581.52 807 580.39 811 579.26 815 578.13 819 577.01 823 575.89 827 574.77 831 573.66 835 572.54 839 571.43 843 570.33 847 569.23 851 568.12 855 567.03 859 565.93 863 564.84 867 563.75 871 562.66 875 561.58 879 560.5 883 559.42 887 558.35 891 557.28 895 556.21 899 555.14 903 554.08 907 553.02 911 551.96 915 550.9 919 549.85 923 548.8 927 547.76 931 546.71 935 545.67 939 544.63 943 543.6 947 542.57 951 541.54 955 540.51 959 539.49 963 538.47 967 537.45 971 536.44 975 535.42 979 534.41 983 533.41 987 532.4 991 531.4 995 530.41 999 529.41 1003 528.42 1007 527.43 1011 526.44 1015 525.46 1019 524.48 1023 523.5 1027 522.53 1031 521.55 1035 520.58 1039 519.62 1043 518.65 1047 517.69 1051 516.73 1055 515.78 1059 514.83 1063 513.88 1067 512.93 1071 511.99 1075 511.05 1079 510.11 1083 509.17 1087 508.24 1091 507.31 1095 506.39 1099 505.46 1103 504.54 1107 503.62 1111 502.71 1115 501.8 1119 500.89 1123 499.98 1127 499.08 1131 498.18 1135 497.28 1139 496.38 1143 495.49 1147 494.6 1151 493.71" fill="none" stroke="#0a28e6" stroke-width="3.3" stroke-linecap="round" stroke-dasharray="9.8 19.3" stroke-dashoffset="-1.6"/>
<line x1="388.9" y1="835.3" x2="634.6" y2="835.3" stroke="#0a28e6" stroke-width="3.4" stroke-linecap="round" stroke-dasharray="11 17.8"/>
<line x1="388.9" y1="859.2" x2="634.6" y2="859.2" stroke="#0a28e6" stroke-width="3.4" stroke-linecap="round" stroke-dasharray="11 17.8"/>
<line x1="648" y1="850.4" x2="1195" y2="850.4" stroke="#0a1ef0" stroke-width="2.5" stroke-linecap="round" stroke-dasharray="0 5.9"/>
<line x1="648" y1="859.4" x2="1195" y2="859.4" stroke="#0a1ef0" stroke-width="2.5" stroke-linecap="round" stroke-dasharray="0 5.9"/>
<line x1="422.2" y1="808" x2="422.2" y2="827.3" stroke="#0a28e6" stroke-width="2"/>
<polygon points="422.2,833.3 418,819.3 426.4,819.3" fill="#0a28e6"/>
<line x1="422.2" y1="881.7" x2="422.2" y2="867.1" stroke="#0a28e6" stroke-width="2"/>
<polygon points="422.2,861.1 418,875.1 426.4,875.1" fill="#0a28e6"/>
<line x1="758.4" y1="821.4" x2="758.4" y2="842.8" stroke="#0a28e6" stroke-width="2"/>
<polygon points="758.4,848.8 754.2,834.8 762.6,834.8" fill="#0a28e6"/>
<line x1="758.4" y1="882" x2="758.4" y2="868.5" stroke="#0a28e6" stroke-width="2"/>
<polygon points="758.4,862.5 754.2,876.5 762.6,876.5" fill="#0a28e6"/>
<text x="416.16" y="800.8" font-family="Liberation Sans" font-size="28" fill="#000" textLength="102.27" lengthAdjust="spacingAndGlyphs">± 50 as</text>
<text x="714.35" y="807.6" font-family="Liberation Sans" font-size="28" fill="#000" textLength="104" lengthAdjust="spacingAndGlyphs">± 25 as</text>
<circle cx="394.5" cy="681" r="7.2" fill="#e8321f"/>
<circle cx="436" cy="670.4" r="7.2" fill="#e8321f"/>
<circle cx="495.5" cy="640" r="7.2" fill="#e8321f"/>
<circle cx="537.5" cy="624.6" r="7.2" fill="#e8321f"/>
<circle cx="577.2" cy="629.2" r="7.2" fill="#e8321f"/>
<circle cx="615.8" cy="614.8" r="7.2" fill="#e8321f"/>
<circle cx="660" cy="619.3" r="7.2" fill="#e8321f"/>
<circle cx="700.4" cy="605.1" r="7.2" fill="#e8321f"/>
<circle cx="740" cy="591.4" r="7.2" fill="#e8321f"/>
<circle cx="775.3" cy="585.9" r="7.2" fill="#e8321f"/>
<circle cx="816.5" cy="582.7" r="7.2" fill="#e8321f"/>
<circle cx="836.9" cy="576.9" r="7.2" fill="#e8321f"/>
<circle cx="887" cy="571.4" r="7.2" fill="#e8321f"/>
<circle cx="943.1" cy="549.3" r="7.2" fill="#e8321f"/>
<circle cx="983.1" cy="533.7" r="7.2" fill="#e8321f"/>
<circle cx="1057.3" cy="511" r="7.2" fill="#e8321f"/>
<circle cx="1100.8" cy="503.5" r="7.2" fill="#e8321f"/>
<circle cx="1147.8" cy="493.3" r="7.2" fill="#e8321f"/>
<circle cx="394.9" cy="836.4" r="7.2" fill="#e8321f"/>
<circle cx="435.9" cy="838.9" r="7.2" fill="#e8321f"/>
<circle cx="495.6" cy="834.8" r="7.2" fill="#e8321f"/>
<circle cx="537.5" cy="834.9" r="7.2" fill="#e8321f"/>
<circle cx="577.2" cy="843.9" r="7.2" fill="#e8321f"/>
<circle cx="615.8" cy="843.2" r="7.2" fill="#e8321f"/>
<circle cx="660" cy="851.9" r="7.2" fill="#e8321f"/>
<circle cx="700.4" cy="850.8" r="7.2" fill="#e8321f"/>
<circle cx="740" cy="850" r="7.2" fill="#e8321f"/>
<circle cx="775.3" cy="851.6" r="7.2" fill="#e8321f"/>
<circle cx="816.5" cy="855.9" r="7.2" fill="#e8321f"/>
<circle cx="836.9" cy="855.5" r="7.2" fill="#e8321f"/>
<circle cx="887" cy="858.6" r="7.2" fill="#e8321f"/>
<circle cx="942.7" cy="855.9" r="7.2" fill="#e8321f"/>
<circle cx="983.1" cy="853.1" r="7.2" fill="#e8321f"/>
<circle cx="1057.3" cy="852" r="7.2" fill="#e8321f"/>
<circle cx="1100.8" cy="853.1" r="7.2" fill="#e8321f"/>
<circle cx="1147.8" cy="853.1" r="7.2" fill="#e8321f"/>
<line x1="860.7" y1="628.4" x2="846" y2="597.5" stroke="#000" stroke-width="2.6"/>
<polygon points="840.8,587.2 852.6,597.8 843.4,601.8" fill="#000"/>
<rect x="929.2" y="568.2" width="300.7" height="196.8" fill="#fff"/>
<line x1="929.2" y1="721.4" x2="1229.9" y2="721.4" stroke="#bdbdbd" stroke-width="2.4"/>
<line x1="929.2" y1="677.8" x2="1229.9" y2="677.8" stroke="#bdbdbd" stroke-width="2.4"/>
<line x1="929.2" y1="634.2" x2="1229.9" y2="634.2" stroke="#bdbdbd" stroke-width="2.4"/>
<line x1="929.2" y1="590.6" x2="1229.9" y2="590.6" stroke="#bdbdbd" stroke-width="2.4"/>
<rect x="991.39" y="762.78" width="7.93" height="2.22" fill="#f08b76" fill-opacity="0.75" stroke="#000" stroke-width="1.5"/>
<rect x="999.32" y="755.31" width="7.93" height="9.69" fill="#f08b76" fill-opacity="0.75" stroke="#000" stroke-width="1.5"/>
<rect x="1007.25" y="743.52" width="7.48" height="21.48" fill="#f08b76" fill-opacity="0.75" stroke="#000" stroke-width="1.5"/>
<rect x="1014.73" y="733.33" width="8.39" height="31.67" fill="#f08b76" fill-opacity="0.75" stroke="#000" stroke-width="1.5"/>
<rect x="1023.12" y="728.12" width="7.93" height="36.88" fill="#f08b76" fill-opacity="0.75" stroke="#000" stroke-width="1.5"/>
<rect x="1031.05" y="706.82" width="7.93" height="58.18" fill="#f08b76" fill-opacity="0.75" stroke="#000" stroke-width="1.5"/>
<rect x="1038.98" y="681.67" width="7.93" height="83.33" fill="#f08b76" fill-opacity="0.75" stroke="#000" stroke-width="1.5"/>
<rect x="1046.91" y="655.16" width="7.93" height="109.84" fill="#f08b76" fill-opacity="0.75" stroke="#000" stroke-width="1.5"/>
<rect x="1054.84" y="626.84" width="8.39" height="138.16" fill="#f08b76" fill-opacity="0.75" stroke="#000" stroke-width="1.5"/>
<rect x="1063.23" y="600.78" width="7.48" height="164.22" fill="#f08b76" fill-opacity="0.75" stroke="#000" stroke-width="1.5"/>
<rect x="1070.71" y="590.59" width="7.93" height="174.41" fill="#f08b76" fill-opacity="0.75" stroke="#000" stroke-width="1.5"/>
<rect x="1078.64" y="606.45" width="9.07" height="158.55" fill="#f08b76" fill-opacity="0.75" stroke="#000" stroke-width="1.5"/>
<rect x="1087.71" y="625.03" width="7.93" height="139.97" fill="#f08b76" fill-opacity="0.75" stroke="#000" stroke-width="1.5"/>
<rect x="1095.64" y="631.37" width="7.93" height="133.63" fill="#f08b76" fill-opacity="0.75" stroke="#000" stroke-width="1.5"/>
<rect x="1103.57" y="645.42" width="7.93" height="119.58" fill="#f08b76" fill-opacity="0.75" stroke="#000" stroke-width="1.5"/>
<rect x="1111.5" y="679.4" width="7.93" height="85.6" fill="#f08b76" fill-opacity="0.75" stroke="#000" stroke-width="1.5"/>
<rect x="1119.43" y="703.87" width="7.93" height="61.13" fill="#f08b76" fill-opacity="0.75" stroke="#000" stroke-width="1.5"/>
<rect x="1127.37" y="722.68" width="7.93" height="42.32" fill="#f08b76" fill-opacity="0.75" stroke="#000" stroke-width="1.5"/>
<rect x="1135.3" y="740.8" width="7.93" height="24.2" fill="#f08b76" fill-opacity="0.75" stroke="#000" stroke-width="1.5"/>
<rect x="1143.23" y="749.87" width="7.93" height="15.13" fill="#f08b76" fill-opacity="0.75" stroke="#000" stroke-width="1.5"/>
<rect x="1151.16" y="754.85" width="7.93" height="10.15" fill="#f08b76" fill-opacity="0.75" stroke="#000" stroke-width="1.5"/>
<rect x="1159.09" y="759.38" width="7.93" height="5.62" fill="#f08b76" fill-opacity="0.75" stroke="#000" stroke-width="1.5"/>
<rect x="1167.03" y="762.78" width="7.93" height="2.22" fill="#f08b76" fill-opacity="0.75" stroke="#000" stroke-width="1.5"/>
<path d="M964.2 764.65 965.2 764.61 966.2 764.57 967.2 764.52 968.2 764.46 969.2 764.41 970.2 764.34 971.2 764.27 972.2 764.2 973.2 764.11 974.2 764.02 975.2 763.92 976.2 763.81 977.2 763.7 978.2 763.57 979.2 763.43 980.2 763.27 981.2 763.11 982.2 762.93 983.2 762.73 984.2 762.52 985.2 762.3 986.2 762.05 987.2 761.79 988.2 761.5 989.2 761.19 990.2 760.86 991.2 760.51 992.2 760.13 993.2 759.72 994.2 759.28 995.2 758.82 996.2 758.32 997.2 757.79 998.2 757.22 999.2 756.61 1000.2 755.97 1001.2 755.29 1002.2 754.56 1003.2 753.79 1004.2 752.98 1005.2 752.11 1006.2 751.2 1007.2 750.24 1008.2 749.23 1009.2 748.16 1010.2 747.04 1011.2 745.85 1012.2 744.61 1013.2 743.32 1014.2 741.95 1015.2 740.53 1016.2 739.04 1017.2 737.49 1018.2 735.87 1019.2 734.19 1020.2 732.43 1021.2 730.61 1022.2 728.73 1023.2 726.77 1024.2 724.75 1025.2 722.65 1026.2 720.5 1027.2 718.27 1028.2 715.98 1029.2 713.62 1030.2 711.2 1031.2 708.72 1032.2 706.18 1033.2 703.58 1034.2 700.93 1035.2 698.23 1036.2 695.47 1037.2 692.67 1038.2 689.82 1039.2 686.94 1040.2 684.02 1041.2 681.07 1042.2 678.09 1043.2 675.09 1044.2 672.08 1045.2 669.05 1046.2 666.01 1047.2 662.98 1048.2 659.95 1049.2 656.93 1050.2 653.92 1051.2 650.94 1052.2 647.99 1053.2 645.07 1054.2 642.19 1055.2 639.36 1056.2 636.59 1057.2 633.88 1058.2 631.23 1059.2 628.66 1060.2 626.16 1061.2 623.75 1062.2 621.44 1063.2 619.22 1064.2 617.1 1065.2 615.1 1066.2 613.2 1067.2 611.43 1068.2 609.78 1069.2 608.26 1070.2 606.87 1071.2 605.61 1072.2 604.5 1073.2 603.52 1074.2 602.7 1075.2 602.02 1076.2 601.49 1077.2 601.1 1078.2 600.88 1079.2 600.8 1080.2 600.88 1081.2 601.1 1082.2 601.49 1083.2 602.02 1084.2 602.7 1085.2 603.52 1086.2 604.5 1087.2 605.61 1088.2 606.87 1089.2 608.26 1090.2 609.78 1091.2 611.43 1092.2 613.2 1093.2 615.1 1094.2 617.1 1095.2 619.22 1096.2 621.44 1097.2 623.75 1098.2 626.16 1099.2 628.66 1100.2 631.23 1101.2 633.88 1102.2 636.59 1103.2 639.36 1104.2 642.19 1105.2 645.07 1106.2 647.99 1107.2 650.94 1108.2 653.92 1109.2 656.93 1110.2 659.95 1111.2 662.98 1112.2 666.01 1113.2 669.05 1114.2 672.08 1115.2 675.09 1116.2 678.09 1117.2 681.07 1118.2 684.02 1119.2 686.94 1120.2 689.82 1121.2 692.67 1122.2 695.47 1123.2 698.23 1124.2 700.93 1125.2 703.58 1126.2 706.18 1127.2 708.72 1128.2 711.2 1129.2 713.62 1130.2 715.98 1131.2 718.27 1132.2 720.5 1133.2 722.65 1134.2 724.75 1135.2 726.77 1136.2 728.73 1137.2 730.61 1138.2 732.43 1139.2 734.19 1140.2 735.87 1141.2 737.49 1142.2 739.04 1143.2 740.53 1144.2 741.95 1145.2 743.32 1146.2 744.61 1147.2 745.85 1148.2 747.04 1149.2 748.16 1150.2 749.23 1151.2 750.24 1152.2 751.2 1153.2 752.11 1154.2 752.98 1155.2 753.79 1156.2 754.56 1157.2 755.29 1158.2 755.97 1159.2 756.61 1160.2 757.22 1161.2 757.79 1162.2 758.32 1163.2 758.82 1164.2 759.28 1165.2 759.72 1166.2 760.13 1167.2 760.51 1168.2 760.86 1169.2 761.19 1170.2 761.5 1171.2 761.79 1172.2 762.05 1173.2 762.3 1174.2 762.52 1175.2 762.73 1176.2 762.93 1177.2 763.11 1178.2 763.27 1179.2 763.43 1180.2 763.57 1181.2 763.7 1182.2 763.81 1183.2 763.92 1184.2 764.02 1185.2 764.11 1186.2 764.2 1187.2 764.27 1188.2 764.34 1189.2 764.41 1190.2 764.46 1191.2 764.52 1192.2 764.57 1193.2 764.61 1194.2 764.65" fill="none" stroke="#e8321f" stroke-width="2.6"/>
<line x1="1078.7" y1="581.2" x2="1078.7" y2="765" stroke="#5ab4f0" stroke-width="3"/>
<line x1="1078.7" y1="666.7" x2="1235" y2="666.7" stroke="#5ab4f0" stroke-width="1.8"/>
<line x1="1078.7" y1="666.7" x2="1110" y2="666.7" stroke="#5ab4f0" stroke-width="3"/>
<ellipse cx="1101" cy="666.7" rx="5" ry="3.2" fill="#5ab4f0"/>
<line x1="929.2" y1="765" x2="941.7" y2="765" stroke="#000" stroke-width="2.4"/>
<line x1="929.2" y1="721.4" x2="936.2" y2="721.4" stroke="#000" stroke-width="2.4"/>
<line x1="929.2" y1="677.8" x2="941.7" y2="677.8" stroke="#000" stroke-width="2.4"/>
<line x1="929.2" y1="634.2" x2="936.2" y2="634.2" stroke="#000" stroke-width="2.4"/>
<line x1="929.2" y1="590.6" x2="941.7" y2="590.6" stroke="#000" stroke-width="2.4"/>
<line x1="962" y1="568.2" x2="962" y2="574.2" stroke="#000" stroke-width="2.4"/>
<line x1="1029" y1="568.2" x2="1029" y2="579.7" stroke="#000" stroke-width="2.4"/>
<line x1="1096.3" y1="568.2" x2="1096.3" y2="574.2" stroke="#000" stroke-width="2.4"/>
<line x1="1163.5" y1="568.2" x2="1163.5" y2="579.7" stroke="#000" stroke-width="2.4"/>
<line x1="987.3" y1="765" x2="987.3" y2="775.5" stroke="#000" stroke-width="2.4"/>
<line x1="1057.6" y1="765" x2="1057.6" y2="772" stroke="#000" stroke-width="2.4"/>
<line x1="1128" y1="765" x2="1128" y2="775.5" stroke="#000" stroke-width="2.4"/>
<line x1="1198.5" y1="765" x2="1198.5" y2="772" stroke="#000" stroke-width="2.4"/>
<rect x="929.2" y="568.2" width="300.7" height="196.8" fill="none" stroke="#000" stroke-width="2.6"/>
<text x="881.8" y="598" font-family="Liberation Sans" font-size="23.5" fill="#000" textLength="41.56" lengthAdjust="spacingAndGlyphs">400</text>
<text x="881.03" y="685.6" font-family="Liberation Sans" font-size="23.5" fill="#000" textLength="42.35" lengthAdjust="spacingAndGlyphs">200</text>
<text x="911.35" y="772.2" font-family="Liberation Sans" font-size="23.5" fill="#000" textLength="11.82" lengthAdjust="spacingAndGlyphs">0</text>
<text x="985.08" y="563.9" font-family="Liberation Sans" font-size="25.3" fill="#000" textLength="79.36" lengthAdjust="spacingAndGlyphs">473.44</text>
<text x="1119.59" y="563.9" font-family="Liberation Sans" font-size="25.3" fill="#000">473.52</text>
<text x="952.62" y="799.8" font-family="Liberation Sans" font-size="25.3" fill="#000" textLength="67.88" lengthAdjust="spacingAndGlyphs">11227</text>
<text x="1093.76" y="799.8" font-family="Liberation Sans" font-size="25.3" fill="#000" textLength="69.84" lengthAdjust="spacingAndGlyphs">11229</text>
<text x="1070.81" y="537.4" font-family="Liberation Sans" font-size="22" font-style="italic" fill="#000">t</text>
<text x="1077.33" y="544.2" font-family="Liberation Sans" font-size="21" font-style="italic" fill="#000">p</text>
<text x="1088.08" y="537.8" font-family="Liberation Sans" font-size="22" fill="#000" textLength="40.8" lengthAdjust="spacingAndGlyphs">(ps)</text>
<text x="1042.45" y="828" font-family="Liberation Sans" font-size="25" font-style="italic" fill="#000">T</text>
<text x="1059.97" y="834.5" font-family="Liberation Sans" font-size="19" font-style="italic" fill="#000">p</text>
<text x="1069.86" y="828" font-family="Liberation Sans" font-size="25" fill="#000" textLength="47.15" lengthAdjust="spacingAndGlyphs">(ns)</text>
<text x="1144.09" y="658" font-family="Liberation Sans" font-size="26" font-style="italic" fill="#000">σ</text>
<text x="1159.84" y="662.5" font-family="Liberation Sans" font-size="18" font-style="italic" fill="#000" textLength="39.79" lengthAdjust="spacingAndGlyphs">visual</text>
<text x="1124.69" y="691.9" font-family="Liberation Sans" font-size="25.5" fill="#000" textLength="97.24" lengthAdjust="spacingAndGlyphs">0.454 ns</text>
<text x="0" y="0" font-family="Liberation Sans" font-size="28.5" fill="#000" textLength="85.66" lengthAdjust="spacingAndGlyphs" transform="translate(872 723.45) rotate(-90)">Counts</text>
</svg></body></html>
